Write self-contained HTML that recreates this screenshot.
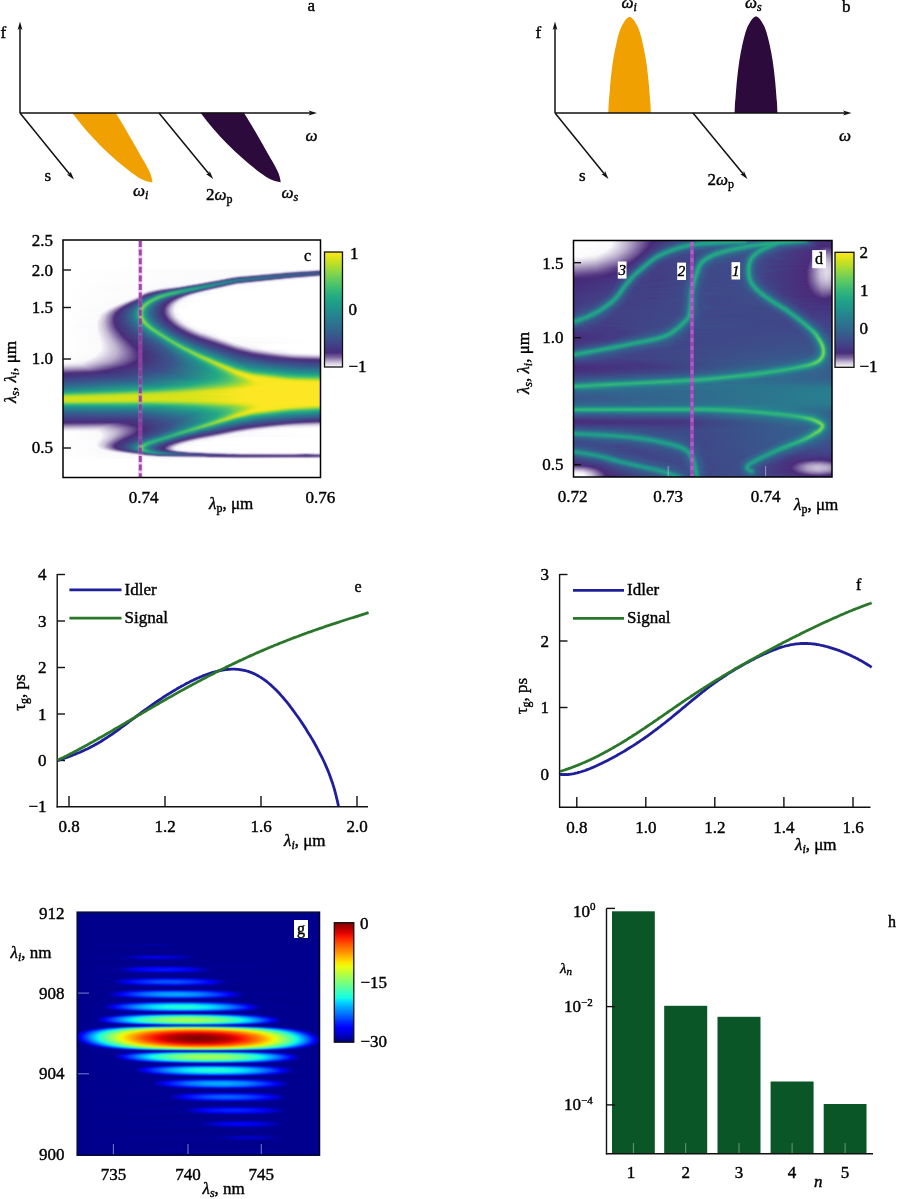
<!DOCTYPE html>
<html><head><meta charset="utf-8"><style>
html,body{margin:0;padding:0;background:#fff;}
body{width:897px;height:1199px;position:relative;overflow:hidden;}
.hm{position:absolute;}
.hm div{height:1px;}
svg{position:absolute;left:0;top:0;}
svg text{stroke:#000;stroke-width:0.4px;}
</style></head><body>
<div class="hm" style="left:78px;top:913px;width:242px;height:242px">
<div style="background:#00008d"></div>
<div style="background:#00008d"></div>
<div style="background:#00008d"></div>
<div style="background:#00008d"></div>
<div style="background:#00008d"></div>
<div style="background:#00008d"></div>
<div style="background:#00008d"></div>
<div style="background:#00008d"></div>
<div style="background:#00008d"></div>
<div style="background:#00008d"></div>
<div style="background:#00008d"></div>
<div style="background:#00008d"></div>
<div style="background:#00008d"></div>
<div style="background:#00008d"></div>
<div style="background:#00008d"></div>
<div style="background:#00008d"></div>
<div style="background:#00008d"></div>
<div style="background:#00008d"></div>
<div style="background:#00008d"></div>
<div style="background:#00008d"></div>
<div style="background:#00008d"></div>
<div style="background:#00008d"></div>
<div style="background:#00008d"></div>
<div style="background:#00008d"></div>
<div style="background:#00008d"></div>
<div style="background:#00008d"></div>
<div style="background:#00008d"></div>
<div style="background:#00008d"></div>
<div style="background:#00008d"></div>
<div style="background:#00008d"></div>
<div style="background:linear-gradient(90deg,#00008d 0.5px,#00008f 91.5px,#00008d 241.5px)"></div>
<div style="background:linear-gradient(90deg,#00008d 0.5px,#000093 55.5px,#0000a2 77.5px,#00008d 101.5px,#00008d 241.5px)"></div>
<div style="background:linear-gradient(90deg,#00008d 0.5px,#000092 54.5px,#0000a5 75.5px,#00008d 101.5px,#00008d 241.5px)"></div>
<div style="background:linear-gradient(90deg,#00008d 0.5px,#000093 61.5px,#000094 84.5px,#00008d 146.5px,#00008d 241.5px)"></div>
<div style="background:#00008d"></div>
<div style="background:#00008d"></div>
<div style="background:#00008d"></div>
<div style="background:#00008d"></div>
<div style="background:#00008d"></div>
<div style="background:#00008d"></div>
<div style="background:#00008d"></div>
<div style="background:linear-gradient(90deg,#00008d 0.5px,#000095 57.5px,#000098 93.5px,#00008d 129.5px,#00008d 241.5px)"></div>
<div style="background:linear-gradient(90deg,#00008d 0.5px,#000093 47.5px,#0000bd 70.5px,#0000b7 91.5px,#00008d 115.5px,#00008d 241.5px)"></div>
<div style="background:linear-gradient(90deg,#00008d 0.5px,#000091 43.5px,#0000d2 65.5px,#0000da 84.5px,#0000b8 102.5px,#00008d 116.5px,#00008d 241.5px)"></div>
<div style="background:linear-gradient(90deg,#00008d 0.5px,#000092 43.5px,#0000d2 63.5px,#0000e2 80.5px,#0000ca 98.5px,#00008d 117.5px,#00008d 241.5px)"></div>
<div style="background:linear-gradient(90deg,#00008d 0.5px,#000093 46.5px,#0000cd 70.5px,#0000cb 89.5px,#00008d 117.5px,#00008d 241.5px)"></div>
<div style="background:linear-gradient(90deg,#00008d 0.5px,#000094 52.5px,#0000b1 79.5px,#00009c 100.5px,#00008d 122.5px,#00008d 241.5px)"></div>
<div style="background:linear-gradient(90deg,#00008d 0.5px,#000091 97.5px,#00008d 241.5px)"></div>
<div style="background:#00008d"></div>
<div style="background:#00008d"></div>
<div style="background:#00008d"></div>
<div style="background:#00008d"></div>
<div style="background:linear-gradient(90deg,#00008d 0.5px,#000095 64.5px,#000095 103.5px,#00008d 192.5px,#00008d 241.5px)"></div>
<div style="background:linear-gradient(90deg,#00008d 0.5px,#000095 48.5px,#0000c3 78.5px,#0000b8 99.5px,#00008f 124.5px,#00008d 241.5px)"></div>
<div style="background:linear-gradient(90deg,#00008d 0.5px,#000093 41.5px,#0000e0 66.5px,#0004ee 87.5px,#0000d2 108.5px,#000092 128.5px,#00008d 241.5px)"></div>
<div style="background:linear-gradient(90deg,#00008d 0.5px,#000092 38.5px,#0000f0 59.5px,#000cfd 90.5px,#0000ed 110.5px,#00008e 133.5px,#00008d 241.5px)"></div>
<div style="background:linear-gradient(90deg,#00008d 0.5px,#000094 38.5px,#0000eb 55.5px,#0000fe 63.5px,#0014ff 87.5px,#0000f7 111.5px,#0000ae 127.5px,#00008d 134.5px,#00008d 241.5px)"></div>
<div style="background:linear-gradient(90deg,#00008d 0.5px,#000094 39.5px,#0000ed 59.5px,#000efd 84.5px,#0000f1 110.5px,#000098 130.5px,#00008d 137.5px,#00008d 241.5px)"></div>
<div style="background:linear-gradient(90deg,#00008d 0.5px,#000093 42.5px,#0001e0 69.5px,#0004ed 89.5px,#0000d3 109.5px,#00008f 131.5px,#00008d 241.5px)"></div>
<div style="background:linear-gradient(90deg,#00008d 0.5px,#000094 49.5px,#0000c0 83.5px,#0000b2 104.5px,#00008e 128.5px,#00008d 241.5px)"></div>
<div style="background:linear-gradient(90deg,#00008d 0.5px,#000096 70.5px,#000093 107.5px,#00008d 241.5px)"></div>
<div style="background:#00008d"></div>
<div style="background:#00008d"></div>
<div style="background:#00008d"></div>
<div style="background:linear-gradient(90deg,#00008d 0.5px,#000096 56.5px,#0001a6 95.5px,#00008d 143.5px,#00008d 241.5px)"></div>
<div style="background:linear-gradient(90deg,#00008d 0.5px,#000094 43.5px,#0000b3 56.5px,#0007d5 75.5px,#0008d6 102.5px,#0000b5 122.5px,#000096 135.5px,#00008d 158.5px,#00008d 241.5px)"></div>
<div style="background:linear-gradient(90deg,#00008d 0.5px,#000093 37.5px,#0005ec 60.5px,#0026f9 87.5px,#0014f3 110.5px,#0004e1 123.5px,#000094 143.5px,#00008d 231.5px,#00008d 241.5px)"></div>
<div style="background:linear-gradient(90deg,#00008d 0.5px,#000091 34.5px,#0000f2 51.5px,#0034fe 73.5px,#0045ff 93.5px,#0027fe 113.5px,#0000ef 130.5px,#00008f 148.5px,#00008d 241.5px)"></div>
<div style="background:linear-gradient(90deg,#00008d 0.5px,#000090 33.5px,#0000f9 49.5px,#001eff 60.5px,#004eff 79.5px,#0053ff 98.5px,#002eff 117.5px,#0000fb 131.5px,#0000d9 138.5px,#00008f 149.5px,#00008d 241.5px)"></div>
<div style="background:linear-gradient(90deg,#00008d 0.5px,#000093 34.5px,#0000f7 50.5px,#0049ff 78.5px,#0051ff 98.5px,#002aff 118.5px,#0000f9 132.5px,#0000b7 143.5px,#00008d 150.5px,#00008d 241.5px)"></div>
<div style="background:linear-gradient(90deg,#00008d 0.5px,#000093 36.5px,#0002ee 54.5px,#0030fd 77.5px,#003bfe 96.5px,#0017fb 119.5px,#0000e9 131.5px,#00008f 148.5px,#00008d 241.5px)"></div>
<div style="background:linear-gradient(90deg,#00008d 0.5px,#000094 40.5px,#0000b0 49.5px,#0008e5 67.5px,#001bf0 96.5px,#0007e1 119.5px,#0000b5 134.5px,#000094 143.5px,#00008d 185.5px,#00008d 241.5px)"></div>
<div style="background:linear-gradient(90deg,#00008d 0.5px,#000095 49.5px,#0005c5 85.5px,#0002be 109.5px,#00008e 144.5px,#00008d 241.5px)"></div>
<div style="background:linear-gradient(90deg,#00008d 0.5px,#000096 71.5px,#000099 109.5px,#00008d 154.5px,#00008d 241.5px)"></div>
<div style="background:#00008d"></div>
<div style="background:#00008d"></div>
<div style="background:linear-gradient(90deg,#00008d 0.5px,#000094 52.5px,#0002aa 80.5px,#0001a2 127.5px,#00008e 150.5px,#00008d 241.5px)"></div>
<div style="background:linear-gradient(90deg,#00008d 0.5px,#000094 40.5px,#0001b3 52.5px,#0011e2 74.5px,#001ee2 101.5px,#000edc 122.5px,#0000a9 141.5px,#00008d 159.5px,#00008d 241.5px)"></div>
<div style="background:linear-gradient(90deg,#00008d 0.5px,#000093 34.5px,#0000ab 40.5px,#000bec 55.5px,#0046fc 79.5px,#0056fd 98.5px,#0037fa 121.5px,#0007e0 140.5px,#0000a4 153.5px,#00008d 163.5px,#00008d 241.5px)"></div>
<div style="background:linear-gradient(90deg,#00008d 0.5px,#000092 31.5px,#0003f1 46.5px,#0042fe 62.5px,#0079ff 81.5px,#0086ff 100.5px,#0066ff 120.5px,#000ff5 143.5px,#0001e5 149.5px,#000093 162.5px,#00008d 241.5px)"></div>
<div style="background:linear-gradient(90deg,#00008d 0.5px,#00008f 29.5px,#0000f5 42.5px,#0019fe 49.5px,#006eff 67.5px,#009bff 86.5px,#009eff 105.5px,#0079ff 123.5px,#0022fe 143.5px,#0000f5 151.5px,#00008f 165.5px,#00008d 241.5px)"></div>
<div style="background:linear-gradient(90deg,#00008d 0.5px,#000090 29.5px,#0000f9 42.5px,#0017ff 48.5px,#006fff 66.5px,#00a0ff 85.5px,#00a6ff 102.5px,#008aff 120.5px,#0045ff 138.5px,#0001fd 151.5px,#0000d7 157.5px,#000091 165.5px,#00008d 241.5px)"></div>
<div style="background:linear-gradient(90deg,#00008d 0.5px,#000091 30.5px,#0001f3 44.5px,#0047ff 60.5px,#0085ff 78.5px,#009dff 98.5px,#0081ff 119.5px,#003bff 138.5px,#0000f6 151.5px,#00008f 165.5px,#00008d 241.5px)"></div>
<div style="background:linear-gradient(90deg,#00008d 0.5px,#000093 33.5px,#0000b7 40.5px,#0008ee 51.5px,#004afd 70.5px,#0074fe 89.5px,#0071fe 109.5px,#0045fd 128.5px,#0006ee 146.5px,#0000ab 158.5px,#00008f 164.5px,#00008d 241.5px)"></div>
<div style="background:linear-gradient(90deg,#00008d 0.5px,#000094 38.5px,#0000b0 47.5px,#000ee2 62.5px,#003ef3 89.5px,#003af2 112.5px,#0008d9 139.5px,#0000a6 152.5px,#00008d 164.5px,#00008d 241.5px)"></div>
<div style="background:linear-gradient(90deg,#00008d 0.5px,#000094 47.5px,#0012d0 93.5px,#000cc3 119.5px,#00008e 156.5px,#00008d 241.5px)"></div>
<div style="background:linear-gradient(90deg,#00008d 0.5px,#000196 72.5px,#0001a0 110.5px,#00008d 154.5px,#00008d 241.5px)"></div>
<div style="background:#00008d"></div>
<div style="background:linear-gradient(90deg,#00008d 0.5px,#000095 51.5px,#0004aa 72.5px,#000faa 111.5px,#0001a2 142.5px,#00008e 162.5px,#00008d 241.5px)"></div>
<div style="background:linear-gradient(90deg,#00008d 0.5px,#000094 38.5px,#0008c2 55.5px,#0018e2 68.5px,#0042e2 93.5px,#003ee2 114.5px,#0014db 139.5px,#00009e 161.5px,#00008d 174.5px,#00008d 241.5px)"></div>
<div style="background:linear-gradient(90deg,#00008d 0.5px,#000093 31.5px,#0000b0 38.5px,#000ee6 50.5px,#0060fc 72.5px,#008efc 92.5px,#008efc 111.5px,#0064fc 130.5px,#0015e6 152.5px,#0001bb 164.5px,#00009a 171.5px,#00008d 182.5px,#00008d 241.5px)"></div>
<div style="background:linear-gradient(90deg,#00008d 0.5px,#000092 27.5px,#0000bf 34.5px,#0009f0 42.5px,#005afe 57.5px,#00acff 76.5px,#06d0f7 94.5px,#05cbf8 114.5px,#00a0ff 132.5px,#004cfd 150.5px,#0008e9 164.5px,#000096 177.5px,#00008d 191.5px,#00008d 241.5px)"></div>
<div style="background:linear-gradient(90deg,#00008d 0.5px,#000090 25.5px,#0002f5 37.5px,#0079ff 56.5px,#00ccfd 74.5px,#10f0e9 90.5px,#11f1e7 114.5px,#01d1fc 130.5px,#0081ff 148.5px,#000af6 167.5px,#0000d3 173.5px,#000091 181.5px,#00008d 241.5px)"></div>
<div style="background:linear-gradient(90deg,#00008d 0.5px,#00008f 24.5px,#0000f9 35.5px,#0022ff 41.5px,#009bff 59.5px,#02e2f7 75.5px,#18fcdf 88.5px,#20fed7 111.5px,#09efef 127.5px,#00bfff 140.5px,#0059ff 158.5px,#0003fb 170.5px,#0000ed 173.5px,#000093 182.5px,#00008d 241.5px)"></div>
<div style="background:linear-gradient(90deg,#00008d 0.5px,#000093 25.5px,#0000f5 35.5px,#001fff 41.5px,#0099ff 59.5px,#03e3f6 76.5px,#18fbdf 88.5px,#21fed6 111.5px,#0af1ed 127.5px,#00c6ff 139.5px,#0064ff 157.5px,#0001fd 171.5px,#0000de 175.5px,#00008f 183.5px,#00008d 241.5px)"></div>
<div style="background:linear-gradient(90deg,#00008d 0.5px,#000092 26.5px,#0003f0 38.5px,#0043fe 49.5px,#00a9ff 67.5px,#0ae7ef 85.5px,#16f4e3 108.5px,#05e1f4 126.5px,#009eff 144.5px,#002afe 163.5px,#0001f1 171.5px,#000090 182.5px,#00008d 241.5px)"></div>
<div style="background:linear-gradient(90deg,#00008d 0.5px,#000094 29.5px,#0000b5 35.5px,#000ceb 45.5px,#0059fc 60.5px,#00a9fd 79.5px,#06cbf7 98.5px,#04c2f9 119.5px,#008efe 138.5px,#0021f5 160.5px,#0004e3 167.5px,#000092 180.5px,#00008d 241.5px)"></div>
<div style="background:linear-gradient(90deg,#00008d 0.5px,#000094 34.5px,#0001b2 43.5px,#0014e2 56.5px,#0062f5 80.5px,#017dfc 102.5px,#006efa 124.5px,#0039e9 144.5px,#000ede 157.5px,#00009d 172.5px,#00008d 183.5px,#00008d 241.5px)"></div>
<div style="background:linear-gradient(90deg,#00008d 0.5px,#000094 43.5px,#0005aa 59.5px,#0010b9 68.5px,#0023e2 93.5px,#001fdb 126.5px,#0004aa 152.5px,#00008e 176.5px,#00008d 241.5px)"></div>
<div style="background:linear-gradient(90deg,#00008d 0.5px,#000196 66.5px,#0005ac 100.5px,#0003a2 135.5px,#00008f 163.5px,#00008d 241.5px)"></div>
<div style="background:linear-gradient(90deg,#00008d 0.5px,#000196 51.5px,#0007ab 70.5px,#001cac 109.5px,#0002a4 155.5px,#000090 172.5px,#00008d 241.5px)"></div>
<div style="background:linear-gradient(90deg,#00008d 0.5px,#000096 35.5px,#000cb7 51.5px,#0022e2 65.5px,#015fe1 89.5px,#036ddd 111.5px,#0152e1 133.5px,#001edc 153.5px,#0005aa 168.5px,#00008e 189.5px,#00008d 241.5px)"></div>
<div style="background:linear-gradient(90deg,#00008d 0.5px,#000095 27.5px,#0001af 34.5px,#0015e2 45.5px,#017efa 67.5px,#0db3ed 83.5px,#17cddf 105.5px,#0fbaeb 129.5px,#0389f7 146.5px,#005bf3 157.5px,#0014df 172.5px,#00009f 186.5px,#00008d 196.5px,#00008d 241.5px)"></div>
<div style="background:linear-gradient(90deg,#00008d 0.5px,#000094 22.5px,#0000b0 27.5px,#000feb 36.5px,#005ffd 48.5px,#06bff7 63.5px,#21e8d8 76.5px,#47f7b0 103.5px,#3cf3bd 125.5px,#16dee3 145.5px,#01a0fb 159.5px,#0035f5 175.5px,#000add 183.5px,#00009c 193.5px,#00008d 201.5px,#00008d 241.5px)"></div>
<div style="background:linear-gradient(90deg,#00008d 0.5px,#000091 19.5px,#0000cf 26.5px,#000cf3 31.5px,#0075ff 44.5px,#05d5f7 57.5px,#1ef2db 65.5px,#5efe99 86.5px,#76ff80 108.5px,#61fe96 130.5px,#20f2d8 152.5px,#06d0f7 161.5px,#0046fd 179.5px,#0008eb 188.5px,#000097 198.5px,#00008d 208.5px,#00008d 241.5px)"></div>
<div style="background:linear-gradient(90deg,#00008d 0.5px,#000093 18.5px,#0002f6 27.5px,#0044ff 35.5px,#01d5fb 52.5px,#16f6e2 58.5px,#68ff8e 79.5px,#90ff67 100.5px,#8eff69 121.5px,#5eff99 143.5px,#15f3e4 161.5px,#00c2fe 169.5px,#000bf8 190.5px,#0000de 194.5px,#000094 201.5px,#00008d 221.5px,#00008d 241.5px)"></div>
<div style="background:linear-gradient(90deg,#00008d 0.5px,#000090 17.5px,#0001fa 26.5px,#001fff 30.5px,#00c6ff 48.5px,#0bf2ec 54.5px,#2fffc7 61.5px,#7cff7b 81.5px,#a0ff57 102.5px,#9aff5d 124.5px,#64ff92 146.5px,#13f9e4 164.5px,#00d0fe 170.5px,#0042ff 186.5px,#0003fa 193.5px,#0000e1 196.5px,#000096 202.5px,#00008d 209.5px,#00008d 241.5px)"></div>
<div style="background:linear-gradient(90deg,#00008d 0.5px,#00008f 17.5px,#0000d4 23.5px,#0003fb 27.5px,#00d2fe 50.5px,#19fbde 57.5px,#6eff89 77.5px,#9cff5b 98.5px,#9eff59 121.5px,#73ff83 142.5px,#20fed7 162.5px,#06eaf2 167.5px,#00bdff 173.5px,#0004fd 193.5px,#0000e6 196.5px,#000090 203.5px,#00008d 241.5px)"></div>
<div style="background:linear-gradient(90deg,#00008d 0.5px,#000094 19.5px,#0003ef 28.5px,#003ffe 36.5px,#03d6f8 54.5px,#1df5dc 61.5px,#6cff8b 82.5px,#90ff66 104.5px,#87ff70 126.5px,#57fea0 146.5px,#15f3e3 162.5px,#00c4ff 170.5px,#0006f6 192.5px,#0000e3 195.5px,#000092 202.5px,#00008d 241.5px)"></div>
<div style="background:linear-gradient(90deg,#00008d 0.5px,#000093 21.5px,#0000b4 26.5px,#000ee9 34.5px,#0066fc 46.5px,#07c8f5 60.5px,#21e8d7 69.5px,#60fb97 95.5px,#6afc8c 118.5px,#45f8b2 140.5px,#11dee8 158.5px,#009efd 169.5px,#0023f4 185.5px,#0003de 191.5px,#000094 200.5px,#00008d 219.5px,#00008d 241.5px)"></div>
<div style="background:linear-gradient(90deg,#00008d 0.5px,#000093 25.5px,#0002b8 34.5px,#0017e2 43.5px,#0068ed 57.5px,#0a9ef1 70.5px,#24d2d2 89.5px,#36dac1 114.5px,#1bcbdb 139.5px,#0289f8 159.5px,#0010df 182.5px,#00009e 194.5px,#00008d 203.5px,#00008d 241.5px)"></div>
<div style="background:linear-gradient(90deg,#00008d 0.5px,#000094 33.5px,#0005aa 45.5px,#0016b4 53.5px,#012de4 67.5px,#086ddb 90.5px,#0e7cd5 116.5px,#0565de 139.5px,#0028e1 160.5px,#000cab 175.5px,#00009c 187.5px,#00008d 198.5px,#00008d 241.5px)"></div>
<div style="background:linear-gradient(90deg,#00008d 0.5px,#000497 49.5px,#000bc3 64.5px,#0342c3 96.5px,#0447c2 124.5px,#0123c5 150.5px,#0008bc 165.5px,#000292 181.5px,#00008d 241.5px)"></div>
<div style="background:linear-gradient(90deg,#00008d 0.5px,#000195 27.5px,#0006aa 37.5px,#0020b0 48.5px,#0237e2 61.5px,#136dd0 79.5px,#2090c3 105.5px,#1e87c5 132.5px,#0c58d7 156.5px,#0234dd 168.5px,#001ca9 181.5px,#0002a4 195.5px,#000090 205.5px,#00008d 241.5px)"></div>
<div style="background:linear-gradient(90deg,#00008d 0.5px,#000095 17.5px,#000ab5 27.5px,#0020e2 35.5px,#0a86e0 51.5px,#1aaedf 62.5px,#36cbc0 71.5px,#69dd8e 93.5px,#77e17f 119.5px,#59d69e 144.5px,#25bcd2 162.5px,#17a2e0 169.5px,#0369de 182.5px,#0022e1 193.5px,#0005aa 203.5px,#00008e 217.5px,#00008d 241.5px)"></div>
<div style="background:linear-gradient(90deg,#00008d 0.5px,#000096 11.5px,#0002b5 17.5px,#0018e2 24.5px,#017bfa 36.5px,#18cedf 47.5px,#3fe6b9 55.5px,#8efa69 73.5px,#b8f041 88.5px,#cfe72a 114.5px,#baee3f 139.5px,#8bf96c 156.5px,#26d9d1 179.5px,#0da6ee 187.5px,#0168f6 195.5px,#0018e1 205.5px,#0001a3 215.5px,#00008e 223.5px,#00008d 241.5px)"></div>
<div style="background:linear-gradient(90deg,#00008d 0.5px,#000098 7.5px,#0001c0 12.5px,#0018eb 18.5px,#0068fc 26.5px,#0dccee 36.5px,#2eeccb 42.5px,#7efd79 55.5px,#c9f530 70.5px,#ebda12 83.5px,#f6b407 106.5px,#f4b809 128.5px,#e1e718 151.5px,#a8fd4f 167.5px,#49f3b0 183.5px,#1bdbde 191.5px,#05a5f6 198.5px,#0046f7 207.5px,#0012e1 213.5px,#00009d 222.5px,#00008d 229.5px,#00008d 241.5px)"></div>
<div style="background:linear-gradient(90deg,#00008d 0.5px,#00009f 5.5px,#000cec 12.5px,#0054fe 19.5px,#08ccf5 29.5px,#28f2d0 35.5px,#89ff6e 48.5px,#dbf51e 62.5px,#f4d109 72.5px,#fe8601 95.5px,#fe7000 116.5px,#fe8901 137.5px,#ede20f 163.5px,#b9fd3e 175.5px,#3bf5bd 193.5px,#14dde5 199.5px,#018cfe 207.5px,#0024f2 216.5px,#0006d1 221.5px,#00009a 227.5px,#00008d 234.5px,#00008d 241.5px)"></div>
<div style="background:linear-gradient(90deg,#000091 0.5px,#0000a9 3.5px,#000bf2 9.5px,#005eff 16.5px,#05d2f7 25.5px,#23f6d5 30.5px,#adff49 47.5px,#e9f110 57.5px,#feae01 70.5px,#ff5e00 90.5px,#fd3c00 110.5px,#fe4800 131.5px,#ff7e00 151.5px,#f3de0a 171.5px,#d1fa28 179.5px,#5afe9d 195.5px,#1becdd 203.5px,#02b1fb 209.5px,#0026f8 220.5px,#0007e1 224.5px,#00009d 230.5px,#00008d 236.5px,#00008d 241.5px)"></div>
<div style="background:linear-gradient(90deg,#0000a0 0.5px,#0005f2 6.5px,#003eff 11.5px,#04d4f8 22.5px,#1df7db 26.5px,#c8ff2f 46.5px,#f2ed08 53.5px,#ff9800 67.5px,#ff4500 85.5px,#f61d00 102.5px,#f11800 124.5px,#fd3400 142.5px,#ff7b00 160.5px,#f5e208 178.5px,#cafe2d 186.5px,#2bf8cc 205.5px,#08d6f4 210.5px,#0060ff 219.5px,#0013f5 225.5px,#0001d0 229.5px,#000095 234.5px,#00008d 241.5px)"></div>
<div style="background:linear-gradient(90deg,#0000b9 0.5px,#0002f3 4.5px,#001ffe 7.5px,#03d8f9 20.5px,#20fad7 24.5px,#d2ff25 44.5px,#f7ea05 50.5px,#ff6200 71.5px,#f91c00 88.5px,#dc0700 103.5px,#d30500 123.5px,#f31500 142.5px,#ff4800 157.5px,#febc01 177.5px,#eef20b 185.5px,#adff49 194.5px,#24f8d3 209.5px,#07dbf4 213.5px,#006eff 221.5px,#0011f8 228.5px,#0001dd 231.5px,#000097 236.5px,#00008d 241.5px)"></div>
<div style="background:linear-gradient(90deg,#0000cf 0.5px,#0002f8 3.5px,#0022ff 6.5px,#01d2fd 18.5px,#1cfbdb 22.5px,#cdff2a 41.5px,#f2f507 46.5px,#ffb800 54.5px,#ff4100 73.5px,#f20f00 85.5px,#bc0000 105.5px,#b50000 125.5px,#e30700 145.5px,#fe2b00 157.5px,#ff9f00 177.5px,#f7e905 187.5px,#d0ff27 193.5px,#21f9d6 212.5px,#04d7f8 216.5px,#001dfd 229.5px,#0003ee 232.5px,#000096 238.5px,#00008d 241.5px)"></div>
<div style="background:linear-gradient(90deg,#0000dd 0.5px,#0005fd 3.5px,#03e0f8 18.5px,#1dfdda 21.5px,#d1ff25 40.5px,#f8f203 45.5px,#ff6400 64.5px,#f71000 80.5px,#cb0000 91.5px,#a00000 108.5px,#9f0000 126.5px,#c60000 143.5px,#f30f00 155.5px,#ff4400 166.5px,#ffb500 183.5px,#f3f307 191.5px,#bbff3c 198.5px,#21fbd6 214.5px,#03d8f9 218.5px,#000dfc 232.5px,#0000dd 235.5px,#00009a 239.5px,#00008e 241.5px)"></div>
<div style="background:linear-gradient(90deg,#0000e2 0.5px,#0009ff 3.5px,#01d9fc 17.5px,#17fcdf 20.5px,#d0ff27 39.5px,#f1fa07 43.5px,#ffd900 47.5px,#ff4700 67.5px,#f70e00 78.5px,#d00000 86.5px,#980000 104.5px,#8b0000 122.5px,#ac0000 141.5px,#ef0800 157.5px,#ff2800 164.5px,#ff9d00 182.5px,#f9ef03 192.5px,#d3ff24 197.5px,#27fed0 215.5px,#0aecef 218.5px,#00b5ff 222.5px,#000ffe 233.5px,#0000e4 236.5px,#00009d 240.5px,#000093 241.5px)"></div>
<div style="background:linear-gradient(90deg,#0000e1 0.5px,#0009ff 3.5px,#01dafc 17.5px,#18fcdf 20.5px,#daff1d 40.5px,#faf001 44.5px,#ff5c00 63.5px,#f70d00 77.5px,#d30000 84.5px,#970000 101.5px,#820000 118.5px,#950000 136.5px,#d50000 154.5px,#f91000 161.5px,#ff8300 180.5px,#fbec01 193.5px,#ddff19 197.5px,#32ffc5 215.5px,#12f7e5 218.5px,#01d2fd 221.5px,#000efe 234.5px,#0001f3 236.5px,#00009d 241.5px)"></div>
<div style="background:linear-gradient(90deg,#0000da 0.5px,#0005fd 3.5px,#00d5fd 17.5px,#14fae3 20.5px,#d8ff1f 40.5px,#f8f303 44.5px,#ff6500 62.5px,#f80e00 77.5px,#d30000 84.5px,#960000 101.5px,#810000 118.5px,#900000 135.5px,#cb0000 153.5px,#f00700 160.5px,#ff2000 165.5px,#ff9300 183.5px,#faf001 194.5px,#e3ff14 197.5px,#39ffbe 215.5px,#0ef5e9 219.5px,#00ccfe 222.5px,#000afe 235.5px,#0000ee 237.5px,#0000a7 241.5px)"></div>
<div style="background:linear-gradient(90deg,#0000cb 0.5px,#0002f8 3.5px,#0023ff 6.5px,#01d8fb 18.5px,#17fae0 21.5px,#c8ff2f 39.5px,#f1f908 44.5px,#ffcf00 49.5px,#ff4b00 67.5px,#f81000 78.5px,#d40000 85.5px,#990000 102.5px,#860000 118.5px,#940000 135.5px,#ce0000 153.5px,#f30900 160.5px,#ff2700 166.5px,#ff9b00 184.5px,#fbef01 194.5px,#e4ff13 197.5px,#3bffbc 215.5px,#10f7e7 219.5px,#00cffe 222.5px,#0003fc 236.5px,#0000ce 239.5px,#0000ac 241.5px)"></div>
<div style="background:linear-gradient(90deg,#0000b6 0.5px,#0002f5 4.5px,#0022ff 7.5px,#01d5fb 19.5px,#15f7e3 22.5px,#a9ff4e 37.5px,#ecfa0c 45.5px,#fed500 50.5px,#ff4c00 69.5px,#f81100 80.5px,#cd0000 90.5px,#9c0000 107.5px,#910000 125.5px,#b50000 144.5px,#ef0800 158.5px,#ff2800 165.5px,#ff9900 183.5px,#f7f303 194.5px,#d8ff1f 198.5px,#23fed4 217.5px,#05e8f4 220.5px,#00a1ff 225.5px,#000aff 235.5px,#0000f1 237.5px,#0000ab 241.5px)"></div>
<div style="background:linear-gradient(90deg,#00009f 0.5px,#0006f7 6.5px,#0046ff 11.5px,#04d9f8 21.5px,#22fbd5 25.5px,#d3ff24 44.5px,#f7ed05 49.5px,#ff6400 68.5px,#f61300 84.5px,#cb0100 96.5px,#a60000 114.5px,#aa0000 131.5px,#dc0300 150.5px,#fe2100 161.5px,#ff8f00 180.5px,#faed02 192.5px,#d6ff20 197.5px,#30ffc7 215.5px,#11f6e6 218.5px,#00d1fd 221.5px,#0005fd 235.5px,#0000e9 237.5px,#0000a2 241.5px)"></div>
<div style="background:linear-gradient(90deg,#000091 0.5px,#0000af 3.5px,#0003ed 7.5px,#0029fe 11.5px,#04d5f8 23.5px,#1ff8d8 27.5px,#c4ff32 45.5px,#f0f20a 51.5px,#ffb300 60.5px,#ff4500 78.5px,#ef1000 92.5px,#c10100 113.5px,#c40100 132.5px,#f21000 151.5px,#ff4800 165.5px,#ffb700 183.5px,#f4f206 191.5px,#c0ff37 198.5px,#19f9df 216.5px,#01cefd 220.5px,#0007fc 234.5px,#0000d8 237.5px,#000096 241.5px)"></div>
<div style="background:linear-gradient(90deg,#00008e 0.5px,#0000a0 4.5px,#0008ef 10.5px,#003ffe 15.5px,#03cbf9 25.5px,#22f6d6 30.5px,#afff48 46.5px,#eef00c 55.5px,#ffa900 66.5px,#ff4900 84.5px,#f31600 100.5px,#dd0800 120.5px,#ed1000 140.5px,#ff3e00 157.5px,#ff9a00 175.5px,#f6ea06 187.5px,#d2ff24 193.5px,#2efdc9 212.5px,#0be8ef 216.5px,#00a9ff 221.5px,#000efc 232.5px,#0000e2 235.5px,#000095 240.5px,#00008f 241.5px)"></div>
<div style="background:linear-gradient(90deg,#00008d 0.5px,#00009b 6.5px,#000aed 13.5px,#004bfe 19.5px,#06cff6 29.5px,#26f5d3 34.5px,#94ff63 47.5px,#e6f312 59.5px,#febd01 69.5px,#ff5b00 89.5px,#f92a00 108.5px,#f72400 131.5px,#ff4600 149.5px,#ff8d00 167.5px,#f3e908 183.5px,#c5ff32 191.5px,#27f9d0 210.5px,#0ae1f0 214.5px,#0096ff 220.5px,#0010f9 230.5px,#0001e1 233.5px,#000098 238.5px,#00008d 241.5px)"></div>
<div style="background:linear-gradient(90deg,#00008d 0.5px,#000095 8.5px,#0000ac 11.5px,#000eeb 17.5px,#0059fe 24.5px,#08c9f5 33.5px,#22efd7 38.5px,#70fe87 48.5px,#d2f927 62.5px,#f3da0a 71.5px,#ff7a00 94.5px,#fe5200 113.5px,#fe5500 135.5px,#ff8200 154.5px,#f2e30a 176.5px,#c9fd2e 185.5px,#31f9c6 205.5px,#0ee1eb 210.5px,#0092ff 217.5px,#0015f6 227.5px,#0003e1 230.5px,#000098 236.5px,#00008d 241.5px)"></div>
<div style="background:linear-gradient(90deg,#00008d 0.5px,#000093 11.5px,#0001b5 16.5px,#001aed 23.5px,#0070fd 31.5px,#0bc7f2 39.5px,#24ead5 44.5px,#76fd81 56.5px,#cef62b 71.5px,#eedb0f 81.5px,#fd9501 106.5px,#fe8701 125.5px,#fd9f02 145.5px,#e8e912 169.5px,#acfe4b 182.5px,#37f6c1 199.5px,#11dde8 205.5px,#008cfe 213.5px,#0024f5 222.5px,#0008e0 226.5px,#000099 233.5px,#00008d 240.5px,#00008d 241.5px)"></div>
<div style="background:linear-gradient(90deg,#00008d 0.5px,#000096 16.5px,#0002b8 22.5px,#0015e2 28.5px,#0179fb 39.5px,#11c9e9 48.5px,#31e7c8 54.5px,#7ffc78 68.5px,#bef53b 82.5px,#e6de17 98.5px,#eec50f 121.5px,#ead513 144.5px,#d3ef26 158.5px,#a0fc57 173.5px,#4bf5ac 188.5px,#1adcdf 197.5px,#039cf9 205.5px,#0041f6 214.5px,#000fe2 220.5px,#0000a0 228.5px,#00008d 235.5px,#00008d 241.5px)"></div>
<div style="background:linear-gradient(90deg,#00008d 0.5px,#000096 22.5px,#0006b7 30.5px,#001de2 37.5px,#088cf2 52.5px,#1ecbd8 62.5px,#51e6a5 74.5px,#96f661 95.5px,#b5ec44 118.5px,#aaf04f 143.5px,#81f776 160.5px,#23d5d3 185.5px,#0ca4ee 193.5px,#016af5 201.5px,#0017e1 212.5px,#0001a3 222.5px,#00008e 230.5px,#00008d 241.5px)"></div>
<div style="background:linear-gradient(90deg,#00008d 0.5px,#000096 30.5px,#0007aa 39.5px,#0014bb 44.5px,#0129e2 52.5px,#0c7ed5 67.5px,#2ebdc4 89.5px,#56c7a0 113.5px,#53c6a4 140.5px,#26b7ca 163.5px,#056edc 186.5px,#0022df 199.5px,#0007aa 209.5px,#00008e 225.5px,#00008d 241.5px)"></div>
<div style="background:linear-gradient(90deg,#00008d 0.5px,#000195 43.5px,#0007aa 54.5px,#022faf 75.5px,#0842d4 90.5px,#165acd 127.5px,#0742d6 160.5px,#0128ab 179.5px,#0002a4 201.5px,#000090 211.5px,#00008d 241.5px)"></div>
<div style="background:linear-gradient(90deg,#00008d 0.5px,#000295 59.5px,#0013b5 79.5px,#022dc4 100.5px,#033ec2 128.5px,#001ebd 165.5px,#0004a4 187.5px,#000092 200.5px,#00008d 241.5px)"></div>
<div style="background:linear-gradient(90deg,#00008d 0.5px,#000092 45.5px,#000ab1 59.5px,#0022e2 71.5px,#0679dd 94.5px,#1299d1 120.5px,#0e8dd5 147.5px,#0163e2 166.5px,#0021df 183.5px,#0006aa 196.5px,#000093 208.5px,#00008d 241.5px)"></div>
<div style="background:linear-gradient(90deg,#00008d 0.5px,#000094 40.5px,#0000a9 45.5px,#000ee1 54.5px,#0084fc 74.5px,#0cbfee 86.5px,#26ddd0 98.5px,#44e7b3 123.5px,#35e1c2 148.5px,#16cde1 163.5px,#018df9 178.5px,#004df0 189.5px,#000fdf 200.5px,#00009f 211.5px,#00008d 220.5px,#00008d 241.5px)"></div>
<div style="background:linear-gradient(90deg,#00008d 0.5px,#000092 37.5px,#0007ec 48.5px,#0052fd 58.5px,#04cdf8 74.5px,#20efd8 83.5px,#63fd94 106.5px,#78fd7f 127.5px,#64fd93 148.5px,#27efd2 170.5px,#0ad8ef 178.5px,#0087fe 190.5px,#0020f4 203.5px,#0003d9 209.5px,#000097 217.5px,#00008d 227.5px,#00008d 241.5px)"></div>
<div style="background:linear-gradient(90deg,#00008d 0.5px,#00008f 35.5px,#0000c1 40.5px,#0002f6 45.5px,#003bff 52.5px,#00cffe 69.5px,#17f7e0 76.5px,#6cff8b 97.5px,#94ff62 118.5px,#90ff67 141.5px,#60ff97 162.5px,#16f4e3 180.5px,#00c2fe 188.5px,#000cf7 209.5px,#0000df 213.5px,#000093 220.5px,#00008d 241.5px)"></div>
<div style="background:linear-gradient(90deg,#00008d 0.5px,#00008f 35.5px,#0000f9 44.5px,#001cff 48.5px,#00b3ff 64.5px,#02e2f8 70.5px,#1bfddc 75.5px,#74ff82 96.5px,#a0ff57 117.5px,#9fff58 140.5px,#72ff85 161.5px,#1dfdda 181.5px,#01def9 187.5px,#004aff 204.5px,#0001fb 212.5px,#0000c2 217.5px,#000093 221.5px,#00008d 241.5px)"></div>
<div style="background:linear-gradient(90deg,#00008d 0.5px,#000092 36.5px,#0002f8 45.5px,#003eff 52.5px,#00cdff 68.5px,#16fae1 75.5px,#70ff87 96.5px,#9dff5a 117.5px,#9dff5a 140.5px,#72ff85 161.5px,#18fcdf 182.5px,#00cfff 189.5px,#0042ff 205.5px,#0002fc 212.5px,#0000d3 216.5px,#000093 221.5px,#00008d 241.5px)"></div>
<div style="background:linear-gradient(90deg,#00008d 0.5px,#000091 37.5px,#0000cb 43.5px,#0004f1 47.5px,#0043fe 55.5px,#02d3fa 72.5px,#1af6de 79.5px,#6bff8c 100.5px,#90ff67 122.5px,#8aff6d 143.5px,#5cff9b 163.5px,#16f6e2 180.5px,#00c7fe 188.5px,#0033ff 205.5px,#0003f6 211.5px,#0000d0 215.5px,#000090 221.5px,#00008d 241.5px)"></div>
<div style="background:linear-gradient(90deg,#00008d 0.5px,#000091 39.5px,#0000b2 44.5px,#000cf0 52.5px,#0062fe 63.5px,#06d1f6 78.5px,#21f1d8 87.5px,#5efe99 108.5px,#74fe83 131.5px,#5bfe9c 153.5px,#1bf1de 174.5px,#01c1fc 184.5px,#001af9 205.5px,#0002e4 210.5px,#000097 218.5px,#00008d 227.5px,#00008d 241.5px)"></div>
<div style="background:linear-gradient(90deg,#00008d 0.5px,#000093 43.5px,#0000b1 49.5px,#0015ea 59.5px,#0063fc 71.5px,#08bff5 86.5px,#22e8d7 99.5px,#44f6b3 126.5px,#35f2c3 150.5px,#13dce6 167.5px,#01a3fc 180.5px,#002ff6 197.5px,#0009e2 204.5px,#000097 215.5px,#00008d 226.5px,#00008d 241.5px)"></div>
<div style="background:linear-gradient(90deg,#00008d 0.5px,#000091 48.5px,#0002b4 58.5px,#0017e2 68.5px,#0181f9 91.5px,#0db1ee 106.5px,#15cbe2 128.5px,#0fbcec 150.5px,#028cf8 168.5px,#0058f5 180.5px,#0010df 195.5px,#00009e 208.5px,#00008d 218.5px,#00008d 241.5px)"></div>
<div style="background:linear-gradient(90deg,#00008d 0.5px,#000095 58.5px,#0006aa 71.5px,#0023e2 89.5px,#015fe1 113.5px,#026bde 135.5px,#0152e1 156.5px,#001cdc 177.5px,#0003aa 192.5px,#00008e 211.5px,#00008d 241.5px)"></div>
<div style="background:linear-gradient(90deg,#00008d 0.5px,#000195 75.5px,#0006aa 93.5px,#001cac 132.5px,#0002a4 179.5px,#00008f 196.5px,#00008d 241.5px)"></div>
<div style="background:linear-gradient(90deg,#00008d 0.5px,#000295 95.5px,#0005ab 134.5px,#00008d 196.5px,#00008d 241.5px)"></div>
<div style="background:linear-gradient(90deg,#00008d 0.5px,#000094 72.5px,#0005aa 89.5px,#0012bc 100.5px,#0021de 125.5px,#001ed4 151.5px,#0006aa 177.5px,#000098 192.5px,#00008d 213.5px,#00008d 241.5px)"></div>
<div style="background:linear-gradient(90deg,#00008d 0.5px,#000092 63.5px,#0000b1 72.5px,#0012e2 85.5px,#005ef3 110.5px,#0076fb 131.5px,#0064f4 154.5px,#001de2 178.5px,#000ed9 185.5px,#00009b 201.5px,#00008d 212.5px,#00008d 241.5px)"></div>
<div style="background:linear-gradient(90deg,#00008d 0.5px,#000092 59.5px,#0000b5 65.5px,#0009ea 74.5px,#0052fc 89.5px,#009bfe 106.5px,#05c2f8 124.5px,#05c2f8 144.5px,#0096fd 163.5px,#0029f4 187.5px,#0006dd 196.5px,#000097 208.5px,#00008d 220.5px,#00008d 241.5px)"></div>
<div style="background:linear-gradient(90deg,#00008d 0.5px,#000093 57.5px,#0001f1 68.5px,#0041fe 79.5px,#00b1ff 99.5px,#0be7ee 117.5px,#14f1e5 141.5px,#03d5f9 159.5px,#0086ff 178.5px,#000bf5 198.5px,#0000dd 203.5px,#000093 212.5px,#00008d 241.5px)"></div>
<div style="background:linear-gradient(90deg,#00008d 0.5px,#000092 56.5px,#0000f7 66.5px,#0018ff 71.5px,#0094ff 89.5px,#02e1f7 106.5px,#16fae1 117.5px,#24fed3 139.5px,#0aefee 159.5px,#00bfff 172.5px,#005eff 189.5px,#0003fa 202.5px,#0000e0 206.5px,#000091 214.5px,#00008d 241.5px)"></div>
<div style="background:linear-gradient(90deg,#00008d 0.5px,#000092 56.5px,#0000f7 66.5px,#0018ff 71.5px,#0096ff 89.5px,#02e4f7 106.5px,#19fdde 117.5px,#27ffcf 139.5px,#0df5ea 159.5px,#00caff 171.5px,#0066ff 189.5px,#0001fd 203.5px,#0000df 207.5px,#00008f 215.5px,#00008d 241.5px)"></div>
<div style="background:linear-gradient(90deg,#00008d 0.5px,#000093 57.5px,#0001f3 68.5px,#0037ff 77.5px,#00abff 96.5px,#08e8f1 112.5px,#1bf9dc 127.5px,#15f8e2 149.5px,#02def8 163.5px,#008eff 181.5px,#0001f7 203.5px,#000091 214.5px,#00008d 241.5px)"></div>
<div style="background:linear-gradient(90deg,#00008d 0.5px,#000092 59.5px,#0000c1 66.5px,#0008f1 73.5px,#0058fe 87.5px,#00b6fe 106.5px,#08dff1 124.5px,#08e0f1 148.5px,#00b6ff 166.5px,#0061ff 184.5px,#0007f4 199.5px,#0000cd 205.5px,#000094 212.5px,#00008d 239.5px,#00008d 241.5px)"></div>
<div style="background:linear-gradient(90deg,#00008d 0.5px,#000091 62.5px,#0000af 69.5px,#000dea 80.5px,#005afd 97.5px,#0098fe 114.5px,#03b4fa 133.5px,#00a6fd 153.5px,#006dfd 172.5px,#0019f2 190.5px,#0004db 197.5px,#000095 209.5px,#00008d 230.5px,#00008d 241.5px)"></div>
<div style="background:linear-gradient(90deg,#00008d 0.5px,#000092 68.5px,#0001af 78.5px,#0013e2 92.5px,#0055f6 116.5px,#0069fc 138.5px,#0052f6 160.5px,#000cd9 186.5px,#00009a 202.5px,#00008d 214.5px,#00008d 241.5px)"></div>
<div style="background:linear-gradient(90deg,#00008d 0.5px,#000093 78.5px,#000cba 102.5px,#001ce2 127.5px,#0019db 156.5px,#0001a4 187.5px,#00008e 204.5px,#00008d 241.5px)"></div>
<div style="background:linear-gradient(90deg,#00008d 0.5px,#000195 100.5px,#0003aa 136.5px,#000199 172.5px,#00008d 202.5px,#00008d 241.5px)"></div>
<div style="background:#00008d"></div>
<div style="background:linear-gradient(90deg,#00008d 0.5px,#000094 99.5px,#0002aa 131.5px,#0001a0 169.5px,#00008e 195.5px,#00008d 241.5px)"></div>
<div style="background:linear-gradient(90deg,#00008d 0.5px,#000092 84.5px,#0001b8 101.5px,#0014e2 124.5px,#0012dc 161.5px,#00009b 192.5px,#00008d 206.5px,#00008d 241.5px)"></div>
<div style="background:linear-gradient(90deg,#00008d 0.5px,#000092 78.5px,#0000ad 85.5px,#0009e4 98.5px,#0049fc 126.5px,#004efc 150.5px,#0026f0 172.5px,#0007da 185.5px,#0000ab 196.5px,#00008e 206.5px,#00008d 241.5px)"></div>
<div style="background:linear-gradient(90deg,#00008d 0.5px,#000092 75.5px,#0004f0 90.5px,#0046fe 107.5px,#007cff 126.5px,#0085ff 146.5px,#0066fe 165.5px,#000ff4 188.5px,#0000dd 195.5px,#000093 207.5px,#00008d 241.5px)"></div>
<div style="background:linear-gradient(90deg,#00008d 0.5px,#000090 73.5px,#0000f6 86.5px,#0020fe 94.5px,#0074ff 112.5px,#009eff 130.5px,#00a3ff 149.5px,#0079ff 169.5px,#0029fe 187.5px,#0001f5 196.5px,#0000c3 203.5px,#000090 210.5px,#00008d 241.5px)"></div>
<div style="background:linear-gradient(90deg,#00008d 0.5px,#000091 73.5px,#0000f8 85.5px,#000fff 90.5px,#0072ff 109.5px,#00a6ff 128.5px,#00aeff 148.5px,#008bff 167.5px,#0040ff 185.5px,#0000fc 197.5px,#0000c1 205.5px,#00008f 211.5px,#00008d 241.5px)"></div>
<div style="background:linear-gradient(90deg,#00008d 0.5px,#000092 74.5px,#0000f2 86.5px,#0018fe 93.5px,#0073ff 112.5px,#00a2ff 131.5px,#00a6ff 150.5px,#0082ff 168.5px,#003bff 185.5px,#0000fa 197.5px,#0000ab 207.5px,#00008e 211.5px,#00008d 241.5px)"></div>
<div style="background:linear-gradient(90deg,#00008d 0.5px,#000093 76.5px,#0004f1 91.5px,#0042fe 106.5px,#0081ff 126.5px,#0091ff 145.5px,#0073ff 165.5px,#0031fe 183.5px,#0001f1 195.5px,#00008f 210.5px,#00008d 241.5px)"></div>
<div style="background:linear-gradient(90deg,#00008d 0.5px,#000092 79.5px,#0000af 86.5px,#000bed 100.5px,#004bfd 122.5px,#0066fe 142.5px,#004ffd 163.5px,#000bef 186.5px,#0000c1 197.5px,#000093 206.5px,#00008d 241.5px)"></div>
<div style="background:linear-gradient(90deg,#00008d 0.5px,#000093 85.5px,#0000b0 96.5px,#000fe2 114.5px,#0030ef 142.5px,#001be8 165.5px,#0006d2 181.5px,#000097 199.5px,#00008d 216.5px,#00008d 241.5px)"></div>
<div style="background:linear-gradient(90deg,#00008d 0.5px,#000094 96.5px,#000cc5 141.5px,#0003b3 167.5px,#00008e 201.5px,#00008d 241.5px)"></div>
<div style="background:linear-gradient(90deg,#00008d 0.5px,#000095 123.5px,#000198 161.5px,#00008d 227.5px,#00008d 241.5px)"></div>
<div style="background:#00008d"></div>
<div style="background:#00008d"></div>
<div style="background:linear-gradient(90deg,#00008d 0.5px,#000093 108.5px,#0001aa 144.5px,#000099 181.5px,#00008d 204.5px,#00008d 241.5px)"></div>
<div style="background:linear-gradient(90deg,#00008d 0.5px,#000094 98.5px,#0000b0 109.5px,#0008d8 127.5px,#000de2 152.5px,#0002c9 175.5px,#000098 194.5px,#00008d 211.5px,#00008d 241.5px)"></div>
<div style="background:linear-gradient(90deg,#00008d 0.5px,#000093 93.5px,#0005ec 114.5px,#002efc 141.5px,#0026fa 162.5px,#0004e4 183.5px,#000092 203.5px,#00008d 241.5px)"></div>
<div style="background:linear-gradient(90deg,#00008d 0.5px,#000092 90.5px,#0000f2 106.5px,#0033fe 125.5px,#0051ff 145.5px,#0040ff 165.5px,#0002f4 188.5px,#0000c6 197.5px,#000092 206.5px,#00008d 241.5px)"></div>
<div style="background:linear-gradient(90deg,#00008d 0.5px,#000091 89.5px,#0000f9 104.5px,#0010ff 111.5px,#004fff 130.5px,#0063ff 150.5px,#0046ff 170.5px,#0000f9 192.5px,#00008f 208.5px,#00008d 241.5px)"></div>
<div style="background:linear-gradient(90deg,#00008d 0.5px,#000090 89.5px,#0000f9 105.5px,#0027ff 117.5px,#005aff 137.5px,#005fff 156.5px,#0036ff 176.5px,#0000fd 191.5px,#0000d8 198.5px,#000090 208.5px,#00008d 241.5px)"></div>
<div style="background:linear-gradient(90deg,#00008d 0.5px,#000092 91.5px,#0001f2 108.5px,#0031fe 126.5px,#004fff 145.5px,#0044ff 164.5px,#0001f6 189.5px,#0000cf 197.5px,#000090 207.5px,#00008d 241.5px)"></div>
<div style="background:linear-gradient(90deg,#00008d 0.5px,#000092 94.5px,#0000b6 103.5px,#0008ef 118.5px,#002efd 144.5px,#0022fb 167.5px,#0002e7 185.5px,#000091 205.5px,#00008d 241.5px)"></div>
<div style="background:linear-gradient(90deg,#00008d 0.5px,#000093 100.5px,#0000b0 112.5px,#0006d5 127.5px,#000de8 147.5px,#0009de 168.5px,#0000b5 187.5px,#000097 197.5px,#00008d 216.5px,#00008d 241.5px)"></div>
<div style="background:linear-gradient(90deg,#00008d 0.5px,#000093 111.5px,#0001b5 151.5px,#00008d 202.5px,#00008d 241.5px)"></div>
<div style="background:linear-gradient(90deg,#00008d 0.5px,#00008f 172.5px,#00008d 241.5px)"></div>
<div style="background:#00008d"></div>
<div style="background:#00008d"></div>
<div style="background:#00008d"></div>
<div style="background:linear-gradient(90deg,#00008d 0.5px,#000093 121.5px,#0000a6 158.5px,#00008d 205.5px,#00008d 241.5px)"></div>
<div style="background:linear-gradient(90deg,#00008d 0.5px,#000093 112.5px,#0000b9 126.5px,#0002d5 144.5px,#0001d0 169.5px,#0000ac 186.5px,#000090 199.5px,#00008d 241.5px)"></div>
<div style="background:linear-gradient(90deg,#00008d 0.5px,#000092 107.5px,#0000ea 130.5px,#000ff7 158.5px,#0001e9 179.5px,#0000a8 196.5px,#00008e 205.5px,#00008d 241.5px)"></div>
<div style="background:linear-gradient(90deg,#00008d 0.5px,#000090 105.5px,#0000f3 124.5px,#0018fe 143.5px,#001cfe 163.5px,#0000f3 185.5px,#00008e 206.5px,#00008d 241.5px)"></div>
<div style="background:linear-gradient(90deg,#00008d 0.5px,#000091 105.5px,#0000f5 123.5px,#000fff 135.5px,#0026ff 155.5px,#0010ff 175.5px,#0000f7 187.5px,#00008e 207.5px,#00008d 241.5px)"></div>
<div style="background:linear-gradient(90deg,#00008d 0.5px,#000091 106.5px,#0000f2 126.5px,#001bfe 149.5px,#0012fe 170.5px,#0000ef 187.5px,#00008d 207.5px,#00008d 241.5px)"></div>
<div style="background:linear-gradient(90deg,#00008d 0.5px,#000092 109.5px,#0001e9 133.5px,#000bf6 162.5px,#0000e7 181.5px,#000090 204.5px,#00008d 241.5px)"></div>
<div style="background:linear-gradient(90deg,#00008d 0.5px,#000092 114.5px,#0000b7 129.5px,#0001d3 147.5px,#0000cf 171.5px,#0000af 187.5px,#000090 200.5px,#00008d 241.5px)"></div>
<div style="background:linear-gradient(90deg,#00008d 0.5px,#000093 124.5px,#0000a6 162.5px,#00008d 206.5px,#00008d 241.5px)"></div>
<div style="background:#00008d"></div>
<div style="background:#00008d"></div>
<div style="background:#00008d"></div>
<div style="background:#00008d"></div>
<div style="background:#00008d"></div>
<div style="background:linear-gradient(90deg,#00008d 0.5px,#000094 137.5px,#00009a 174.5px,#00008d 209.5px,#00008d 241.5px)"></div>
<div style="background:linear-gradient(90deg,#00008d 0.5px,#000093 127.5px,#0000c1 153.5px,#0000bc 174.5px,#00008f 199.5px,#00008d 241.5px)"></div>
<div style="background:linear-gradient(90deg,#00008d 0.5px,#000092 123.5px,#0000db 146.5px,#0000e9 165.5px,#0000ce 182.5px,#00008e 203.5px,#00008d 241.5px)"></div>
<div style="background:linear-gradient(90deg,#00008d 0.5px,#000091 121.5px,#0000e1 141.5px,#0000fa 157.5px,#0000f0 176.5px,#0000b4 195.5px,#00008d 205.5px,#00008d 241.5px)"></div>
<div style="background:linear-gradient(90deg,#00008d 0.5px,#000091 121.5px,#0000e5 143.5px,#0000fa 158.5px,#0000f1 176.5px,#0000b6 195.5px,#00008d 205.5px,#00008d 241.5px)"></div>
<div style="background:linear-gradient(90deg,#00008d 0.5px,#000092 124.5px,#0000dd 148.5px,#0000e9 167.5px,#0000ca 185.5px,#00008d 204.5px,#00008d 241.5px)"></div>
<div style="background:linear-gradient(90deg,#00008d 0.5px,#000093 129.5px,#0000c3 156.5px,#0000bd 176.5px,#00008d 202.5px,#00008d 241.5px)"></div>
<div style="background:linear-gradient(90deg,#00008d 0.5px,#000094 139.5px,#00009b 176.5px,#00008d 213.5px,#00008d 241.5px)"></div>
<div style="background:#00008d"></div>
<div style="background:#00008d"></div>
<div style="background:#00008d"></div>
<div style="background:#00008d"></div>
<div style="background:#00008d"></div>
<div style="background:#00008d"></div>
<div style="background:linear-gradient(90deg,#00008d 0.5px,#00008e 191.5px,#00008d 241.5px)"></div>
<div style="background:linear-gradient(90deg,#00008d 0.5px,#000093 146.5px,#0000a6 169.5px,#00008d 206.5px,#00008d 241.5px)"></div>
<div style="background:linear-gradient(90deg,#00008d 0.5px,#000092 140.5px,#0000be 163.5px,#0000b5 181.5px,#00008d 202.5px,#00008d 241.5px)"></div>
<div style="background:linear-gradient(90deg,#00008d 0.5px,#000092 139.5px,#0000c6 159.5px,#0000c6 178.5px,#00009a 196.5px,#00008d 204.5px,#00008d 241.5px)"></div>
<div style="background:linear-gradient(90deg,#00008d 0.5px,#000093 140.5px,#0000c2 162.5px,#0000be 180.5px,#00008d 203.5px,#00008d 241.5px)"></div>
<div style="background:linear-gradient(90deg,#00008d 0.5px,#000093 145.5px,#0000af 166.5px,#0000a3 186.5px,#00008d 203.5px,#00008d 241.5px)"></div>
<div style="background:linear-gradient(90deg,#00008d 0.5px,#000094 155.5px,#00008f 192.5px,#00008d 241.5px)"></div>
<div style="background:#00008d"></div>
<div style="background:#00008d"></div>
<div style="background:#00008d"></div>
<div style="background:#00008d"></div>
<div style="background:#00008d"></div>
<div style="background:#00008d"></div>
<div style="background:#00008d"></div>
<div style="background:#00008d"></div>
<div style="background:#00008d"></div>
<div style="background:linear-gradient(90deg,#00008d 0.5px,#000093 165.5px,#000095 184.5px,#00008d 223.5px,#00008d 241.5px)"></div>
<div style="background:linear-gradient(90deg,#00008d 0.5px,#000093 163.5px,#00009c 180.5px,#00008d 202.5px,#00008d 241.5px)"></div>
<div style="background:linear-gradient(90deg,#00008d 0.5px,#000093 165.5px,#000095 185.5px,#00008d 231.5px,#00008d 241.5px)"></div>
<div style="background:#00008d"></div>
<div style="background:#00008d"></div>
</div>
<div class="hm" style="left:63px;top:240px;width:258px;height:238px">
<div style="background:#ffffff"></div>
<div style="background:#ffffff"></div>
<div style="background:#ffffff"></div>
<div style="background:#ffffff"></div>
<div style="background:#ffffff"></div>
<div style="background:#ffffff"></div>
<div style="background:#ffffff"></div>
<div style="background:#ffffff"></div>
<div style="background:#ffffff"></div>
<div style="background:#ffffff"></div>
<div style="background:#ffffff"></div>
<div style="background:#ffffff"></div>
<div style="background:#ffffff"></div>
<div style="background:#ffffff"></div>
<div style="background:#ffffff"></div>
<div style="background:#ffffff"></div>
<div style="background:#ffffff"></div>
<div style="background:#ffffff"></div>
<div style="background:#ffffff"></div>
<div style="background:#ffffff"></div>
<div style="background:#ffffff"></div>
<div style="background:#ffffff"></div>
<div style="background:#ffffff"></div>
<div style="background:#ffffff"></div>
<div style="background:#ffffff"></div>
<div style="background:#ffffff"></div>
<div style="background:#ffffff"></div>
<div style="background:#ffffff"></div>
<div style="background:#ffffff"></div>
<div style="background:linear-gradient(90deg,#ffffff 0.5px,#faf9fb 244.5px,#e9e5ef 257.5px)"></div>
<div style="background:linear-gradient(90deg,#ffffff 0.5px,#faf9fb 229.5px,#dbd5e5 245.5px,#b1a7c8 256.5px,#aea5c6 257.5px)"></div>
<div style="background:linear-gradient(90deg,#ffffff 0.5px,#f9f8fb 217.5px,#d4cde0 231.5px,#958db7 245.5px,#6a5f99 252.5px,#625e98 257.5px)"></div>
<div style="background:linear-gradient(90deg,#ffffff 0.5px,#faf9fb 205.5px,#dcd7e6 217.5px,#b4abca 224.5px,#8178a9 232.5px,#6a6199 236.5px,#3f508a 254.5px,#3e518b 257.5px)"></div>
<div style="background:linear-gradient(90deg,#ffffff 0.5px,#faf9fb 194.5px,#dbd6e5 206.5px,#8e86b2 218.5px,#696199 222.5px,#3d548b 238.5px,#3c568c 256.5px,#3c558c 257.5px)"></div>
<div style="background:linear-gradient(90deg,#ffffff 0.5px,#faf9fb 183.5px,#dfdae8 194.5px,#8c84b0 207.5px,#6c649b 210.5px,#3c578b 223.5px,#385c8d 241.5px,#45538c 251.5px,#5a5e96 257.5px)"></div>
<div style="background:linear-gradient(90deg,#ffffff 0.5px,#faf9fb 172.5px,#d8d2e3 184.5px,#938cb5 195.5px,#6b659b 199.5px,#3b5a8b 212.5px,#35618d 227.5px,#46558d 239.5px,#6e649b 250.5px,#a199be 257.5px)"></div>
<div style="background:linear-gradient(90deg,#ffffff 0.5px,#faf9fb 166.5px,#dcd7e6 172.5px,#9088b3 184.5px,#6a649b 188.5px,#395d8c 201.5px,#32658d 216.5px,#45588e 227.5px,#71679d 238.5px,#b0a7c7 246.5px,#e2ddea 257.5px)"></div>
<div style="background:linear-gradient(90deg,#ffffff 0.5px,#faf9fb 161.5px,#dfdae8 166.5px,#6c659c 176.5px,#3a5d8b 189.5px,#2f6c8d 204.5px,#43588d 217.5px,#71689e 226.5px,#a79fc2 232.5px,#ece9f1 247.5px,#fbfafc 257.5px)"></div>
<div style="background:linear-gradient(90deg,#ffffff 0.5px,#fbfbfc 155.5px,#e6e2ed 160.5px,#9c95bc 166.5px,#756fa2 168.5px,#405c8d 175.5px,#2d718e 193.5px,#40598c 207.5px,#6d659c 216.5px,#ada4c6 222.5px,#e8e4ee 233.5px,#fdfdfe 249.5px,#ffffff 257.5px)"></div>
<div style="background:linear-gradient(90deg,#ffffff 0.5px,#faf9fb 150.5px,#e5e1ec 155.5px,#9892b9 161.5px,#706b9f 163.5px,#3a608c 169.5px,#2c738d 176.5px,#306d8e 189.5px,#445b8e 198.5px,#726a9f 207.5px,#a9a1c4 212.5px,#ebe8f1 223.5px,#fdfdfe 236.5px,#ffffff 257.5px)"></div>
<div style="background:linear-gradient(90deg,#ffffff 0.5px,#fbfafc 144.5px,#e7e4ee 149.5px,#a6a0c2 155.5px,#6f6b9e 158.5px,#38638c 164.5px,#287d8e 171.5px,#415b8d 188.5px,#6e679d 197.5px,#ada5c6 203.5px,#eae7f0 213.5px,#fdfdfe 225.5px,#ffffff 257.5px)"></div>
<div style="background:linear-gradient(90deg,#ffffff 0.5px,#fbfafc 139.5px,#e3dfeb 144.5px,#9b95bb 150.5px,#7671a3 152.5px,#466290 157.5px,#2c768d 162.5px,#27808d 168.5px,#3f5c8c 178.5px,#746da1 188.5px,#aaa2c4 193.5px,#e8e5ef 203.5px,#fdfcfd 214.5px,#ffffff 257.5px)"></div>
<div style="background:linear-gradient(90deg,#ffffff 0.5px,#faf9fb 134.5px,#e1dde9 139.5px,#928cb5 145.5px,#6d6b9e 147.5px,#38648c 153.5px,#25868d 161.5px,#2d748d 167.5px,#425f8e 171.5px,#62669a 175.5px,#726ba0 178.5px,#afa7c8 184.5px,#eae7f0 194.5px,#fdfdfe 206.5px,#ffffff 257.5px)"></div>
<div style="background:linear-gradient(90deg,#ffffff 0.5px,#fbfafc 127.5px,#e5e1ec 133.5px,#9f99be 139.5px,#7773a4 141.5px,#586898 144.5px,#35688c 148.5px,#238a8c 156.5px,#2b798d 162.5px,#3d608d 166.5px,#69689c 170.5px,#aaa3c5 174.5px,#e9e6ef 184.5px,#fdfdfe 196.5px,#ffffff 257.5px)"></div>
<div style="background:linear-gradient(90deg,#ffffff 0.5px,#fafafc 121.5px,#e4e0eb 127.5px,#9792b9 134.5px,#726ea0 136.5px,#38668c 142.5px,#238e8c 150.5px,#26838d 156.5px,#42608f 162.5px,#706b9f 166.5px,#bbb3cf 170.5px,#e7e3ee 174.5px,#fcfcfd 184.5px,#ffffff 257.5px)"></div>
<div style="background:linear-gradient(90deg,#ffffff 0.5px,#f9f8fb 115.5px,#e4e0eb 121.5px,#9690b8 128.5px,#716d9f 130.5px,#36688b 137.5px,#22938a 145.5px,#25878c 151.5px,#3c618c 157.5px,#69689c 161.5px,#9089b3 163.5px,#ded9e7 168.5px,#f8f7fa 172.5px,#ffffff 215.5px,#ffffff 257.5px)"></div>
<div style="background:linear-gradient(90deg,#ffffff 0.5px,#faf9fb 106.5px,#e2ddea 115.5px,#9991b9 122.5px,#746fa1 124.5px,#3c648c 130.5px,#229789 140.5px,#248b8b 146.5px,#43618f 153.5px,#6d6a9e 157.5px,#bbb3cf 161.5px,#ece9f1 165.5px,#fefefe 171.5px,#ffffff 257.5px)"></div>
<div style="background:linear-gradient(90deg,#ffffff 0.5px,#f9f8fb 98.5px,#ddd7e6 108.5px,#9c92ba 116.5px,#6b669c 119.5px,#38678b 125.5px,#239a87 134.5px,#229589 140.5px,#3f618d 148.5px,#6a689c 152.5px,#c0b8d2 157.5px,#efecf3 161.5px,#fffeff 168.5px,#ffffff 257.5px)"></div>
<div style="background:linear-gradient(90deg,#ffffff 0.5px,#faf9fb 92.5px,#d2cade 102.5px,#8378a9 111.5px,#696099 113.5px,#36688b 120.5px,#269d86 128.5px,#239e87 134.5px,#35688b 142.5px,#5c6498 146.5px,#746ea1 148.5px,#afa7c7 151.5px,#ebe8f0 156.5px,#fefefe 162.5px,#ffffff 257.5px)"></div>
<div style="background:linear-gradient(90deg,#ffffff 0.5px,#fbfafc 87.5px,#e3deea 93.5px,#7869a0 105.5px,#5d5793 108.5px,#38618a 114.5px,#28a184 123.5px,#26a285 129.5px,#326d8b 137.5px,#4a6091 140.5px,#6b689c 143.5px,#b7aecc 147.5px,#e9e5ef 151.5px,#fdfdfe 157.5px,#ffffff 257.5px)"></div>
<div style="background:linear-gradient(90deg,#ffffff 0.5px,#faf9fb 84.5px,#e0dae8 89.5px,#655392 100.5px,#3d5689 107.5px,#2b9f83 117.5px,#2bac80 122.5px,#279088 128.5px,#435e8e 135.5px,#6f699e 139.5px,#ada5c6 142.5px,#ece9f1 147.5px,#fefefe 153.5px,#ffffff 257.5px)"></div>
<div style="background:linear-gradient(90deg,#ffffff 0.5px,#faf9fb 81.5px,#d7d0e1 86.5px,#604c8f 95.5px,#404b87 101.5px,#2c9585 110.5px,#32b07c 116.5px,#2aa382 121.5px,#336a8b 128.5px,#475a8e 131.5px,#666199 134.5px,#cec6db 140.5px,#eeebf3 143.5px,#fefefe 149.5px,#ffffff 257.5px)"></div>
<div style="background:linear-gradient(90deg,#ffffff 0.5px,#fdfcfd 78.5px,#e0dae8 82.5px,#675292 90.5px,#4a4086 94.5px,#34638a 100.5px,#30a480 107.5px,#38b578 112.5px,#2a9e84 118.5px,#385d8a 125.5px,#5b5892 129.5px,#7a70a3 131.5px,#d0c9dd 136.5px,#f4f2f7 140.5px,#ffffff 149.5px,#ffffff 257.5px)"></div>
<div style="background:linear-gradient(90deg,#ffffff 0.5px,#fbfbfc 77.5px,#dad4e4 80.5px,#6a5494 86.5px,#4f4086 89.5px,#3f4887 93.5px,#2d9485 101.5px,#3db775 106.5px,#35b17a 111.5px,#2b8389 117.5px,#434f89 123.5px,#625794 126.5px,#ddd7e6 133.5px,#f8f7fa 137.5px,#ffffff 159.5px,#ffffff 257.5px)"></div>
<div style="background:linear-gradient(90deg,#ffffff 0.5px,#fbfafc 76.5px,#e1dce9 78.5px,#7b669f 82.5px,#5a458a 84.5px,#434085 88.5px,#34618b 93.5px,#2e9b83 98.5px,#43bb71 103.5px,#34ad7c 108.5px,#2c828a 113.5px,#464887 120.5px,#665794 123.5px,#d6cfe1 129.5px,#f7f5f9 133.5px,#ffffff 147.5px,#ffffff 257.5px)"></div>
<div style="background:linear-gradient(90deg,#ffffff 0.5px,#fdfcfd 74.5px,#f1eef4 76.5px,#ddd7e6 77.5px,#75619b 80.5px,#5f4a8d 81.5px,#463c84 84.5px,#355f8c 90.5px,#2f9d82 95.5px,#47bd6f 99.5px,#3eb775 103.5px,#2b8d88 108.5px,#404686 116.5px,#57478a 119.5px,#78659e 121.5px,#d6cfe1 126.5px,#f7f6f9 130.5px,#ffffff 146.5px,#ffffff 257.5px)"></div>
<div style="background:linear-gradient(90deg,#ffffff 0.5px,#fcfbfd 72.5px,#eae7f0 75.5px,#d8d1e2 76.5px,#645091 79.5px,#513f86 80.5px,#3e4988 84.5px,#2c7b8b 90.5px,#32a47f 93.5px,#4abe6d 96.5px,#46bc70 99.5px,#2b9187 104.5px,#424184 113.5px,#534086 116.5px,#6f5a97 118.5px,#d1c9dd 123.5px,#f1eff5 126.5px,#ffffff 132.5px,#ffffff 257.5px)"></div>
<div style="background:linear-gradient(90deg,#ffffff 0.5px,#faf9fb 70.5px,#e8e4ee 73.5px,#c8bed6 75.5px,#5f4c8f 78.5px,#4b3e85 79.5px,#31688d 86.5px,#2e9b83 90.5px,#4abd6e 93.5px,#50c26a 95.5px,#2c9a84 100.5px,#39558a 107.5px,#483881 112.5px,#574087 114.5px,#8a76a9 117.5px,#d6cfe1 121.5px,#f4f2f7 124.5px,#ffffff 131.5px,#ffffff 257.5px)"></div>
<div style="background:linear-gradient(90deg,#ffffff 0.5px,#fbfbfc 67.5px,#e2ddea 71.5px,#ac9ec2 74.5px,#5a498c 77.5px,#494086 78.5px,#2c758d 85.5px,#2e9e82 88.5px,#4fc06b 91.5px,#52c369 93.5px,#2d9d83 97.5px,#365e8c 103.5px,#483580 110.5px,#583f87 112.5px,#d7d1e2 119.5px,#f5f3f8 122.5px,#ffffff 130.5px,#ffffff 257.5px)"></div>
<div style="background:linear-gradient(90deg,#ffffff 0.5px,#faf9fb 65.5px,#e8e4ee 68.5px,#bbafcd 71.5px,#5f4a8d 75.5px,#464186 77.5px,#29818c 84.5px,#38ac7a 87.5px,#57c565 90.5px,#3eb475 93.5px,#298c89 96.5px,#3b528a 102.5px,#48337f 108.5px,#573d85 110.5px,#d6cee0 117.5px,#f5f3f7 120.5px,#ffffff 127.5px,#ffffff 257.5px)"></div>
<div style="background:linear-gradient(90deg,#ffffff 0.5px,#fbfbfc 62.5px,#e4dfeb 66.5px,#b4a6c7 69.5px,#5d478b 73.5px,#483c84 75.5px,#288c8a 83.5px,#35aa7c 85.5px,#5bc763 88.5px,#4dbf6b 90.5px,#2b9a85 93.5px,#355f8c 98.5px,#47337f 106.5px,#533983 108.5px,#8874a8 111.5px,#dfdae8 116.5px,#f9f8fa 119.5px,#ffffff 142.5px,#ffffff 257.5px)"></div>
<div style="background:linear-gradient(90deg,#ffffff 0.5px,#faf9fb 60.5px,#dfd9e7 64.5px,#ad9fc3 67.5px,#6b5494 70.5px,#4f3c84 72.5px,#404587 75.5px,#27878c 81.5px,#30a57f 83.5px,#5ec762 86.5px,#53c268 88.5px,#2b9c84 91.5px,#34618d 96.5px,#48317e 105.5px,#5a3f86 107.5px,#d9d2e3 114.5px,#f6f5f9 117.5px,#ffffff 126.5px,#ffffff 257.5px)"></div>
<div style="background:linear-gradient(90deg,#ffffff 0.5px,#fbfbfc 57.5px,#e6e1ec 61.5px,#bcb0cd 64.5px,#685091 68.5px,#4e3a83 70.5px,#3e4988 74.5px,#268e8a 80.5px,#37ae7a 82.5px,#5dc662 84.5px,#64ca5e 85.5px,#4bbd6d 87.5px,#2ca182 89.5px,#2e6d8e 93.5px,#46327e 103.5px,#503580 105.5px,#8570a5 108.5px,#ddd7e6 113.5px,#f8f7fa 116.5px,#ffffff 134.5px,#ffffff 257.5px)"></div>
<div style="background:linear-gradient(90deg,#ffffff 0.5px,#fafafc 55.5px,#e2ddea 59.5px,#b7abca 62.5px,#664e90 66.5px,#4d3882 68.5px,#3f4687 72.5px,#2c748e 77.5px,#269289 79.5px,#3eb475 81.5px,#65ca5d 83.5px,#66ca5d 84.5px,#31a97e 87.5px,#268b8b 89.5px,#3a548b 95.5px,#492f7c 103.5px,#5f448a 105.5px,#d0c8dd 111.5px,#f3f1f6 114.5px,#ffffff 119.5px,#ffffff 257.5px)"></div>
<div style="background:linear-gradient(90deg,#ffffff 0.5px,#faf9fb 53.5px,#dfdae8 57.5px,#a291ba 61.5px,#654c8f 64.5px,#4d3781 66.5px,#3e4a89 71.5px,#2b758e 76.5px,#269489 78.5px,#2ea680 79.5px,#6bcc5a 82.5px,#67cb5c 83.5px,#2ca482 86.5px,#297b8e 89.5px,#433e85 98.5px,#492e7c 102.5px,#5e4389 104.5px,#cfc7dc 110.5px,#f3f1f6 113.5px,#ffffff 118.5px,#ffffff 257.5px)"></div>
<div style="background:linear-gradient(90deg,#ffffff 0.5px,#fcfbfc 50.5px,#e7e3ed 54.5px,#b3a6c7 58.5px,#573d85 63.5px,#463681 66.5px,#2f6b8e 74.5px,#259389 77.5px,#2ea680 78.5px,#60c760 80.5px,#70ce57 81.5px,#69cb5b 82.5px,#29a184 85.5px,#2d708e 89.5px,#46317e 100.5px,#4d317e 102.5px,#6e5594 104.5px,#cbc2d9 109.5px,#f8f7fa 113.5px,#ffffff 128.5px,#ffffff 257.5px)"></div>
<div style="background:linear-gradient(90deg,#ffffff 0.5px,#fbfbfc 48.5px,#e6e2ed 52.5px,#b3a6c7 56.5px,#593e86 61.5px,#463480 64.5px,#2f6b8e 73.5px,#24908a 76.5px,#2ba382 77.5px,#61c75f 79.5px,#74cf54 80.5px,#6dcd58 81.5px,#38b278 83.5px,#24918b 85.5px,#365c8d 91.5px,#4a2e7c 101.5px,#664c8e 103.5px,#c5bbd4 108.5px,#f6f4f8 112.5px,#ffffff 118.5px,#ffffff 257.5px)"></div>
<div style="background:linear-gradient(90deg,#ffffff 0.5px,#fbfbfc 46.5px,#e6e1ec 50.5px,#a494bc 55.5px,#5d4288 59.5px,#4a317e 61.5px,#365b8c 70.5px,#248c8c 75.5px,#279e85 76.5px,#3bb377 77.5px,#77d052 79.5px,#76cf53 80.5px,#3bb576 82.5px,#28a383 83.5px,#287c8e 86.5px,#443982 97.5px,#4e307d 101.5px,#ccc3d9 108.5px,#f9f8fa 112.5px,#ffffff 131.5px,#ffffff 257.5px)"></div>
<div style="background:linear-gradient(90deg,#ffffff 0.5px,#fcfbfc 44.5px,#ddd7e6 49.5px,#9886b3 54.5px,#543882 58.5px,#46337f 61.5px,#30698e 71.5px,#249789 75.5px,#31ab7d 76.5px,#75ce54 78.5px,#7fd24e 79.5px,#68ca5b 80.5px,#2ba880 82.5px,#238b8d 84.5px,#3c4f8a 92.5px,#492d7b 100.5px,#523480 101.5px,#c2b7d2 107.5px,#f4f2f7 111.5px,#ffffff 115.5px,#ffffff 257.5px)"></div>
<div style="background:linear-gradient(90deg,#ffffff 0.5px,#f9f9fb 43.5px,#d5cee0 48.5px,#8e7bac 53.5px,#5b3f87 56.5px,#492f7d 58.5px,#34608d 69.5px,#23908b 74.5px,#27a184 75.5px,#3fb674 76.5px,#67c95c 77.5px,#83d34b 78.5px,#79d051 79.5px,#34b07b 81.5px,#249f86 82.5px,#2f6b8e 87.5px,#472e7c 99.5px,#553882 101.5px,#c5bad4 107.5px,#f5f3f8 111.5px,#ffffff 116.5px,#ffffff 257.5px)"></div>
<div style="background:linear-gradient(90deg,#ffffff 0.5px,#fbfafc 41.5px,#dad3e3 46.5px,#8873a7 52.5px,#573a83 55.5px,#482f7c 57.5px,#32658e 69.5px,#239789 74.5px,#2eaa7f 75.5px,#78cf52 77.5px,#87d449 78.5px,#6ecc58 79.5px,#45bb70 80.5px,#2aa881 81.5px,#238b8d 83.5px,#3b518b 91.5px,#4b2e7c 100.5px,#6b5192 102.5px,#c5bbd4 107.5px,#f5f4f8 111.5px,#ffffff 116.5px,#ffffff 257.5px)"></div>
<div style="background:linear-gradient(90deg,#ffffff 0.5px,#f9f9fb 40.5px,#d5cee0 45.5px,#846fa4 51.5px,#543782 54.5px,#47307e 57.5px,#2d6f8e 70.5px,#249c87 74.5px,#35b07a 75.5px,#82d24c 77.5px,#85d34a 78.5px,#3bb676 80.5px,#26a384 81.5px,#2e6e8e 86.5px,#472d7b 99.5px,#573b84 101.5px,#c4bad4 107.5px,#f4f3f7 111.5px,#ffffff 116.5px,#ffffff 257.5px)"></div>
<div style="background:linear-gradient(90deg,#ffffff 0.5px,#fcfbfd 38.5px,#ddd7e6 43.5px,#9380af 49.5px,#543781 53.5px,#482d7b 55.5px,#32648e 68.5px,#22908c 73.5px,#25a085 74.5px,#3ab576 75.5px,#88d448 77.5px,#83d34b 78.5px,#36b379 80.5px,#24a186 81.5px,#2e6e8e 86.5px,#472d7c 99.5px,#563882 101.5px,#c2b7d2 107.5px,#f3f0f6 111.5px,#ffffff 115.5px,#ffffff 257.5px)"></div>
<div style="background:linear-gradient(90deg,#ffffff 0.5px,#fcfbfd 37.5px,#dcd6e5 42.5px,#8671a6 49.5px,#4c2f7c 53.5px,#414487 61.5px,#287c8e 71.5px,#26a384 74.5px,#3eb774 75.5px,#8ad546 77.5px,#82d24b 78.5px,#34b27a 80.5px,#23a086 81.5px,#2e6e8e 86.5px,#472e7c 99.5px,#523580 101.5px,#ccc3d9 108.5px,#f7f6f9 112.5px,#ffffff 120.5px,#ffffff 257.5px)"></div>
<div style="background:linear-gradient(90deg,#ffffff 0.5px,#fcfcfd 36.5px,#ddd7e6 41.5px,#8b77a9 48.5px,#4f317e 52.5px,#46337f 56.5px,#2e6e8e 69.5px,#22938b 73.5px,#26a384 74.5px,#3eb774 75.5px,#8bd546 77.5px,#84d34a 78.5px,#36b379 80.5px,#24a186 81.5px,#2e6f8e 86.5px,#482d7b 100.5px,#4e307d 101.5px,#c6bcd5 108.5px,#f4f2f7 112.5px,#ffffff 117.5px,#ffffff 257.5px)"></div>
<div style="background:linear-gradient(90deg,#ffffff 0.5px,#faf9fb 36.5px,#cdc4da 42.5px,#755c99 49.5px,#4b2d7b 52.5px,#3a538b 64.5px,#24878d 72.5px,#25a285 74.5px,#3bb576 75.5px,#8ad546 77.5px,#89d447 78.5px,#3bb676 80.5px,#26a484 81.5px,#2a778e 85.5px,#46317e 99.5px,#4b2e7c 101.5px,#684d8f 103.5px,#cdc4da 109.5px,#f7f5f9 113.5px,#ffffff 121.5px,#ffffff 257.5px)"></div>
<div style="background:linear-gradient(90deg,#ffffff 0.5px,#fcfbfc 35.5px,#d2cade 41.5px,#7e67a0 48.5px,#51337f 51.5px,#472f7d 54.5px,#2e6e8e 69.5px,#249f86 74.5px,#35b279 75.5px,#85d34a 77.5px,#8ed644 78.5px,#45bb70 80.5px,#2aa981 81.5px,#228d8c 83.5px,#39558c 91.5px,#492c7b 101.5px,#5e4288 103.5px,#c5bad4 109.5px,#f2f0f5 113.5px,#ffffff 117.5px,#ffffff 257.5px)"></div>
<div style="background:linear-gradient(90deg,#ffffff 0.5px,#faf9fb 35.5px,#c3b9d3 42.5px,#6a5091 49.5px,#4e307d 51.5px,#453581 56.5px,#2c738e 70.5px,#229c88 74.5px,#2fad7e 75.5px,#7ad050 77.5px,#8fd644 78.5px,#7dd14f 79.5px,#32b07b 81.5px,#239f86 82.5px,#2e6f8e 87.5px,#472d7c 101.5px,#543781 103.5px,#c8bfd7 110.5px,#f4f2f7 114.5px,#ffffff 119.5px,#ffffff 257.5px)"></div>
<div style="background:linear-gradient(90deg,#ffffff 0.5px,#fcfbfd 34.5px,#d3ccdf 40.5px,#846fa4 47.5px,#4c2e7c 51.5px,#414387 60.5px,#29798e 71.5px,#21978a 74.5px,#28a682 75.5px,#41b973 76.5px,#88d448 78.5px,#87d448 79.5px,#41b972 81.5px,#29a782 82.5px,#238c8d 84.5px,#3b518b 93.5px,#482d7b 102.5px,#583c84 104.5px,#cbc2d9 111.5px,#f4f2f7 115.5px,#ffffff 121.5px,#ffffff 257.5px)"></div>
<div style="background:linear-gradient(90deg,#ffffff 0.5px,#fafafc 34.5px,#c7bdd6 41.5px,#745c98 48.5px,#4c2d7b 51.5px,#3d4e8a 63.5px,#277e8e 72.5px,#249f86 75.5px,#33b07b 76.5px,#79d051 78.5px,#8ad547 79.5px,#7ad051 80.5px,#35b27a 82.5px,#25a185 83.5px,#2d708e 88.5px,#472f7d 102.5px,#4e317e 104.5px,#ccc3d9 112.5px,#f4f2f7 116.5px,#ffffff 122.5px,#ffffff 257.5px)"></div>
<div style="background:linear-gradient(90deg,#ffffff 0.5px,#fcfcfd 33.5px,#d7d0e2 39.5px,#816ba2 47.5px,#4c2d7b 51.5px,#3d4d8a 63.5px,#26828e 73.5px,#28a782 76.5px,#3fb874 77.5px,#80d24d 79.5px,#85d44a 80.5px,#2fac7e 83.5px,#22908c 85.5px,#38588c 93.5px,#492d7b 104.5px,#5d4087 106.5px,#bfb3cf 112.5px,#f3f1f7 117.5px,#ffffff 123.5px,#ffffff 257.5px)"></div>
<div style="background:linear-gradient(90deg,#ffffff 0.5px,#fcfbfd 33.5px,#cdc4da 40.5px,#735b98 48.5px,#4c2e7b 51.5px,#3f4889 62.5px,#287e8e 73.5px,#239d87 76.5px,#2eac7e 77.5px,#81d34c 80.5px,#7ed24e 81.5px,#2ca980 84.5px,#238e8c 86.5px,#38578c 94.5px,#492d7b 105.5px,#5d4187 107.5px,#cac1d8 114.5px,#f8f6fa 119.5px,#ffffff 132.5px,#ffffff 257.5px)"></div>
<div style="background:linear-gradient(90deg,#ffffff 0.5px,#fbfafc 33.5px,#ccc3d9 40.5px,#755c99 48.5px,#4d2f7c 51.5px,#453781 57.5px,#2c738e 72.5px,#25a185 77.5px,#33b07b 78.5px,#6dcc58 80.5px,#80d24d 81.5px,#79d051 82.5px,#2ba781 85.5px,#26838e 88.5px,#404588 99.5px,#492e7c 106.5px,#5c4087 108.5px,#c8bed6 115.5px,#f6f4f8 120.5px,#ffffff 129.5px,#ffffff 257.5px)"></div>
<div style="background:linear-gradient(90deg,#ffffff 0.5px,#fafafc 33.5px,#c3b9d3 41.5px,#694f90 49.5px,#492b7a 52.5px,#34608d 69.5px,#238c8d 76.5px,#26a384 78.5px,#50c069 80.5px,#6dcc58 81.5px,#7dd14f 82.5px,#74cf54 83.5px,#2aa682 86.5px,#26838e 89.5px,#414286 101.5px,#492e7c 107.5px,#5a3e85 109.5px,#c4bad4 116.5px,#f3f1f6 121.5px,#ffffff 128.5px,#ffffff 257.5px)"></div>
<div style="background:linear-gradient(90deg,#ffffff 0.5px,#faf9fb 33.5px,#c4b9d3 41.5px,#6c5393 49.5px,#4a2c7a 52.5px,#365d8d 69.5px,#238d8c 77.5px,#27a384 79.5px,#50c06a 81.5px,#6bcb5a 82.5px,#79d151 83.5px,#72ce56 84.5px,#2ba781 87.5px,#26848d 90.5px,#414286 102.5px,#4d317e 109.5px,#755d99 112.5px,#cbc2d9 118.5px,#f6f4f8 123.5px,#ffffff 132.5px,#ffffff 257.5px)"></div>
<div style="background:linear-gradient(90deg,#ffffff 0.5px,#faf9fb 33.5px,#c5bad4 41.5px,#63488c 50.5px,#4c2e7c 52.5px,#404487 63.5px,#287d8e 76.5px,#27a284 80.5px,#4dbf6b 82.5px,#76d053 84.5px,#71ce56 85.5px,#2ea97f 88.5px,#238f8b 90.5px,#37598c 98.5px,#4b307d 110.5px,#5f4489 112.5px,#c5bbd4 119.5px,#f2f0f5 124.5px,#ffffff 131.5px,#ffffff 257.5px)"></div>
<div style="background:linear-gradient(90deg,#ffffff 0.5px,#faf9fb 33.5px,#bdb2cf 42.5px,#492b7a 53.5px,#355e8d 71.5px,#238c8d 79.5px,#26a185 81.5px,#49bc6e 83.5px,#73ce55 85.5px,#71ce56 86.5px,#31ac7d 89.5px,#23928b 91.5px,#375a8c 99.5px,#4a2f7c 111.5px,#5a3e86 113.5px,#c9c0d7 121.5px,#f3f1f6 126.5px,#ffffff 134.5px,#ffffff 257.5px)"></div>
<div style="background:linear-gradient(90deg,#ffffff 0.5px,#faf9fb 33.5px,#c0b5d0 42.5px,#61458a 51.5px,#4c2e7b 53.5px,#3f4989 66.5px,#26828e 79.5px,#259f86 82.5px,#43ba71 84.5px,#6ecd58 86.5px,#70ce57 87.5px,#28a284 91.5px,#2c738e 96.5px,#46337f 110.5px,#4c317e 113.5px,#6f5695 116.5px,#ccc3d9 123.5px,#f4f2f7 128.5px,#ffffff 136.5px,#ffffff 257.5px)"></div>
<div style="background:linear-gradient(90deg,#ffffff 0.5px,#fafafc 33.5px,#c2b7d2 42.5px,#674d8f 51.5px,#4a2c7a 54.5px,#355e8d 73.5px,#22918b 82.5px,#2ca880 84.5px,#67cb5c 87.5px,#6fce57 88.5px,#52c168 90.5px,#2ca781 92.5px,#25858d 95.5px,#3e4b89 105.5px,#4a2f7d 114.5px,#664b8e 117.5px,#cdc5da 125.5px,#f4f2f7 130.5px,#ffffff 139.5px,#ffffff 257.5px)"></div>
<div style="background:linear-gradient(90deg,#ffffff 0.5px,#fbfafc 33.5px,#c5bbd4 42.5px,#6e5494 51.5px,#4d2f7c 54.5px,#433c84 63.5px,#2a798e 80.5px,#239889 84.5px,#36b179 86.5px,#6ccd59 89.5px,#6acc5b 90.5px,#27a085 94.5px,#2f6b8e 100.5px,#482f7d 115.5px,#5c4087 118.5px,#cec5db 127.5px,#f7f6f9 133.5px,#ffffff 150.5px,#ffffff 257.5px)"></div>
<div style="background:linear-gradient(90deg,#ffffff 0.5px,#fbfbfc 33.5px,#c8bed6 42.5px,#694f90 52.5px,#4b2d7b 55.5px,#39568c 73.5px,#26838e 83.5px,#269f85 86.5px,#41b872 88.5px,#67cb5c 90.5px,#6bcc5a 91.5px,#4ebf6b 93.5px,#2ca681 95.5px,#26848d 98.5px,#3d4b89 108.5px,#492f7d 117.5px,#5e4289 120.5px,#cdc4da 129.5px,#f6f5f9 135.5px,#ffffff 150.5px,#ffffff 257.5px)"></div>
<div style="background:linear-gradient(90deg,#ffffff 0.5px,#fcfbfd 33.5px,#cbc2d8 42.5px,#715896 52.5px,#4a2c7a 56.5px,#34608d 77.5px,#23908b 86.5px,#2aa682 88.5px,#69cc5b 92.5px,#58c465 94.5px,#28a085 97.5px,#306a8e 103.5px,#47307d 118.5px,#543882 121.5px,#d5cde0 132.5px,#f8f6fa 138.5px,#ffffff 161.5px,#ffffff 257.5px)"></div>
<div style="background:linear-gradient(90deg,#ffffff 0.5px,#faf9fb 34.5px,#bfb4d0 44.5px,#62478b 54.5px,#492b7a 57.5px,#32658e 80.5px,#23958a 88.5px,#30ac7d 90.5px,#64ca5e 93.5px,#68cc5b 94.5px,#4ec06b 96.5px,#2ca681 98.5px,#26838d 101.5px,#3d4d8a 111.5px,#492f7d 121.5px,#5e4389 124.5px,#c9bfd7 133.5px,#f1eff5 139.5px,#ffffff 149.5px,#ffffff 257.5px)"></div>
<div style="background:linear-gradient(90deg,#ffffff 0.5px,#fbfafc 34.5px,#c3b9d3 44.5px,#6b5191 54.5px,#492b7a 58.5px,#33648d 81.5px,#23908b 89.5px,#2aa582 91.5px,#66cb5d 95.5px,#58c465 97.5px,#28a084 100.5px,#2f6b8e 106.5px,#46327e 121.5px,#533781 125.5px,#cec5db 136.5px,#f7f6f9 144.5px,#ffffff 165.5px,#ffffff 257.5px)"></div>
<div style="background:linear-gradient(90deg,#ffffff 0.5px,#fbfbfc 34.5px,#c7bdd6 44.5px,#694e90 55.5px,#4c2e7b 58.5px,#3e4a89 74.5px,#287d8e 88.5px,#269e86 92.5px,#5fc861 96.5px,#65cb5d 97.5px,#4fc06b 99.5px,#2da780 101.5px,#26858d 104.5px,#3c4e8a 114.5px,#492f7d 125.5px,#5b3f86 128.5px,#bfb4d0 137.5px,#f4f2f7 146.5px,#ffffff 158.5px,#ffffff 257.5px)"></div>
<div style="background:linear-gradient(90deg,#ffffff 0.5px,#f9f8fb 35.5px,#bdb1ce 46.5px,#4c2d7b 59.5px,#3b518b 78.5px,#277f8e 90.5px,#28a284 94.5px,#62c95f 98.5px,#63ca5e 99.5px,#29a284 103.5px,#2c738e 108.5px,#443b83 122.5px,#4c307d 128.5px,#6d5393 132.5px,#b6aac9 139.5px,#f1eef4 148.5px,#ffffff 157.5px,#ffffff 257.5px)"></div>
<div style="background:linear-gradient(90deg,#ffffff 0.5px,#fafafc 35.5px,#c1b6d1 46.5px,#664b8e 57.5px,#4c2d7b 60.5px,#3a528b 80.5px,#26828e 92.5px,#2ba781 96.5px,#64ca5e 100.5px,#51c169 102.5px,#279d86 105.5px,#2f6c8e 111.5px,#47317e 128.5px,#543882 132.5px,#c5bbd4 144.5px,#f5f3f8 152.5px,#ffffff 164.5px,#ffffff 257.5px)"></div>
<div style="background:linear-gradient(90deg,#ffffff 0.5px,#fbfbfc 35.5px,#c5bbd4 46.5px,#654a8d 58.5px,#4c2d7b 61.5px,#3a548b 82.5px,#25848d 94.5px,#279f85 97.5px,#61c960 101.5px,#64ca5e 102.5px,#2ca581 106.5px,#287d8e 110.5px,#3f4888 122.5px,#4c317e 133.5px,#745c99 138.5px,#dcd5e5 150.5px,#fbfafc 157.5px,#ffffff 257.5px)"></div>
<div style="background:linear-gradient(90deg,#ffffff 0.5px,#f9f8fb 36.5px,#bcb0ce 48.5px,#4c2d7b 62.5px,#39558c 84.5px,#25878d 96.5px,#2aa582 99.5px,#64ca5e 103.5px,#56c466 105.5px,#29a184 108.5px,#2b758e 113.5px,#443a83 129.5px,#4e327e 136.5px,#7c669f 142.5px,#e3deea 154.5px,#fcfcfd 161.5px,#ffffff 257.5px)"></div>
<div style="background:linear-gradient(90deg,#ffffff 0.5px,#faf9fc 36.5px,#c0b5d1 48.5px,#64488c 60.5px,#482a79 64.5px,#33628d 90.5px,#248a8d 98.5px,#2faa7f 101.5px,#5fc861 104.5px,#5fc861 106.5px,#279e85 110.5px,#2e6e8e 116.5px,#46327e 135.5px,#523680 140.5px,#8f7cad 147.5px,#e4dfeb 157.5px,#fdfcfd 164.5px,#ffffff 257.5px)"></div>
<div style="background:linear-gradient(90deg,#ffffff 0.5px,#fbfafc 36.5px,#c4bad3 48.5px,#63488c 61.5px,#492a79 65.5px,#34608d 91.5px,#25868d 99.5px,#29a383 102.5px,#63ca5e 106.5px,#5dc762 108.5px,#2da780 111.5px,#25888d 114.5px,#38578c 124.5px,#482f7d 140.5px,#573b84 144.5px,#ded9e7 159.5px,#fbfbfc 166.5px,#ffffff 257.5px)"></div>
<div style="background:linear-gradient(90deg,#ffffff 0.5px,#fcfbfd 36.5px,#c2b7d2 49.5px,#63488c 62.5px,#492a79 66.5px,#355e8d 92.5px,#24898d 101.5px,#2ca880 104.5px,#67cb5c 108.5px,#59c564 110.5px,#2ba482 113.5px,#277f8e 117.5px,#404688 132.5px,#4d327e 145.5px,#674d8f 149.5px,#d8d1e2 161.5px,#faf9fb 168.5px,#ffffff 257.5px)"></div>
<div style="background:linear-gradient(90deg,#ffffff 0.5px,#faf9fb 37.5px,#b9adcc 51.5px,#4c2d7b 66.5px,#3d4d8a 87.5px,#2a788e 100.5px,#27a185 105.5px,#63c95e 109.5px,#65ca5e 111.5px,#29a283 115.5px,#297a8e 120.5px,#424086 137.5px,#4d327e 148.5px,#684e90 152.5px,#d8d2e3 164.5px,#faf9fb 171.5px,#ffffff 257.5px)"></div>
<div style="background:linear-gradient(90deg,#ffffff 0.5px,#fafafc 37.5px,#bdb1ce 51.5px,#5a3d85 65.5px,#492a7a 68.5px,#355e8d 95.5px,#24888d 104.5px,#2aa582 107.5px,#68cb5c 111.5px,#63c95f 113.5px,#28a184 117.5px,#2d718e 124.5px,#443a83 143.5px,#4d327e 151.5px,#694f90 155.5px,#d9d3e3 167.5px,#faf9fb 174.5px,#ffffff 257.5px)"></div>
<div style="background:linear-gradient(90deg,#ffffff 0.5px,#fbfafc 37.5px,#c0b5d0 51.5px,#62468b 65.5px,#492a7a 69.5px,#365c8d 96.5px,#238c8c 106.5px,#2daa7f 109.5px,#6bcc5a 113.5px,#61c860 115.5px,#31ac7d 118.5px,#238f8b 121.5px,#365c8d 132.5px,#4a307d 153.5px,#60458a 157.5px,#dad3e4 170.5px,#f8f7fa 177.5px,#ffffff 211.5px,#ffffff 257.5px)"></div>
<div style="background:linear-gradient(90deg,#ffffff 0.5px,#fbfafc 37.5px,#bdb2ce 52.5px,#593c85 67.5px,#492a79 70.5px,#375b8d 97.5px,#24888d 107.5px,#27a284 110.5px,#66ca5c 114.5px,#6dcd59 116.5px,#28a284 121.5px,#2a788e 127.5px,#404587 144.5px,#4a307d 156.5px,#60458a 160.5px,#d3cbde 172.5px,#f6f4f8 180.5px,#ffffff 199.5px,#ffffff 257.5px)"></div>
<div style="background:linear-gradient(90deg,#ffffff 0.5px,#fbfafc 37.5px,#bfb4d0 52.5px,#60448a 67.5px,#482a79 71.5px,#375a8c 98.5px,#238b8d 109.5px,#2aa781 112.5px,#6ccc59 116.5px,#6ecd58 118.5px,#29a383 123.5px,#29798e 129.5px,#404587 147.5px,#4d327e 160.5px,#694f90 164.5px,#c8bfd7 174.5px,#f6f4f8 184.5px,#ffffff 205.5px,#ffffff 257.5px)"></div>
<div style="background:linear-gradient(90deg,#ffffff 0.5px,#fbfafc 37.5px,#bcb0ce 53.5px,#573a83 69.5px,#482a79 72.5px,#365c8d 100.5px,#238e8c 111.5px,#2eab7f 114.5px,#70ce57 118.5px,#71ce56 120.5px,#29a483 125.5px,#27808e 130.5px,#3c4e8a 146.5px,#4a307d 162.5px,#60458a 166.5px,#b4a7c8 175.5px,#f0eef4 186.5px,#ffffff 200.5px,#ffffff 257.5px)"></div>
<div style="background:linear-gradient(90deg,#ffffff 0.5px,#fafafc 37.5px,#beb2cf 53.5px,#5d4187 69.5px,#482a79 73.5px,#365b8d 101.5px,#238a8d 112.5px,#28a483 115.5px,#73ce55 120.5px,#73ce55 122.5px,#2aa682 127.5px,#26828e 132.5px,#3d4c89 150.5px,#4a307d 165.5px,#60458a 169.5px,#bbafcd 180.5px,#ece8f1 189.5px,#fefefe 204.5px,#ffffff 257.5px)"></div>
<div style="background:linear-gradient(90deg,#ffffff 0.5px,#faf9fb 37.5px,#baaecc 54.5px,#4a2a79 73.5px,#39558c 100.5px,#24868d 113.5px,#29a782 117.5px,#75cf53 122.5px,#76cf53 124.5px,#2ba781 129.5px,#24898d 133.5px,#38578c 148.5px,#4a307d 168.5px,#60458a 172.5px,#d4ccdf 188.5px,#f7f5f9 200.5px,#ffffff 236.5px,#ffffff 257.5px)"></div>
<div style="background:linear-gradient(90deg,#ffffff 0.5px,#fbfafc 36.5px,#bfb4d0 53.5px,#5f4389 70.5px,#492a79 74.5px,#38578c 102.5px,#23898d 115.5px,#2ba981 119.5px,#79d051 124.5px,#79d051 126.5px,#2da980 131.5px,#238b8d 135.5px,#3b528b 153.5px,#4a307d 171.5px,#61468b 176.5px,#c4bad4 190.5px,#f2f0f6 204.5px,#ffffff 226.5px,#ffffff 257.5px)"></div>
<div style="background:linear-gradient(90deg,#ffffff 0.5px,#faf9fb 36.5px,#baaecc 54.5px,#553882 72.5px,#482979 76.5px,#365d8d 105.5px,#21938b 118.5px,#2caa80 121.5px,#7cd14f 126.5px,#7cd14f 128.5px,#2eaa7f 133.5px,#238d8c 137.5px,#3c508b 157.5px,#4b317e 175.5px,#60458a 180.5px,#b1a4c6 192.5px,#eae6f0 207.5px,#fefdfe 224.5px,#ffffff 257.5px)"></div>
<div style="background:linear-gradient(90deg,#ffffff 0.5px,#faf9fc 35.5px,#beb2cf 53.5px,#583b84 72.5px,#482979 76.5px,#365c8d 106.5px,#21948b 120.5px,#2dac7f 123.5px,#7fd24d 128.5px,#80d24d 130.5px,#30ac7d 135.5px,#22918b 139.5px,#39578c 157.5px,#482f7d 178.5px,#583c85 183.5px,#ab9cc1 197.5px,#e7e3ed 213.5px,#fcfbfd 230.5px,#fefefe 257.5px)"></div>
<div style="background:linear-gradient(90deg,#ffffff 0.5px,#fafafc 34.5px,#bcb1ce 53.5px,#5a3d85 72.5px,#482978 76.5px,#375a8c 106.5px,#22908c 121.5px,#26a583 124.5px,#4fc06a 127.5px,#83d34b 130.5px,#84d34a 132.5px,#33af7b 137.5px,#22948b 141.5px,#365b8d 158.5px,#48307d 182.5px,#5c4188 188.5px,#cdc4da 212.5px,#f2f0f6 228.5px,#fafafc 257.5px)"></div>
<div style="background:linear-gradient(90deg,#ffffff 0.5px,#faf9fb 33.5px,#baaecc 53.5px,#553782 73.5px,#482979 77.5px,#365c8d 108.5px,#21928c 123.5px,#28a782 126.5px,#51c168 129.5px,#87d448 132.5px,#89d447 134.5px,#38b378 139.5px,#229889 143.5px,#34608d 159.5px,#48307d 186.5px,#5c4188 194.5px,#c9c0d7 219.5px,#e7e2ed 233.5px,#f0eef4 257.5px)"></div>
<div style="background:linear-gradient(90deg,#ffffff 0.5px,#faf9fb 32.5px,#bcb0cd 52.5px,#553882 73.5px,#482979 77.5px,#375a8c 108.5px,#21948b 125.5px,#29a981 128.5px,#55c366 131.5px,#8cd545 134.5px,#8ed544 136.5px,#32af7b 142.5px,#21968a 146.5px,#355e8d 163.5px,#49307d 192.5px,#5d4288 201.5px,#c2b8d2 226.5px,#dcd6e5 249.5px,#ddd7e6 257.5px)"></div>
<div style="background:linear-gradient(90deg,#ffffff 0.5px,#f8f7fa 31.5px,#b8accb 52.5px,#482978 76.5px,#38588c 108.5px,#21918c 126.5px,#2aab80 130.5px,#5ac564 133.5px,#91d642 136.5px,#95d73f 138.5px,#56c366 142.5px,#2eac7f 145.5px,#228f8c 150.5px,#3a528b 171.5px,#49307d 199.5px,#5c4188 208.5px,#a99ac0 229.5px,#c2b7d2 252.5px,#c2b7d2 257.5px)"></div>
<div style="background:linear-gradient(90deg,#ffffff 0.5px,#f9f8fa 29.5px,#b8abca 51.5px,#482878 76.5px,#375b8d 110.5px,#21938c 128.5px,#2cad7f 132.5px,#5ec661 135.5px,#95d73f 138.5px,#9bd83b 140.5px,#72cd55 143.5px,#32b07c 147.5px,#21978a 151.5px,#34618d 168.5px,#46337f 200.5px,#553983 214.5px,#8c78aa 232.5px,#a190b9 254.5px,#a190b9 257.5px)"></div>
<div style="background:linear-gradient(90deg,#ffffff 0.5px,#f8f7fa 27.5px,#b7aaca 50.5px,#492978 75.5px,#39558c 108.5px,#21908c 129.5px,#27a883 133.5px,#4dc06b 136.5px,#97d73e 140.5px,#a2da37 142.5px,#7cd04f 145.5px,#37b378 149.5px,#219a89 153.5px,#34618d 171.5px,#453580 205.5px,#533781 222.5px,#765e9a 243.5px,#7c659e 257.5px)"></div>
<div style="background:linear-gradient(90deg,#ffffff 0.5px,#f8f6fa 25.5px,#b4a7c8 49.5px,#482978 75.5px,#375b8d 111.5px,#20938c 131.5px,#28aa81 135.5px,#4ec16a 138.5px,#99d83d 142.5px,#a7db34 144.5px,#96d73f 146.5px,#3db775 151.5px,#24a385 154.5px,#2e6d8e 169.5px,#424086 200.5px,#4d337f 228.5px,#5b4087 257.5px)"></div>
<div style="background:linear-gradient(90deg,#ffffff 0.5px,#f6f5f9 23.5px,#b1a4c6 48.5px,#482978 74.5px,#375a8c 111.5px,#21918c 132.5px,#2aac80 137.5px,#4ec16a 140.5px,#a7db34 145.5px,#a9db33 147.5px,#7bcf4f 150.5px,#36b379 154.5px,#219c88 158.5px,#31688e 175.5px,#433e85 211.5px,#4a317e 249.5px,#4a327e 257.5px)"></div>
<div style="background:linear-gradient(90deg,#fefeff 0.5px,#f6f5f8 20.5px,#b1a3c5 46.5px,#492a79 72.5px,#39558c 109.5px,#21908c 133.5px,#25a883 138.5px,#3fba73 141.5px,#a9db33 147.5px,#afdc2f 149.5px,#84d24a 152.5px,#3bb775 156.5px,#229f87 160.5px,#2e6e8e 176.5px,#404487 212.5px,#463480 257.5px)"></div>
<div style="background:linear-gradient(90deg,#fcfcfd 0.5px,#f4f2f7 18.5px,#ab9dc1 45.5px,#492979 71.5px,#38598c 111.5px,#20938c 135.5px,#2bae7f 141.5px,#4fc16a 144.5px,#acdb31 149.5px,#b4dd2c 151.5px,#9fd839 153.5px,#43bb71 158.5px,#24a385 162.5px,#2b768e 176.5px,#3c4f8a 208.5px,#433b83 252.5px,#433b83 257.5px)"></div>
<div style="background:linear-gradient(90deg,#f7f6f9 0.5px,#ece9f1 18.5px,#9b89b5 47.5px,#492a79 69.5px,#39558c 109.5px,#218e8d 135.5px,#26aa82 142.5px,#50c269 146.5px,#aedc30 151.5px,#bade29 153.5px,#96d63f 156.5px,#3fb973 161.5px,#23a286 165.5px,#297a8e 178.5px,#3a548b 210.5px,#414387 256.5px,#414387 257.5px)"></div>
<div style="background:linear-gradient(90deg,#eeebf3 0.5px,#e1dce9 19.5px,#8974a8 49.5px,#492a79 67.5px,#3a548c 108.5px,#20918c 137.5px,#28ac81 144.5px,#52c368 148.5px,#b1dc2e 153.5px,#bfdf26 155.5px,#a1d938 158.5px,#47bd6e 163.5px,#26a683 167.5px,#277f8e 180.5px,#38598c 214.5px,#3e4a89 257.5px)"></div>
<div style="background:linear-gradient(90deg,#e2ddea 0.5px,#d4cddf 20.5px,#765e9a 51.5px,#4a2b7a 64.5px,#3b528b 106.5px,#21918c 138.5px,#25a983 145.5px,#45be70 149.5px,#b4dd2c 155.5px,#c5e023 157.5px,#bade29 159.5px,#43bb71 166.5px,#25a584 170.5px,#2a778e 189.5px,#3a538b 240.5px,#3b528b 257.5px)"></div>
<div style="background:linear-gradient(90deg,#d4ccdf 0.5px,#c6bcd5 21.5px,#61458a 53.5px,#492a7a 62.5px,#39558c 108.5px,#20948c 140.5px,#26ab82 147.5px,#48bf6e 151.5px,#b7dd2b 157.5px,#c9e021 159.5px,#b7dd2c 162.5px,#4bbf6c 168.5px,#28a982 172.5px,#24898d 184.5px,#355d8d 230.5px,#37598c 257.5px)"></div>
<div style="background:linear-gradient(90deg,#c3b9d3 0.5px,#b3a6c7 23.5px,#4b2c7a 57.5px,#3d4c8a 100.5px,#218f8d 139.5px,#24a983 148.5px,#3fbb73 152.5px,#7fd14d 156.5px,#c5e023 160.5px,#cfe11e 162.5px,#b2dc2f 165.5px,#46bd6f 171.5px,#29ac80 175.5px,#228e8c 186.5px,#32648d 233.5px,#34618d 257.5px)"></div>
<div style="background:linear-gradient(90deg,#b2a4c6 0.5px,#a191ba 24.5px,#4b2c7b 53.5px,#3d4c8a 99.5px,#20928c 141.5px,#27ac81 150.5px,#42bd71 154.5px,#94d640 159.5px,#c6e023 162.5px,#d4e21d 164.5px,#bcde2a 167.5px,#52c268 173.5px,#2aac80 179.5px,#218f8c 191.5px,#2f6b8e 238.5px,#30698e 257.5px)"></div>
<div style="background:linear-gradient(90deg,#9e8db8 0.5px,#8b77a9 26.5px,#4b2d7b 48.5px,#3d4c8a 97.5px,#20928c 142.5px,#29ae80 152.5px,#52c468 157.5px,#c8e023 164.5px,#d7e21d 167.5px,#b6dc2e 170.5px,#64c95d 175.5px,#33b37a 181.5px,#209b89 190.5px,#2c748e 236.5px,#2d718e 257.5px)"></div>
<div style="background:linear-gradient(90deg,#8975a8 0.5px,#755d99 27.5px,#4a2d7b 44.5px,#3b518b 100.5px,#1f988b 145.5px,#2db17d 154.5px,#55c566 159.5px,#a9db34 164.5px,#d6e21d 167.5px,#d9e21e 170.5px,#4fc16a 181.5px,#27aa82 188.5px,#24888d 216.5px,#29798e 257.5px)"></div>
<div style="background:linear-gradient(90deg,#735a98 0.5px,#5e4288 28.5px,#492c7b 40.5px,#39558c 101.5px,#1f9b8a 147.5px,#2cb17e 155.5px,#58c765 161.5px,#cee121 168.5px,#e4e41c 171.5px,#c8e026 175.5px,#4ec16b 185.5px,#2fb17c 191.5px,#20968b 212.5px,#26838e 248.5px,#26828e 257.5px)"></div>
<div style="background:linear-gradient(90deg,#5d4187 0.5px,#472e7c 42.5px,#355d8d 106.5px,#20a486 151.5px,#3aba76 159.5px,#6acc5b 164.5px,#d2e120 170.5px,#eae51c 173.5px,#dae221 177.5px,#84d24b 184.5px,#50c269 189.5px,#2aad80 203.5px,#21908c 233.5px,#238b8d 257.5px)"></div>
<div style="background:linear-gradient(90deg,#4d307d 0.5px,#46337f 44.5px,#33628d 108.5px,#21a585 152.5px,#3fbd73 161.5px,#70ce57 166.5px,#d7e21f 172.5px,#eee51d 175.5px,#e8e41f 179.5px,#a8da36 185.5px,#72ce55 190.5px,#3ab876 204.5px,#21a087 223.5px,#20958b 257.5px)"></div>
<div style="background:linear-gradient(90deg,#482d7b 0.5px,#433e85 58.5px,#2e6e8e 115.5px,#22a784 153.5px,#3fbd73 162.5px,#77d053 168.5px,#cbe023 173.5px,#eee51d 177.5px,#ece51f 182.5px,#b3dc30 188.5px,#65ca5d 201.5px,#31b37b 217.5px,#22a386 239.5px,#21a087 257.5px)"></div>
<div style="background:linear-gradient(90deg,#46317e 0.5px,#414487 61.5px,#2c738e 117.5px,#22a784 153.5px,#40bd72 163.5px,#73cf55 169.5px,#d3e21f 176.5px,#f5e620 181.5px,#eae41f 186.5px,#92d642 201.5px,#46be6f 218.5px,#2fb17d 232.5px,#28ac81 257.5px)"></div>
<div style="background:linear-gradient(90deg,#453581 0.5px,#3f4989 62.5px,#29798e 120.5px,#23a884 153.5px,#43be71 164.5px,#71cf56 170.5px,#cfe120 178.5px,#f6e620 183.5px,#ede51f 190.5px,#b7dd2e 203.5px,#57c565 222.5px,#42bc72 235.5px,#38b777 257.5px)"></div>
<div style="background:linear-gradient(90deg,#443a83 0.5px,#3c4e8a 64.5px,#277f8e 122.5px,#23a884 152.5px,#47c06f 165.5px,#7cd250 172.5px,#d9e21d 181.5px,#fae722 186.5px,#e8e41f 200.5px,#a9da35 214.5px,#6acc5a 227.5px,#51c369 257.5px)"></div>
<div style="background:linear-gradient(90deg,#423f85 0.5px,#3a548b 67.5px,#24868e 125.5px,#25ab82 152.5px,#4cc26c 166.5px,#a5db35 178.5px,#e5e41c 184.5px,#fce724 189.5px,#eee51f 206.5px,#bade2c 219.5px,#90d543 229.5px,#73ce55 257.5px)"></div>
<div style="background:linear-gradient(90deg,#414487 0.5px,#375a8c 69.5px,#218e8d 128.5px,#28ae80 152.5px,#53c568 167.5px,#abdc32 180.5px,#dfe31b 185.5px,#fce723 190.5px,#f3e620 212.5px,#badd2c 231.5px,#9dd83b 257.5px)"></div>
<div style="background:linear-gradient(90deg,#3f4989 0.5px,#34618d 73.5px,#1f998a 133.5px,#30b47c 154.5px,#5cc863 168.5px,#acdc31 181.5px,#e7e41b 187.5px,#fae723 192.5px,#f4e621 219.5px,#d5e221 240.5px,#c7e025 257.5px)"></div>
<div style="background:linear-gradient(90deg,#3c4e8a 0.5px,#30698e 78.5px,#22a785 140.5px,#45bf70 160.5px,#78d152 172.5px,#b9de29 183.5px,#e6e41a 188.5px,#fde724 196.5px,#f0e51f 239.5px,#e6e41e 257.5px)"></div>
<div style="background:linear-gradient(90deg,#3a548b 0.5px,#2c728e 82.5px,#22a784 136.5px,#49c16e 158.5px,#7ad151 171.5px,#c1df24 184.5px,#ebe51b 190.5px,#fde725 200.5px,#f7e621 257.5px)"></div>
<div style="background:linear-gradient(90deg,#37598c 0.5px,#29798e 84.5px,#23a884 132.5px,#4ec36b 156.5px,#85d44a 171.5px,#cce11e 185.5px,#f0e51c 192.5px,#fde725 202.5px,#fce724 257.5px)"></div>
<div style="background:linear-gradient(90deg,#355f8d 0.5px,#25858e 91.5px,#24a983 128.5px,#59c764 155.5px,#98d83e 172.5px,#e6e41a 188.5px,#fde725 200.5px,#fde725 257.5px)"></div>
<div style="background:linear-gradient(90deg,#32658e 0.5px,#21908c 96.5px,#2aaf7f 126.5px,#6ece58 156.5px,#d6e21c 183.5px,#f8e621 192.5px,#fde725 257.5px)"></div>
<div style="background:linear-gradient(90deg,#2f6c8e 0.5px,#20998a 97.5px,#30b37b 123.5px,#87d449 157.5px,#dbe31c 180.5px,#fbe723 191.5px,#fde725 257.5px)"></div>
<div style="background:linear-gradient(90deg,#2c738e 0.5px,#22a486 98.5px,#42bd71 124.5px,#bedf27 166.5px,#efe51d 181.5px,#fde725 195.5px,#fde725 257.5px)"></div>
<div style="background:linear-gradient(90deg,#297a8e 0.5px,#25a883 91.5px,#48c06e 117.5px,#dde31c 168.5px,#fce724 185.5px,#fde725 257.5px)"></div>
<div style="background:linear-gradient(90deg,#25838e 0.5px,#26a982 78.5px,#4bc16c 107.5px,#d7e21d 158.5px,#fce724 180.5px,#fde725 257.5px)"></div>
<div style="background:linear-gradient(90deg,#228e8c 0.5px,#2bae7f 63.5px,#51c369 96.5px,#d7e21c 149.5px,#fde725 179.5px,#fde725 257.5px)"></div>
<div style="background:linear-gradient(90deg,#219a89 0.5px,#36b678 53.5px,#68cb5c 90.5px,#d9e21a 142.5px,#fde725 180.5px,#fde725 257.5px)"></div>
<div style="background:linear-gradient(90deg,#27a882 0.5px,#52c368 51.5px,#9dd93b 97.5px,#d7e21a 134.5px,#fde725 182.5px,#fde725 257.5px)"></div>
<div style="background:linear-gradient(90deg,#3bb875 0.5px,#a7db34 82.5px,#d1e11c 121.5px,#f8e621 168.5px,#fde725 257.5px)"></div>
<div style="background:linear-gradient(90deg,#60c860 0.5px,#bfdf26 77.5px,#d5e21a 125.5px,#fde724 174.5px,#fde725 257.5px)"></div>
<div style="background:linear-gradient(90deg,#8ed544 0.5px,#c6e021 58.5px,#dde318 137.5px,#fde725 183.5px,#fde725 257.5px)"></div>
<div style="background:linear-gradient(90deg,#b5dd2c 0.5px,#d1e11c 58.5px,#dce319 135.5px,#fde725 183.5px,#fde725 257.5px)"></div>
<div style="background:linear-gradient(90deg,#cbe11f 0.5px,#dbe319 134.5px,#fde725 183.5px,#fde725 257.5px)"></div>
<div style="background:linear-gradient(90deg,#d3e21b 0.5px,#dbe319 134.5px,#fde725 183.5px,#fde725 257.5px)"></div>
<div style="background:linear-gradient(90deg,#d4e21b 0.5px,#d7e21a 130.5px,#fde725 183.5px,#fde725 257.5px)"></div>
<div style="background:linear-gradient(90deg,#cfe11d 0.5px,#c8e020 108.5px,#e2e419 146.5px,#fde725 183.5px,#fde725 257.5px)"></div>
<div style="background:linear-gradient(90deg,#bedf26 0.5px,#abdb32 93.5px,#d1e11d 140.5px,#fce724 183.5px,#fde725 257.5px)"></div>
<div style="background:linear-gradient(90deg,#9bd83c 0.5px,#82d24c 85.5px,#a5da35 127.5px,#e6e41c 168.5px,#fde725 193.5px,#fde725 257.5px)"></div>
<div style="background:linear-gradient(90deg,#6ccb59 0.5px,#58c565 83.5px,#77d052 119.5px,#d8e21d 171.5px,#fce724 193.5px,#fde725 257.5px)"></div>
<div style="background:linear-gradient(90deg,#42bb72 0.5px,#3bb876 88.5px,#60c960 126.5px,#b8de2a 169.5px,#f0e51d 187.5px,#fde725 204.5px,#fae723 257.5px)"></div>
<div style="background:linear-gradient(90deg,#29aa81 0.5px,#2caf7e 99.5px,#54c567 135.5px,#98d83e 167.5px,#e5e41a 187.5px,#fde725 199.5px,#f1e620 250.5px,#ebe51f 257.5px)"></div>
<div style="background:linear-gradient(90deg,#219b89 0.5px,#22a386 99.5px,#3dbb74 134.5px,#7ed24e 166.5px,#cae020 184.5px,#f2e61d 192.5px,#fde725 203.5px,#f0e520 234.5px,#cce024 257.5px)"></div>
<div style="background:linear-gradient(90deg,#228e8c 0.5px,#20978a 97.5px,#2fb27c 134.5px,#66cc5d 164.5px,#b5de2b 182.5px,#e9e41a 189.5px,#fde725 199.5px,#f3e620 221.5px,#b7dd2e 246.5px,#9ed83b 257.5px)"></div>
<div style="background:linear-gradient(90deg,#25848e 0.5px,#228c8d 94.5px,#27ad81 136.5px,#53c568 162.5px,#9eda3a 179.5px,#e1e31a 187.5px,#fae722 193.5px,#f4e621 213.5px,#c2df29 226.5px,#6dcc58 257.5px)"></div>
<div style="background:linear-gradient(90deg,#297b8e 0.5px,#26818e 88.5px,#24a983 140.5px,#48c16e 162.5px,#8bd646 176.5px,#d9e21c 185.5px,#f9e622 190.5px,#f4e621 205.5px,#c7df27 217.5px,#83d24b 229.5px,#48be6e 255.5px,#46be6f 257.5px)"></div>
<div style="background:linear-gradient(90deg,#2c728e 0.5px,#2a778e 83.5px,#23a784 144.5px,#44bf70 163.5px,#7cd250 173.5px,#cae021 182.5px,#f4e61f 187.5px,#f7e622 195.5px,#d2e123 207.5px,#5bc663 227.5px,#31b17c 252.5px,#2dae7e 257.5px)"></div>
<div style="background:linear-gradient(90deg,#2f6b8e 0.5px,#2e6e8e 80.5px,#1f9b8a 137.5px,#2fb47c 157.5px,#53c568 167.5px,#b4dd2d 178.5px,#e6e41c 183.5px,#f5e621 188.5px,#d2e123 199.5px,#4dc06b 221.5px,#31b17c 232.5px,#229f87 257.5px)"></div>
<div style="background:linear-gradient(90deg,#32648d 0.5px,#31668e 77.5px,#21918c 133.5px,#28ae80 155.5px,#49c16e 165.5px,#7dd24f 171.5px,#d7e21e 179.5px,#f0e51e 184.5px,#b4dc30 196.5px,#4bbf6c 213.5px,#27a883 226.5px,#21918c 257.5px)"></div>
<div style="background:linear-gradient(90deg,#365d8d 0.5px,#34608d 77.5px,#228b8d 132.5px,#24aa83 154.5px,#47c06f 164.5px,#76d053 169.5px,#c9e022 175.5px,#e9e41c 180.5px,#dde320 184.5px,#89d347 194.5px,#40ba73 207.5px,#23a087 221.5px,#25848e 257.5px)"></div>
<div style="background:linear-gradient(90deg,#39568c 0.5px,#37598c 76.5px,#25858e 130.5px,#24aa83 154.5px,#41bd72 162.5px,#73cf55 167.5px,#cee120 173.5px,#e3e41c 177.5px,#d1e123 181.5px,#6dcb58 190.5px,#34b27a 202.5px,#21968a 218.5px,#2a788e 257.5px)"></div>
<div style="background:linear-gradient(90deg,#3b508b 0.5px,#3a528b 74.5px,#287c8e 126.5px,#23a884 153.5px,#45bf70 161.5px,#81d24c 166.5px,#cde120 171.5px,#d9e21d 174.5px,#c2de29 178.5px,#4cbf6c 188.5px,#29a982 198.5px,#25848e 221.5px,#2f6c8e 257.5px)"></div>
<div style="background:linear-gradient(90deg,#3e4a89 0.5px,#3d4c8a 73.5px,#2b768e 123.5px,#22a784 152.5px,#44be70 159.5px,#83d34b 164.5px,#c0df26 168.5px,#cee120 171.5px,#afdb32 175.5px,#46bc6f 184.5px,#28a782 190.5px,#26828e 213.5px,#34628d 254.5px,#34618d 257.5px)"></div>
<div style="background:linear-gradient(90deg,#404587 0.5px,#404688 72.5px,#2d708e 121.5px,#23a884 151.5px,#45be70 157.5px,#98d73e 163.5px,#bfdf26 166.5px,#c0de26 169.5px,#48bc6e 179.5px,#27a583 185.5px,#2a798e 210.5px,#38578c 252.5px,#39558b 257.5px)"></div>
<div style="background:linear-gradient(90deg,#423f85 0.5px,#424186 70.5px,#306a8e 118.5px,#20a287 148.5px,#34b579 153.5px,#70cd56 158.5px,#b4dd2c 163.5px,#b7dd2b 166.5px,#93d541 169.5px,#4abd6d 174.5px,#27a583 180.5px,#277f8e 196.5px,#3b518a 241.5px,#3e4a89 257.5px)"></div>
<div style="background:linear-gradient(90deg,#443983 0.5px,#443b84 69.5px,#32648e 115.5px,#1f9b8a 144.5px,#2db17d 150.5px,#58c565 154.5px,#a3da37 159.5px,#b1dc2e 162.5px,#98d63d 165.5px,#3fb773 171.5px,#25a185 176.5px,#2b758e 194.5px,#404587 242.5px,#423e84 257.5px)"></div>
<div style="background:linear-gradient(90deg,#463480 0.5px,#453781 68.5px,#355f8d 113.5px,#20938c 140.5px,#29ad80 147.5px,#4fc26a 151.5px,#9bd83c 156.5px,#a7db34 159.5px,#8ed444 162.5px,#3ab477 168.5px,#239989 173.5px,#30698e 194.5px,#443b83 241.5px,#473580 257.5px)"></div>
<div style="background:linear-gradient(90deg,#47307d 0.5px,#46337f 69.5px,#365c8d 112.5px,#20928c 138.5px,#26a982 144.5px,#49bf6d 148.5px,#9ad83d 154.5px,#98d73d 157.5px,#35af7a 165.5px,#23958a 170.5px,#34608d 192.5px,#483580 235.5px,#583e86 257.5px)"></div>
<div style="background:linear-gradient(90deg,#4c307d 0.5px,#51347f 51.5px,#47307d 69.5px,#375a8c 111.5px,#228d8d 135.5px,#29ab80 142.5px,#52c268 146.5px,#90d643 151.5px,#8dd544 154.5px,#30ab7e 162.5px,#238c8c 168.5px,#38578c 190.5px,#4b3782 223.5px,#634b8e 238.5px,#826ca3 257.5px)"></div>
<div style="background:linear-gradient(90deg,#5b3f87 0.5px,#684e8f 49.5px,#492c7a 64.5px,#3c4e8a 104.5px,#24888d 132.5px,#28a882 139.5px,#5cc663 144.5px,#88d448 148.5px,#83d24b 151.5px,#31ac7d 158.5px,#248c8c 164.5px,#365d8d 181.5px,#483580 211.5px,#60478b 222.5px,#9886b3 241.5px,#ae9fc3 257.5px)"></div>
<div style="background:linear-gradient(90deg,#745c98 0.5px,#826ca3 47.5px,#492b7a 68.5px,#3c4f8a 105.5px,#24878d 130.5px,#27a683 136.5px,#58c565 141.5px,#80d24d 145.5px,#79cf51 148.5px,#2da780 155.5px,#25878d 161.5px,#3a538b 180.5px,#493680 202.5px,#61488c 212.5px,#ac9ec2 230.5px,#cac1d8 252.5px,#cdc4da 257.5px)"></div>
<div style="background:linear-gradient(90deg,#8f7bac 0.5px,#9b8ab5 44.5px,#492b7a 71.5px,#3b518b 106.5px,#24888d 128.5px,#2ba981 134.5px,#74cf54 141.5px,#75ce54 144.5px,#2aa283 152.5px,#297b8e 160.5px,#424085 184.5px,#4c3882 195.5px,#624a8d 203.5px,#c2b7d2 223.5px,#dbd4e4 240.5px,#e1dce9 257.5px)"></div>
<div style="background:linear-gradient(90deg,#a798be 0.5px,#b1a4c6 42.5px,#6e5594 63.5px,#482979 74.5px,#39568c 108.5px,#24898d 126.5px,#29a682 131.5px,#6ccd59 138.5px,#6acb5a 141.5px,#2ca382 148.5px,#287e8e 155.5px,#433e84 179.5px,#4f3983 188.5px,#61488c 194.5px,#cec6db 215.5px,#e8e4ee 229.5px,#f0edf4 257.5px)"></div>
<div style="background:linear-gradient(90deg,#beb3cf 0.5px,#c5bbd4 40.5px,#826ca2 61.5px,#482978 75.5px,#39568c 107.5px,#238b8d 124.5px,#2dab7f 129.5px,#64ca5e 135.5px,#5ec661 138.5px,#299d85 145.5px,#31688e 157.5px,#483580 179.5px,#5f468b 186.5px,#d1c9dd 206.5px,#efedf4 218.5px,#f9f8fb 257.5px)"></div>
<div style="background:linear-gradient(90deg,#d2cbde 0.5px,#d8d1e2 37.5px,#9f8eb8 56.5px,#482978 76.5px,#39568c 106.5px,#24888d 121.5px,#2ca980 126.5px,#5cc763 132.5px,#4cbd6d 136.5px,#299d85 141.5px,#31668d 153.5px,#483680 173.5px,#60478b 180.5px,#bdb1ce 193.5px,#ece8f1 205.5px,#fbfbfc 222.5px,#fdfdfe 257.5px)"></div>
<div style="background:linear-gradient(90deg,#e4dfeb 0.5px,#e7e3ed 35.5px,#aea0c3 54.5px,#482978 76.5px,#38578c 105.5px,#248c8c 119.5px,#32af7c 124.5px,#54c467 129.5px,#43b872 133.5px,#279688 138.5px,#355f8d 151.5px,#4b3781 169.5px,#61488c 174.5px,#d2cade 189.5px,#f5f3f8 201.5px,#fefeff 232.5px,#ffffff 257.5px)"></div>
<div style="background:linear-gradient(90deg,#f1eff5 0.5px,#f2eff5 34.5px,#b8accb 53.5px,#5f4389 71.5px,#482978 76.5px,#38598c 104.5px,#248b8c 116.5px,#31ae7c 121.5px,#4ec26b 126.5px,#2fa680 132.5px,#287f8d 138.5px,#443b83 160.5px,#563e86 167.5px,#d4ccdf 183.5px,#f4f2f7 192.5px,#ffffff 218.5px,#ffffff 257.5px)"></div>
<div style="background:linear-gradient(90deg,#faf9fb 0.5px,#f8f6fa 34.5px,#c0b5d0 52.5px,#694f90 69.5px,#482979 75.5px,#38588c 102.5px,#25898c 113.5px,#31ae7d 118.5px,#48bf6e 123.5px,#2ca083 129.5px,#2e6f8e 137.5px,#483681 158.5px,#624a8d 164.5px,#c9bfd7 175.5px,#f2eff5 184.5px,#ffffff 201.5px,#ffffff 257.5px)"></div>
<div style="background:linear-gradient(90deg,#fefdfe 0.5px,#faf9fb 35.5px,#c2b7d2 52.5px,#6a5091 68.5px,#482a79 74.5px,#39568c 99.5px,#26868c 110.5px,#30ad7e 115.5px,#42bc72 120.5px,#289388 127.5px,#355e8d 137.5px,#4b3781 154.5px,#624a8d 159.5px,#dbd4e4 172.5px,#f8f7fa 181.5px,#ffffff 238.5px,#ffffff 257.5px)"></div>
<div style="background:linear-gradient(90deg,#ffffff 0.5px,#fafafc 36.5px,#c2b7d2 52.5px,#6a5091 67.5px,#4a2c7a 72.5px,#3b518b 95.5px,#26848d 107.5px,#2eab7f 112.5px,#3eba74 116.5px,#2a9c85 122.5px,#34618d 132.5px,#483781 148.5px,#624a8d 154.5px,#dad4e4 167.5px,#f7f6f9 174.5px,#ffffff 206.5px,#ffffff 257.5px)"></div>
<div style="background:linear-gradient(90deg,#ffffff 0.5px,#faf9fb 37.5px,#c0b5d0 52.5px,#674c8f 66.5px,#492b7a 71.5px,#38588c 95.5px,#268b8b 105.5px,#39b777 112.5px,#2da581 117.5px,#2c748d 124.5px,#433d84 139.5px,#533c85 146.5px,#634b8e 149.5px,#dad4e4 162.5px,#f9f8fb 170.5px,#ffffff 257.5px)"></div>
<div style="background:linear-gradient(90deg,#ffffff 0.5px,#fafafc 37.5px,#c1b7d1 51.5px,#6a5091 64.5px,#4a2c7b 69.5px,#39558b 91.5px,#27828d 101.5px,#30af7d 107.5px,#35b37a 111.5px,#29818c 118.5px,#3e4988 130.5px,#4a3882 138.5px,#5e468b 143.5px,#dbd5e4 157.5px,#f9f8fb 165.5px,#ffffff 257.5px)"></div>
<div style="background:linear-gradient(90deg,#ffffff 0.5px,#faf9fb 37.5px,#c2b7d2 50.5px,#64498c 63.5px,#4b2d7b 67.5px,#39558b 88.5px,#27828d 98.5px,#32b27b 105.5px,#2fac7e 109.5px,#2c768d 116.5px,#433f85 129.5px,#4e3b84 134.5px,#634b8e 138.5px,#dcd6e5 152.5px,#f9f8fb 160.5px,#ffffff 257.5px)"></div>
<div style="background:linear-gradient(90deg,#ffffff 0.5px,#f9f8fb 37.5px,#c1b6d1 49.5px,#654a8d 61.5px,#4b2e7b 65.5px,#39558b 85.5px,#27838c 95.5px,#30b17c 102.5px,#2da980 106.5px,#2d738d 113.5px,#433e84 125.5px,#553f86 131.5px,#826da3 136.5px,#d7d0e2 146.5px,#f8f7fa 154.5px,#ffffff 189.5px,#ffffff 257.5px)"></div>
<div style="background:linear-gradient(90deg,#ffffff 0.5px,#fbfafc 36.5px,#c6bcd5 47.5px,#705795 58.5px,#4f317e 62.5px,#453781 70.5px,#2f6d8e 88.5px,#28a284 96.5px,#30b17c 100.5px,#279787 105.5px,#3a538b 115.5px,#4a3982 124.5px,#5f478b 128.5px,#c7bed6 138.5px,#f1eff5 146.5px,#ffffff 159.5px,#ffffff 257.5px)"></div>
<div style="background:linear-gradient(90deg,#ffffff 0.5px,#fbfbfc 35.5px,#c4bad4 46.5px,#674d8f 57.5px,#4b2e7c 61.5px,#38588c 80.5px,#268e8a 90.5px,#2fb07d 96.5px,#289d85 101.5px,#39568b 111.5px,#4a3982 120.5px,#624a8d 124.5px,#d0c8dc 134.5px,#f0edf4 140.5px,#ffffff 153.5px,#ffffff 257.5px)"></div>
<div style="background:linear-gradient(90deg,#ffffff 0.5px,#faf9fb 35.5px,#c3b8d3 45.5px,#4f327e 58.5px,#463480 64.5px,#2e6e8e 82.5px,#28a084 89.5px,#31b17c 94.5px,#278b8a 100.5px,#3e4a88 110.5px,#4a3882 116.5px,#634b8e 120.5px,#d5cde0 130.5px,#f4f3f7 136.5px,#ffffff 154.5px,#ffffff 257.5px)"></div>
<div style="background:linear-gradient(90deg,#ffffff 0.5px,#fbfafc 34.5px,#c2b7d2 44.5px,#50337f 56.5px,#46327e 61.5px,#2e6d8e 79.5px,#29a184 86.5px,#33b37a 90.5px,#279b86 95.5px,#3a528a 105.5px,#4b3882 113.5px,#60478c 116.5px,#d7d0e1 126.5px,#f6f5f9 132.5px,#ffffff 153.5px,#ffffff 257.5px)"></div>
<div style="background:linear-gradient(90deg,#ffffff 0.5px,#fcfbfd 33.5px,#c9c0d7 42.5px,#745c98 51.5px,#4d2f7c 55.5px,#3f4788 67.5px,#287f8d 79.5px,#33b07c 85.5px,#31b07c 89.5px,#28818c 95.5px,#404486 105.5px,#4c3782 110.5px,#634b8e 113.5px,#cdc5da 121.5px,#f0eef4 126.5px,#ffffff 136.5px,#ffffff 257.5px)"></div>
<div style="background:linear-gradient(90deg,#ffffff 0.5px,#fbfafc 33.5px,#cbc2d9 41.5px,#725997 50.5px,#50327e 53.5px,#46337f 58.5px,#2e6d8e 74.5px,#2ba083 80.5px,#3cb975 84.5px,#2ba681 88.5px,#2d718d 94.5px,#473680 106.5px,#573e86 109.5px,#d3cbde 118.5px,#f4f2f7 123.5px,#ffffff 135.5px,#ffffff 257.5px)"></div>
<div style="background:linear-gradient(90deg,#ffffff 0.5px,#fbfafc 33.5px,#c7bed6 41.5px,#735b98 49.5px,#4f317d 52.5px,#463480 57.5px,#2f6d8e 72.5px,#279887 77.5px,#46bd70 81.5px,#38b578 84.5px,#268f8a 88.5px,#3b508a 97.5px,#48347f 104.5px,#5e448a 107.5px,#d4ccdf 115.5px,#f6f4f8 120.5px,#ffffff 135.5px,#ffffff 257.5px)"></div>
<div style="background:linear-gradient(90deg,#ffffff 0.5px,#fbfafc 33.5px,#c6bcd5 41.5px,#6c5292 49.5px,#4a2c7b 52.5px,#375a8c 67.5px,#25878d 74.5px,#29a184 76.5px,#55c367 79.5px,#4cc16c 81.5px,#2aa483 84.5px,#2c728e 89.5px,#48327e 102.5px,#533882 104.5px,#a292ba 109.5px,#e4e0eb 114.5px,#fcfbfc 119.5px,#ffffff 257.5px)"></div>
<div style="background:linear-gradient(90deg,#ffffff 0.5px,#fcfbfd 33.5px,#d1c9dd 40.5px,#79619c 48.5px,#50317e 51.5px,#46317e 55.5px,#2e6f8e 70.5px,#22938b 74.5px,#28a284 75.5px,#6bcb5a 78.5px,#69cc5b 79.5px,#2dab7f 82.5px,#25868d 85.5px,#3e4b89 94.5px,#482f7d 101.5px,#593e86 103.5px,#cec5db 110.5px,#f5f3f7 114.5px,#ffffff 123.5px,#ffffff 257.5px)"></div>
<div style="background:linear-gradient(90deg,#ffffff 0.5px,#fbfafc 34.5px,#d8d1e2 40.5px,#8d7aab 47.5px,#4d2f7c 52.5px,#3f4989 62.5px,#2a798e 71.5px,#229a88 74.5px,#2eac7e 75.5px,#71cd56 77.5px,#7dd24f 78.5px,#6acc5a 79.5px,#2fae7e 81.5px,#22918b 83.5px,#375b8c 90.5px,#482d7c 100.5px,#583c84 102.5px,#d1c9dd 109.5px,#f8f7fa 113.5px,#ffffff 133.5px,#ffffff 257.5px)"></div>
<div style="background:linear-gradient(90deg,#ffffff 0.5px,#fbfbfc 35.5px,#dbd5e5 41.5px,#927faf 48.5px,#523681 53.5px,#463480 57.5px,#2e6f8e 70.5px,#239989 74.5px,#2eab7e 75.5px,#71cd56 77.5px,#7cd150 78.5px,#66ca5d 79.5px,#2cac7f 81.5px,#22918c 83.5px,#39558b 91.5px,#482d7b 100.5px,#4e307d 101.5px,#d6cfe1 109.5px,#f5f4f8 112.5px,#ffffff 120.5px,#ffffff 257.5px)"></div>
<div style="background:linear-gradient(90deg,#ffffff 0.5px,#faf9fb 37.5px,#d6cfe1 44.5px,#8b77aa 51.5px,#5b4188 55.5px,#463982 60.5px,#31668d 70.5px,#248d8b 74.5px,#299d85 75.5px,#56c067 77.5px,#66c95d 78.5px,#5ec861 79.5px,#28a782 82.5px,#2b768e 87.5px,#47307d 100.5px,#543a83 102.5px,#d6cfe1 110.5px,#f2f0f6 113.5px,#fefeff 124.5px,#ffffff 257.5px)"></div>
<div style="background:linear-gradient(90deg,#ffffff 0.5px,#f9f8fb 40.5px,#dad4e4 47.5px,#9785b2 54.5px,#604a8d 59.5px,#454085 65.5px,#2f6d8d 73.5px,#2c9485 76.5px,#47ba70 79.5px,#2aaa81 83.5px,#297b8d 89.5px,#443981 101.5px,#564288 104.5px,#d3ccdf 113.5px,#f1eef5 119.5px,#fefefe 137.5px,#ffffff 257.5px)"></div>
<div style="background:linear-gradient(90deg,#ffffff 0.5px,#f9f8fa 44.5px,#dad4e4 52.5px,#7e6ba2 62.5px,#615091 65.5px,#424b88 71.5px,#30718b 76.5px,#31a27f 80.5px,#29a981 84.5px,#26878c 91.5px,#424686 104.5px,#6c5f99 110.5px,#a69dc1 115.5px,#e4dfeb 126.5px,#faf9fc 146.5px,#ffffff 257.5px)"></div>
<div style="background:linear-gradient(90deg,#ffffff 0.5px,#f9f8fb 49.5px,#dcd6e5 58.5px,#8778aa 68.5px,#675996 71.5px,#3e5b8b 77.5px,#2a8f87 83.5px,#229988 89.5px,#3b568a 108.5px,#555a93 113.5px,#6e629b 119.5px,#a59cc1 126.5px,#bdb4d0 134.5px,#ccc4da 139.5px,#e0dbe9 146.5px,#f8f7fa 173.5px,#faf9fb 257.5px)"></div>
<div style="background:linear-gradient(90deg,#ffffff 0.5px,#f9f8fb 56.5px,#dfd9e7 65.5px,#998eb8 74.5px,#6b649b 77.5px,#39658a 83.5px,#29848c 91.5px,#287d8d 101.5px,#484f8c 120.5px,#645b97 128.5px,#73649d 138.5px,#998cb7 143.5px,#c1b6d1 161.5px,#d3cbde 166.5px,#cfc7dc 171.5px,#dcd6e5 177.5px,#e0dbe8 232.5px,#c8bfd7 243.5px,#ded8e7 252.5px,#e1dce9 257.5px)"></div>
<div style="background:linear-gradient(90deg,#ffffff 0.5px,#f9f8fb 64.5px,#e0dbe9 73.5px,#bab0cd 77.5px,#726c9f 82.5px,#5a6c9a 87.5px,#356a8c 96.5px,#37618d 110.5px,#3c558c 118.5px,#474588 134.5px,#50468a 139.5px,#645494 150.5px,#725f9a 161.5px,#8b7aab 165.5px,#7d6ca3 170.5px,#9889b5 175.5px,#a797be 229.5px,#8a7aac 239.5px,#76659e 242.5px,#9c8db7 251.5px,#a595bd 257.5px)"></div>
<div style="background:linear-gradient(90deg,#ffffff 0.5px,#f9f8fb 73.5px,#e6e2ed 78.5px,#b8b0cd 84.5px,#928eb6 90.5px,#6c6a9d 94.5px,#596297 117.5px,#575492 135.5px,#52468a 143.5px,#494186 148.5px,#4c3a83 156.5px,#523e86 162.5px,#56448a 168.5px,#54458a 171.5px,#614a8d 180.5px,#694f91 230.5px,#4f4187 243.5px,#6e5594 257.5px)"></div>
<div style="background:linear-gradient(90deg,#ffffff 0.5px,#fbfafc 78.5px,#dad5e4 90.5px,#c0b9d3 96.5px,#a19abf 117.5px,#9a8fb8 133.5px,#8d7fae 141.5px,#6c5e99 146.5px,#735f9b 154.5px,#685695 161.5px,#6a5192 184.5px,#725a97 231.5px,#685594 245.5px,#816ba2 257.5px)"></div>
<div style="background:linear-gradient(90deg,#ffffff 0.5px,#f9f8fb 90.5px,#e3deea 121.5px,#d4cee0 141.5px,#beb4d0 147.5px,#beb3cf 155.5px,#b5a9c9 163.5px,#ab9ec2 173.5px,#b7aaca 231.5px,#b4a8c8 246.5px,#c3b9d3 257.5px)"></div>
<div style="background:linear-gradient(90deg,#ffffff 0.5px,#f7f5f9 142.5px,#e7e3ee 177.5px,#efedf4 257.5px)"></div>
<div style="background:#ffffff"></div>
<div style="background:#ffffff"></div>
<div style="background:#ffffff"></div>
<div style="background:#ffffff"></div>
<div style="background:#ffffff"></div>
<div style="background:#ffffff"></div>
<div style="background:#ffffff"></div>
<div style="background:#ffffff"></div>
<div style="background:#ffffff"></div>
<div style="background:#ffffff"></div>
<div style="background:#ffffff"></div>
<div style="background:#ffffff"></div>
<div style="background:#ffffff"></div>
<div style="background:#ffffff"></div>
<div style="background:#ffffff"></div>
<div style="background:#ffffff"></div>
<div style="background:#ffffff"></div>
<div style="background:#ffffff"></div>
<div style="background:#ffffff"></div>
</div>
<div class="hm" style="left:574px;top:241px;width:258px;height:236px">
<div style="background:linear-gradient(90deg,#ffffff 0.5px,#faf9fb 37.5px,#b3a6c7 55.5px,#482978 77.5px,#37598c 110.5px,#209c89 136.5px,#24a983 168.5px,#22a286 171.5px,#2e6d8e 174.5px,#32668e 177.5px,#23a784 204.5px,#27ad81 215.5px,#219e88 230.5px,#24888d 232.5px,#39558b 235.5px,#46337f 243.5px,#472f7d 257.5px)"></div>
<div style="background:linear-gradient(90deg,#ffffff 0.5px,#faf9fb 37.5px,#b3a6c7 55.5px,#482978 77.5px,#38578c 106.5px,#219d88 128.5px,#22a585 152.5px,#219889 171.5px,#2d718e 174.5px,#25a983 202.5px,#23a286 217.5px,#26848d 231.5px,#3e4b89 236.5px,#472f7d 245.5px,#472e7c 257.5px)"></div>
<div style="background:linear-gradient(90deg,#ffffff 0.5px,#faf9fb 37.5px,#b3a6c7 55.5px,#492a79 76.5px,#3b528b 101.5px,#22a087 121.5px,#22a186 138.5px,#238b8d 171.5px,#287d8e 174.5px,#25a883 191.5px,#25a883 203.5px,#2e6e8e 231.5px,#433f85 238.5px,#472c7a 249.5px,#472d7b 257.5px)"></div>
<div style="background:linear-gradient(90deg,#ffffff 0.5px,#fcfbfc 36.5px,#bcb0cd 53.5px,#482979 76.5px,#3a548b 99.5px,#22a187 115.5px,#21a087 127.5px,#287c8e 158.5px,#238d8c 172.5px,#25aa82 186.5px,#26aa82 200.5px,#248a8c 207.5px,#3a548b 233.5px,#472f7d 243.5px,#472b7a 257.5px)"></div>
<div style="background:linear-gradient(90deg,#ffffff 0.5px,#fbfafc 36.5px,#b5a9c9 54.5px,#492a79 75.5px,#3c4f8a 95.5px,#26858d 105.5px,#22a585 112.5px,#23918b 125.5px,#2e6f8e 149.5px,#2a798e 161.5px,#25a983 177.5px,#21a087 192.5px,#25a883 198.5px,#2a778e 205.5px,#3f4889 234.5px,#472b7a 245.5px,#472a79 257.5px)"></div>
<div style="background:linear-gradient(90deg,#ffffff 0.5px,#fbfbfc 35.5px,#bdb1ce 52.5px,#482a79 75.5px,#3a548b 94.5px,#22a286 107.5px,#219c88 114.5px,#2e6f8e 131.5px,#32668e 150.5px,#248d8c 162.5px,#25aa82 172.5px,#22918c 188.5px,#25aa82 194.5px,#229889 198.5px,#31688d 204.5px,#424186 235.5px,#492979 247.5px,#482979 257.5px)"></div>
<div style="background:linear-gradient(90deg,#ffffff 0.5px,#faf9fb 35.5px,#b6a9c9 53.5px,#482a79 74.5px,#3b518b 91.5px,#22a187 103.5px,#219e87 109.5px,#2f6d8e 122.5px,#355e8d 144.5px,#27818d 155.5px,#25a983 165.5px,#229a89 175.5px,#27818e 184.5px,#25aa82 192.5px,#248c8c 197.5px,#365c8d 204.5px,#443a83 236.5px,#4a2b7a 246.5px,#553882 253.5px,#4b2c7a 257.5px)"></div>
<div style="background:linear-gradient(90deg,#ffffff 0.5px,#faf9fb 34.5px,#b7abca 52.5px,#5a3d85 70.5px,#492a79 73.5px,#3b528b 89.5px,#22a186 100.5px,#219f87 105.5px,#31688e 117.5px,#38588c 138.5px,#2d728e 148.5px,#25a983 160.5px,#229e87 168.5px,#2c748e 181.5px,#24888d 185.5px,#25a983 189.5px,#23a286 192.5px,#33628d 200.5px,#3c4f8b 209.5px,#453781 236.5px,#492a79 244.5px,#604489 252.5px,#533480 257.5px)"></div>
<div style="background:linear-gradient(90deg,#ffffff 0.5px,#f9f8fb 33.5px,#b8accb 51.5px,#5b3e86 69.5px,#492a79 72.5px,#3c4e8a 86.5px,#27818d 93.5px,#22a485 98.5px,#229889 103.5px,#33648d 113.5px,#3a548b 133.5px,#2e6e8e 144.5px,#24a784 155.5px,#23a286 162.5px,#306a8e 178.5px,#2a788e 182.5px,#25a983 187.5px,#23a186 190.5px,#34618d 198.5px,#3e4b89 209.5px,#47307d 238.5px,#4a2b7a 243.5px,#694f90 251.5px,#5c3f87 257.5px)"></div>
<div style="background:linear-gradient(90deg,#ffffff 0.5px,#fafafc 31.5px,#bdb2ce 49.5px,#63488c 67.5px,#492b7a 71.5px,#3d4e8a 84.5px,#26858d 91.5px,#22a585 96.5px,#23918b 101.5px,#33628d 109.5px,#3b508b 126.5px,#355d8d 137.5px,#23a485 150.5px,#24a684 156.5px,#31678e 173.5px,#30698e 179.5px,#24a784 185.5px,#23a186 188.5px,#32648d 195.5px,#3f4888 207.5px,#472e7c 238.5px,#4f317d 243.5px,#715996 250.5px,#694f90 256.5px,#654a8d 257.5px)"></div>
<div style="background:linear-gradient(90deg,#ffffff 0.5px,#f9f8fb 30.5px,#bdb2ce 48.5px,#64498c 66.5px,#492b7a 70.5px,#3d4c8a 82.5px,#287e8d 88.5px,#22a585 93.5px,#229989 97.5px,#355f8d 106.5px,#3d4d8a 123.5px,#375a8c 134.5px,#23908b 143.5px,#25aa82 149.5px,#238f8b 157.5px,#33638d 169.5px,#33628d 177.5px,#248d8c 181.5px,#25a983 184.5px,#229a88 187.5px,#33638d 193.5px,#414487 207.5px,#4a2b7a 241.5px,#78619b 249.5px,#765e9a 255.5px,#6e5594 257.5px)"></div>
<div style="background:linear-gradient(90deg,#ffffff 0.5px,#f9f8fb 28.5px,#c1b6d1 46.5px,#6b5192 64.5px,#492b7a 69.5px,#3e4b89 80.5px,#287f8d 86.5px,#22a386 90.5px,#219c88 94.5px,#34628d 102.5px,#3d4c8a 115.5px,#3b518b 129.5px,#2e6d8e 136.5px,#23a385 143.5px,#24a784 148.5px,#32668d 163.5px,#375a8c 174.5px,#2c748e 178.5px,#24a784 182.5px,#229e87 185.5px,#33638d 191.5px,#414387 205.5px,#4a2b7a 240.5px,#816ba2 249.5px,#7f69a1 255.5px,#775f9b 257.5px)"></div>
<div style="background:linear-gradient(90deg,#ffffff 0.5px,#f9f8fb 26.5px,#c3b9d3 44.5px,#6b5191 63.5px,#492b7a 68.5px,#3c4e8a 79.5px,#229e87 87.5px,#22a486 90.5px,#365d8d 100.5px,#3f4889 116.5px,#3b528b 128.5px,#2b758e 135.5px,#24a784 141.5px,#23a186 146.5px,#31678e 158.5px,#38588c 173.5px,#2c748e 177.5px,#25a983 181.5px,#23a385 183.5px,#33638d 189.5px,#414487 202.5px,#4a2a79 239.5px,#8671a6 248.5px,#8b77aa 254.5px,#8069a1 257.5px)"></div>
<div style="background:linear-gradient(90deg,#ffffff 0.5px,#f8f7fa 24.5px,#c1b7d1 43.5px,#6a5091 62.5px,#492b7a 67.5px,#3e4b89 77.5px,#297c8d 82.5px,#22a486 86.5px,#219d88 89.5px,#355e8d 97.5px,#3f4889 110.5px,#3e4b89 124.5px,#306a8e 132.5px,#23a485 138.5px,#24a584 142.5px,#31668e 154.5px,#3a538b 171.5px,#31668e 175.5px,#23a186 179.5px,#25a983 181.5px,#2a788e 185.5px,#38578c 190.5px,#433c84 210.5px,#4d2e7c 239.5px,#8e7aac 248.5px,#9683b1 253.5px,#8873a7 257.5px)"></div>
<div style="background:linear-gradient(90deg,#ffffff 0.5px,#f6f5f9 22.5px,#c3b8d2 41.5px,#6f5695 60.5px,#482b7a 66.5px,#3d4d8a 76.5px,#229d88 83.5px,#22a386 86.5px,#375a8c 95.5px,#404588 110.5px,#3d4c8a 123.5px,#31678e 130.5px,#24a585 136.5px,#24a784 139.5px,#31668e 150.5px,#3c508b 169.5px,#32648d 174.5px,#23a086 178.5px,#25a883 180.5px,#2c748e 184.5px,#39558c 189.5px,#443b84 210.5px,#4b2c7a 238.5px,#917eae 247.5px,#9e8db7 253.5px,#907dad 257.5px)"></div>
<div style="background:linear-gradient(90deg,#fffeff 0.5px,#f2f0f6 21.5px,#bcb0ce 41.5px,#6e5594 59.5px,#482b7a 65.5px,#3c4f8a 75.5px,#22a286 82.5px,#219d88 85.5px,#365d8d 92.5px,#404588 104.5px,#3f4989 121.5px,#306a8e 129.5px,#23a286 134.5px,#24a784 137.5px,#30688e 146.5px,#3c4f8a 164.5px,#39568c 171.5px,#2f6b8e 174.5px,#229d87 177.5px,#25a983 179.5px,#2d718e 183.5px,#3a538b 188.5px,#443b83 209.5px,#4a2b7a 237.5px,#9987b3 247.5px,#a697be 252.5px,#9885b3 257.5px)"></div>
<div style="background:linear-gradient(90deg,#fcfcfd 0.5px,#ece9f1 21.5px,#b2a4c6 42.5px,#6c5292 58.5px,#4a2c7a 63.5px,#404487 72.5px,#31688d 76.5px,#229f87 80.5px,#229e87 83.5px,#375b8c 90.5px,#414487 102.5px,#3f4889 120.5px,#32658d 127.5px,#229f87 132.5px,#25a883 135.5px,#31688e 143.5px,#3c4f8b 159.5px,#3b508b 169.5px,#32668d 173.5px,#24a684 177.5px,#23a186 179.5px,#32668d 183.5px,#3f4989 191.5px,#4d2e7b 237.5px,#a08fb9 247.5px,#ae9fc3 252.5px,#9f8eb8 257.5px)"></div>
<div style="background:linear-gradient(90deg,#f7f6f9 0.5px,#e5e0ec 21.5px,#aa9cc1 42.5px,#6a5091 57.5px,#4a2c7a 62.5px,#404688 71.5px,#2f6c8d 75.5px,#22a386 79.5px,#22a186 81.5px,#375a8c 88.5px,#414387 100.5px,#404688 118.5px,#31668d 126.5px,#23a485 131.5px,#23a485 134.5px,#306b8e 140.5px,#3a528b 151.5px,#3c4f8a 168.5px,#34618d 172.5px,#23a286 176.5px,#25aa82 177.5px,#22958a 179.5px,#32668d 182.5px,#3e4a89 189.5px,#4a2b7a 236.5px,#a697bd 247.5px,#b5a8c8 252.5px,#a696bd 257.5px)"></div>
<div style="background:linear-gradient(90deg,#f1eef4 0.5px,#ddd7e6 21.5px,#9f8fb8 43.5px,#61458a 57.5px,#492b7a 61.5px,#3f4788 70.5px,#2d708d 74.5px,#229e87 77.5px,#22a485 79.5px,#375a8c 86.5px,#414387 96.5px,#404588 117.5px,#355e8d 124.5px,#229d87 129.5px,#25aa82 131.5px,#23948a 134.5px,#32648d 139.5px,#3d4d8a 154.5px,#3d4d8a 167.5px,#32658d 172.5px,#25a883 176.5px,#25a983 177.5px,#2b768e 180.5px,#37598c 183.5px,#424086 196.5px,#4d2e7c 236.5px,#a697be 246.5px,#bbafcd 252.5px,#ac9dc2 257.5px)"></div>
<div style="background:linear-gradient(90deg,#e9e5ef 0.5px,#d5cee0 21.5px,#9482b0 44.5px,#5e4288 56.5px,#482b7a 60.5px,#3f4888 69.5px,#2c748d 73.5px,#22a186 76.5px,#22a286 78.5px,#365b8c 84.5px,#414387 93.5px,#414487 116.5px,#355d8d 123.5px,#23a087 128.5px,#25aa83 130.5px,#2b758e 135.5px,#38578c 141.5px,#3e4a89 165.5px,#355f8d 171.5px,#238e8b 174.5px,#25aa82 176.5px,#23918b 178.5px,#34618d 181.5px,#404688 189.5px,#4a2b79 235.5px,#b2a5c6 247.5px,#c1b6d1 252.5px,#b2a4c6 257.5px)"></div>
<div style="background:linear-gradient(90deg,#e1dce9 0.5px,#cdc4da 21.5px,#8d79ab 44.5px,#5b3e86 55.5px,#482b7a 59.5px,#3e4a89 68.5px,#2a788d 72.5px,#22a386 75.5px,#22a087 77.5px,#355f8d 82.5px,#404688 88.5px,#424086 112.5px,#39568c 121.5px,#2d708e 124.5px,#23a186 127.5px,#25a983 129.5px,#2d708e 134.5px,#39558c 140.5px,#3e4a89 165.5px,#33628d 171.5px,#24a684 175.5px,#25a983 176.5px,#2c748e 179.5px,#38578c 182.5px,#423f85 194.5px,#4c2d7b 235.5px,#b1a4c6 246.5px,#c6bcd5 251.5px,#b7abca 257.5px)"></div>
<div style="background:linear-gradient(90deg,#d9d2e3 0.5px,#c4bad4 21.5px,#816ba2 45.5px,#492b7a 57.5px,#3e4b89 67.5px,#297c8d 71.5px,#22a485 74.5px,#219d88 76.5px,#375b8c 81.5px,#414387 88.5px,#414387 114.5px,#34618d 122.5px,#23a087 126.5px,#25a983 128.5px,#2b758e 132.5px,#38588c 137.5px,#3f4788 159.5px,#3a528b 168.5px,#32648d 171.5px,#229c88 174.5px,#25a983 175.5px,#24a684 176.5px,#34618d 180.5px,#414487 188.5px,#492a79 234.5px,#b6aac9 246.5px,#cbc1d8 251.5px,#bcb0ce 257.5px)"></div>
<div style="background:linear-gradient(90deg,#d0c7dc 0.5px,#bbb0cd 21.5px,#79629c 45.5px,#482a79 56.5px,#3d4d8a 66.5px,#28808d 70.5px,#22a585 73.5px,#229a89 75.5px,#38588c 80.5px,#423f85 89.5px,#404588 115.5px,#355e8d 121.5px,#248a8c 124.5px,#25a883 126.5px,#239f87 128.5px,#30688e 132.5px,#3c4e8a 140.5px,#3e4b89 165.5px,#31678e 171.5px,#22a086 174.5px,#25aa82 175.5px,#23a385 176.5px,#30688e 179.5px,#3e4b89 184.5px,#463480 219.5px,#4b2b7a 234.5px,#bbafcc 246.5px,#cfc7dc 251.5px,#c1b6d1 257.5px)"></div>
<div style="background:linear-gradient(90deg,#c7bdd5 0.5px,#b2a5c6 21.5px,#725997 45.5px,#492b7a 54.5px,#3f4888 64.5px,#2c738d 68.5px,#22a087 71.5px,#22a286 73.5px,#39568c 79.5px,#433d84 89.5px,#404688 115.5px,#33628d 121.5px,#24a584 125.5px,#25aa83 126.5px,#27808d 129.5px,#345f8d 132.5px,#3f4989 144.5px,#3e4b8a 165.5px,#355f8d 170.5px,#23918b 173.5px,#23a485 174.5px,#25aa83 175.5px,#25898c 177.5px,#32658d 179.5px,#3f4788 185.5px,#4d2e7b 234.5px,#bfb3cf 246.5px,#d3cbde 251.5px,#c4bad4 257.5px)"></div>
<div style="background:linear-gradient(90deg,#bdb2ce 0.5px,#a99ac0 21.5px,#6a4f91 45.5px,#482a79 53.5px,#3e4989 63.5px,#2b768d 67.5px,#22a286 70.5px,#22a087 72.5px,#365c8c 77.5px,#424186 84.5px,#424286 112.5px,#355e8d 120.5px,#248d8c 123.5px,#25aa82 125.5px,#22968a 127.5px,#31678e 130.5px,#3d4e8a 137.5px,#3e4a89 164.5px,#34618d 170.5px,#24a684 174.5px,#25a983 175.5px,#2d708e 178.5px,#3a548b 181.5px,#423f85 192.5px,#492a79 233.5px,#c2b7d2 246.5px,#d6cfe1 251.5px,#c8bed6 257.5px)"></div>
<div style="background:linear-gradient(90deg,#b4a6c7 0.5px,#9e8db7 22.5px,#5d4188 46.5px,#482a7a 52.5px,#3e4a89 62.5px,#2a7a8d 66.5px,#22a386 69.5px,#229e87 71.5px,#375a8c 76.5px,#433e85 84.5px,#414487 113.5px,#34618d 120.5px,#24a784 124.5px,#25a983 125.5px,#2b778e 128.5px,#375a8c 131.5px,#404688 145.5px,#3c4e8a 166.5px,#33628d 170.5px,#229889 173.5px,#24a883 174.5px,#24a784 175.5px,#2f6d8e 178.5px,#3c4f8a 182.5px,#433d84 196.5px,#4a2b7a 233.5px,#c5bbd4 246.5px,#d9d3e3 251.5px,#cbc2d8 257.5px)"></div>
<div style="background:linear-gradient(90deg,#aa9bc0 0.5px,#9583b1 22.5px,#593c84 45.5px,#482a7a 51.5px,#3d4c89 61.5px,#297d8d 65.5px,#22a485 68.5px,#229c88 70.5px,#38588c 75.5px,#433e85 83.5px,#404587 113.5px,#365c8d 119.5px,#248a8c 122.5px,#25a983 124.5px,#24a585 125.5px,#33628d 129.5px,#3e4b89 136.5px,#3d4c8a 165.5px,#33638d 170.5px,#229b88 173.5px,#25a983 174.5px,#24a684 175.5px,#355f8d 179.5px,#414287 187.5px,#4b2c7b 233.5px,#c7bed6 246.5px,#dcd5e5 251.5px,#cdc4da 257.5px)"></div>
<div style="background:linear-gradient(90deg,#a190b9 0.5px,#8c78aa 22.5px,#51337e 45.5px,#472b7a 50.5px,#3d4d8a 60.5px,#2e6f8d 63.5px,#229e87 66.5px,#22a386 68.5px,#39568c 74.5px,#433d84 83.5px,#404588 113.5px,#355f8d 119.5px,#23a585 123.5px,#25a983 124.5px,#248a8c 126.5px,#355e8d 129.5px,#3f4788 138.5px,#3d4c8a 165.5px,#33648d 170.5px,#229c88 173.5px,#25a983 174.5px,#24a585 175.5px,#30698e 178.5px,#3d4e8a 182.5px,#433d84 196.5px,#4d2e7c 233.5px,#c9c0d7 246.5px,#ddd7e6 251.5px,#cfc6db 257.5px)"></div>
<div style="background:linear-gradient(90deg,#9785b2 0.5px,#836da3 22.5px,#482979 47.5px,#3f4888 58.5px,#33628d 61.5px,#22a087 65.5px,#22a286 67.5px,#39558b 73.5px,#443b84 83.5px,#404688 113.5px,#33628d 119.5px,#229a88 122.5px,#25a883 123.5px,#24a784 124.5px,#33628d 128.5px,#3f4989 135.5px,#3d4c8a 165.5px,#32648d 170.5px,#229d87 173.5px,#25a983 174.5px,#23a485 175.5px,#31688e 178.5px,#3e4a89 183.5px,#46337f 217.5px,#492a79 232.5px,#8b76a9 239.5px,#d1c9dd 247.5px,#dfdae8 252.5px,#d0c8dc 257.5px)"></div>
<div style="background:linear-gradient(90deg,#8e7aab 0.5px,#78619b 23.5px,#482a79 46.5px,#3f4888 57.5px,#33648d 60.5px,#22a186 64.5px,#22a087 66.5px,#365b8c 71.5px,#424086 78.5px,#424086 108.5px,#39568c 117.5px,#2b768e 120.5px,#23a086 122.5px,#25aa82 123.5px,#23a385 124.5px,#306a8e 127.5px,#3d4d8a 132.5px,#3f4788 162.5px,#365c8d 169.5px,#2c738e 171.5px,#229e87 173.5px,#25aa83 174.5px,#23a485 175.5px,#31688e 178.5px,#3e4a89 183.5px,#46327e 220.5px,#492a79 232.5px,#ccc3d9 246.5px,#e0dbe8 252.5px,#d1c9dd 257.5px)"></div>
<div style="background:linear-gradient(90deg,#846fa4 0.5px,#705795 23.5px,#482979 44.5px,#414387 55.5px,#32658d 59.5px,#22a286 63.5px,#229f87 65.5px,#375a8c 70.5px,#433e85 78.5px,#414487 111.5px,#355f8d 118.5px,#24a584 122.5px,#25a983 123.5px,#2c748e 126.5px,#39578c 129.5px,#404688 138.5px,#3d4c8a 165.5px,#32648d 170.5px,#229e87 173.5px,#25a983 174.5px,#23a485 175.5px,#31688e 178.5px,#3e4a89 183.5px,#482979 231.5px,#5a3d85 234.5px,#c5bbd4 245.5px,#e0dbe8 251.5px,#d1c9dd 257.5px)"></div>
<div style="background:linear-gradient(90deg,#7b649e 0.5px,#654b8e 24.5px,#482979 41.5px,#423f85 53.5px,#37598c 57.5px,#22a386 62.5px,#229e88 64.5px,#38588c 69.5px,#433e85 77.5px,#404587 111.5px,#33628d 118.5px,#229b88 121.5px,#25a983 122.5px,#24a784 123.5px,#34628d 127.5px,#3f4889 134.5px,#3d4c8a 165.5px,#32648d 170.5px,#229d88 173.5px,#25a983 174.5px,#23a485 175.5px,#30688e 178.5px,#3d4d8a 182.5px,#443c84 197.5px,#4a2b7a 232.5px,#cdc4da 246.5px,#e0dbe8 252.5px,#d1c9dd 257.5px)"></div>
<div style="background:linear-gradient(90deg,#725a97 0.5px,#5d4187 24.5px,#482979 39.5px,#443c84 51.5px,#37598c 56.5px,#22a486 61.5px,#229c88 63.5px,#38578c 68.5px,#433c84 77.5px,#3f4788 112.5px,#365c8d 117.5px,#248c8c 120.5px,#25aa82 122.5px,#23a385 123.5px,#30698e 126.5px,#3d4d8a 131.5px,#404688 157.5px,#3b528b 167.5px,#33638d 170.5px,#229c88 173.5px,#25a983 174.5px,#24a584 175.5px,#306a8e 178.5px,#3d4e8a 182.5px,#433d84 195.5px,#4b2b7a 232.5px,#ccc3d9 246.5px,#e0dae8 252.5px,#d0c8dd 257.5px)"></div>
<div style="background:linear-gradient(90deg,#6a5091 0.5px,#553882 24.5px,#482979 38.5px,#443c84 50.5px,#37598c 55.5px,#22a485 60.5px,#229b88 62.5px,#355f8d 66.5px,#414387 72.5px,#443c84 91.5px,#3f4889 112.5px,#355f8d 117.5px,#24a684 121.5px,#25a983 122.5px,#2c748e 125.5px,#39578c 128.5px,#404588 138.5px,#3d4c8a 165.5px,#33628d 170.5px,#229a89 173.5px,#25a983 174.5px,#24a784 175.5px,#355f8d 179.5px,#424186 187.5px,#4b2c7a 232.5px,#cbc2d9 246.5px,#dfd9e7 252.5px,#cfc7dc 257.5px)"></div>
<div style="background:linear-gradient(90deg,#61468a 0.5px,#482979 35.5px,#443c84 49.5px,#38598c 54.5px,#229a88 58.5px,#22a485 60.5px,#39558b 66.5px,#443b83 76.5px,#404688 111.5px,#33628d 117.5px,#229b88 120.5px,#25a983 121.5px,#24a784 122.5px,#34618d 126.5px,#3f4889 133.5px,#3e4c8a 165.5px,#34618d 170.5px,#229789 173.5px,#24a883 174.5px,#25a883 175.5px,#2e6e8e 178.5px,#3c4f8a 182.5px,#433c84 195.5px,#4b2c7a 232.5px,#cac1d8 246.5px,#ddd7e6 252.5px,#cdc5da 257.5px)"></div>
<div style="background:linear-gradient(90deg,#593c84 0.5px,#472a79 33.5px,#443b84 48.5px,#38588c 53.5px,#229a89 57.5px,#22a485 59.5px,#355d8d 64.5px,#414286 70.5px,#443c84 89.5px,#3e4a89 112.5px,#31668d 117.5px,#23a186 120.5px,#25aa82 121.5px,#23a385 122.5px,#30698e 125.5px,#3d4d8a 130.5px,#404688 155.5px,#3b518b 167.5px,#2f6b8e 171.5px,#24a684 174.5px,#25a983 175.5px,#2d718e 178.5px,#3a548b 181.5px,#433e85 192.5px,#4b2c7a 232.5px,#c8bfd7 246.5px,#dbd5e4 252.5px,#cbc2d9 257.5px)"></div>
<div style="background:linear-gradient(90deg,#51337f 0.5px,#472c7a 35.5px,#423f85 48.5px,#38578c 52.5px,#22a486 57.5px,#229b88 59.5px,#365d8d 63.5px,#414286 69.5px,#443c84 88.5px,#3f4889 111.5px,#355f8d 116.5px,#24a585 120.5px,#25a983 121.5px,#25888c 123.5px,#365c8d 126.5px,#404688 134.5px,#3d4d8a 166.5px,#30698e 171.5px,#23a286 174.5px,#25aa82 175.5px,#248b8c 177.5px,#365c8d 180.5px,#424086 189.5px,#4b2c7a 232.5px,#c6bcd5 246.5px,#d8d2e3 252.5px,#c9bfd7 257.5px)"></div>
<div style="background:linear-gradient(90deg,#4b2b7a 0.5px,#46327f 42.5px,#3d4d8a 50.5px,#2d718e 53.5px,#22a386 56.5px,#229c88 58.5px,#365d8d 62.5px,#424186 68.5px,#443c84 87.5px,#3f4989 111.5px,#34618d 116.5px,#229989 119.5px,#24a883 120.5px,#24a883 121.5px,#33628d 125.5px,#3f4889 132.5px,#3d4d8a 166.5px,#32668d 171.5px,#229e87 174.5px,#25aa83 175.5px,#23a485 176.5px,#355e8d 180.5px,#414286 188.5px,#4b2b7a 232.5px,#c4b9d3 246.5px,#d5cee0 252.5px,#c5bbd4 257.5px)"></div>
<div style="background:linear-gradient(90deg,#482978 0.5px,#453681 43.5px,#3a548b 50.5px,#22a286 55.5px,#229d88 57.5px,#355d8d 61.5px,#424186 67.5px,#433c84 87.5px,#3e4a89 111.5px,#32648d 116.5px,#229e87 119.5px,#25aa83 120.5px,#23a485 121.5px,#306a8e 124.5px,#3c508b 128.5px,#404688 141.5px,#3d4c8a 166.5px,#33638d 171.5px,#229989 174.5px,#24a883 175.5px,#25a883 176.5px,#2d708e 179.5px,#3a548c 182.5px,#433d84 194.5px,#4a2b7a 232.5px,#c1b6d1 246.5px,#d2cade 252.5px,#c2b7d2 257.5px)"></div>
<div style="background:linear-gradient(90deg,#482979 0.5px,#453681 42.5px,#3a528b 49.5px,#287e8d 52.5px,#22a087 54.5px,#229f87 56.5px,#355e8d 60.5px,#424286 66.5px,#433c84 86.5px,#3e4a89 111.5px,#31688e 116.5px,#23a386 119.5px,#25aa82 120.5px,#248b8c 122.5px,#365d8d 125.5px,#404688 133.5px,#3e4c8a 166.5px,#34608d 171.5px,#23a485 175.5px,#25aa82 176.5px,#248c8c 178.5px,#355e8d 181.5px,#424186 190.5px,#4a2a79 232.5px,#bdb2ce 246.5px,#cec5db 252.5px,#beb2cf 257.5px)"></div>
<div style="background:linear-gradient(90deg,#472a7a 0.5px,#453681 41.5px,#3b518b 48.5px,#297b8d 51.5px,#229f87 53.5px,#22a187 55.5px,#355f8d 59.5px,#404487 64.5px,#443b83 80.5px,#3f4889 110.5px,#355f8d 115.5px,#24a684 119.5px,#25a983 120.5px,#2d718e 123.5px,#39568c 126.5px,#404588 137.5px,#3d4d8a 167.5px,#31678e 172.5px,#229e87 175.5px,#25a983 176.5px,#24a684 177.5px,#33638d 181.5px,#404588 188.5px,#492a79 232.5px,#b9adcb 246.5px,#cac0d8 252.5px,#b9adcb 257.5px)"></div>
<div style="background:linear-gradient(90deg,#472b7a 0.5px,#453882 41.5px,#37598c 48.5px,#229c88 52.5px,#22a286 54.5px,#38578c 59.5px,#433d84 67.5px,#404688 109.5px,#33628d 115.5px,#229a88 118.5px,#25a983 119.5px,#24a784 120.5px,#34618d 124.5px,#3f4888 131.5px,#3d4d8a 167.5px,#33628d 172.5px,#24a684 176.5px,#25a983 177.5px,#248d8c 179.5px,#345f8d 182.5px,#424186 191.5px,#492979 232.5px,#baaecc 247.5px,#c4b9d3 253.5px,#b4a7c8 257.5px)"></div>
<div style="background:linear-gradient(90deg,#472c7b 0.5px,#453882 40.5px,#38578c 47.5px,#22a485 52.5px,#229889 54.5px,#38588c 58.5px,#433d84 66.5px,#3f4788 109.5px,#32658d 115.5px,#229f87 118.5px,#25aa82 119.5px,#23a385 120.5px,#30698e 123.5px,#3d4d8a 128.5px,#404688 158.5px,#3b518b 169.5px,#30688e 173.5px,#229e87 176.5px,#25a983 177.5px,#229989 179.5px,#31678e 182.5px,#3e4989 188.5px,#46337f 214.5px,#4c2d7b 233.5px,#b0a3c5 246.5px,#c0b4d0 252.5px,#afa1c4 257.5px)"></div>
<div style="background:linear-gradient(90deg,#472d7b 0.5px,#453882 39.5px,#39558b 46.5px,#26838d 49.5px,#22a386 51.5px,#229b88 53.5px,#375a8c 57.5px,#423f85 64.5px,#414387 106.5px,#355e8d 114.5px,#23908b 117.5px,#23a385 118.5px,#25aa82 119.5px,#248a8c 121.5px,#32668d 123.5px,#3e4a89 129.5px,#3e4b89 167.5px,#33638d 173.5px,#23a485 177.5px,#25aa82 178.5px,#23948a 180.5px,#32658d 183.5px,#3f4788 190.5px,#482978 232.5px,#684e90 237.5px,#b0a2c5 247.5px,#b8accb 253.5px,#a99abf 257.5px)"></div>
<div style="background:linear-gradient(90deg,#472e7c 0.5px,#443a83 39.5px,#3a538b 45.5px,#287e8d 48.5px,#22a186 50.5px,#22a585 51.5px,#248d8c 53.5px,#365c8c 56.5px,#424186 62.5px,#433d85 86.5px,#3f4989 109.5px,#34608d 114.5px,#24a784 118.5px,#25a983 119.5px,#2d718e 122.5px,#39568c 125.5px,#404688 135.5px,#3d4c8a 168.5px,#31678e 174.5px,#24a784 178.5px,#23a186 180.5px,#32648d 184.5px,#404587 192.5px,#492a79 233.5px,#ab9cc1 247.5px,#b2a5c6 253.5px,#a393bb 257.5px)"></div>
<div style="background:linear-gradient(90deg,#472f7d 0.5px,#443983 38.5px,#375a8c 45.5px,#229e87 49.5px,#22a585 50.5px,#23918b 52.5px,#355f8d 55.5px,#424286 61.5px,#433d84 84.5px,#3e4989 109.5px,#33638d 114.5px,#229b88 117.5px,#25a983 118.5px,#24a684 119.5px,#34608d 123.5px,#3f4888 130.5px,#3d4d8a 169.5px,#34618d 174.5px,#229e87 178.5px,#25a983 180.5px,#2e6f8e 184.5px,#3c4f8a 189.5px,#453882 205.5px,#4c2d7b 234.5px,#a595bc 247.5px,#ac9dc2 253.5px,#9c8bb6 257.5px)"></div>
<div style="background:linear-gradient(90deg,#472f7d 0.5px,#443983 37.5px,#38578c 44.5px,#229b88 48.5px,#22a585 49.5px,#22958a 51.5px,#34618d 54.5px,#404588 59.5px,#443b84 74.5px,#3e4a89 109.5px,#32658d 114.5px,#22a086 117.5px,#25aa82 118.5px,#23a386 119.5px,#30698e 122.5px,#3d4d8a 127.5px,#404688 164.5px,#365d8d 174.5px,#287e8d 177.5px,#25a983 180.5px,#229e87 182.5px,#32658d 186.5px,#3f4788 193.5px,#46307e 221.5px,#4a2b7a 234.5px,#9e8eb8 247.5px,#a595bc 253.5px,#9583b1 257.5px)"></div>
<div style="background:linear-gradient(90deg,#46307e 0.5px,#443b84 37.5px,#39558b 43.5px,#27828d 46.5px,#22a486 48.5px,#22a585 49.5px,#37598c 54.5px,#433e85 62.5px,#3f4889 108.5px,#355e8d 113.5px,#23908b 116.5px,#23a485 117.5px,#25aa83 118.5px,#24898c 120.5px,#32658d 122.5px,#3e4a89 128.5px,#3e4b89 169.5px,#32668d 176.5px,#23a186 180.5px,#24a883 182.5px,#2d708e 186.5px,#3c4f8a 191.5px,#453681 208.5px,#4d2e7b 235.5px,#9886b3 247.5px,#9e8db7 253.5px,#8e7aac 257.5px)"></div>
<div style="background:linear-gradient(90deg,#46317e 0.5px,#443b84 36.5px,#3a538b 42.5px,#297c8d 45.5px,#22a187 47.5px,#22a685 48.5px,#248c8c 50.5px,#365b8c 53.5px,#423f85 60.5px,#404587 106.5px,#355f8d 113.5px,#24a684 117.5px,#25a983 118.5px,#2d708e 121.5px,#39558c 124.5px,#404688 134.5px,#3d4d8a 171.5px,#31678e 177.5px,#23a186 181.5px,#25a883 183.5px,#2d728e 187.5px,#3a548b 191.5px,#453882 206.5px,#4a2b7a 235.5px,#917eae 247.5px,#9684b2 253.5px,#8771a6 257.5px)"></div>
<div style="background:linear-gradient(90deg,#46327e 0.5px,#443b84 35.5px,#37598c 42.5px,#229d88 46.5px,#22a585 47.5px,#23928b 49.5px,#355e8d 52.5px,#414286 58.5px,#433e85 86.5px,#3f4989 108.5px,#34618d 113.5px,#229989 116.5px,#25a883 117.5px,#24a784 118.5px,#34608d 122.5px,#3f4888 129.5px,#3d4c8a 171.5px,#31688e 178.5px,#23a186 182.5px,#25a983 184.5px,#2c748e 188.5px,#3a548b 192.5px,#453882 207.5px,#4c2d7b 236.5px,#8a76a9 247.5px,#8e7bac 253.5px,#7f68a0 257.5px)"></div>
<div style="background:linear-gradient(90deg,#46337f 0.5px,#443c84 34.5px,#38578c 41.5px,#26858d 44.5px,#22a485 46.5px,#22a485 47.5px,#38578c 52.5px,#433e85 60.5px,#3f4788 107.5px,#33638d 113.5px,#229d88 116.5px,#25aa83 117.5px,#24a585 118.5px,#306a8e 121.5px,#3c508b 125.5px,#404688 138.5px,#3d4c8a 172.5px,#31688e 179.5px,#23a086 183.5px,#25a983 185.5px,#2b778e 189.5px,#39558c 193.5px,#453882 208.5px,#4a2a79 236.5px,#8671a5 248.5px,#846ea4 254.5px,#775f9a 257.5px)"></div>
<div style="background:linear-gradient(90deg,#46337f 0.5px,#433e85 34.5px,#39558c 40.5px,#27808d 43.5px,#22a286 45.5px,#22a585 46.5px,#248a8c 48.5px,#375a8c 51.5px,#423f85 58.5px,#3f4788 107.5px,#32658d 113.5px,#22a087 116.5px,#25aa82 117.5px,#23a286 118.5px,#31688e 121.5px,#3d4d8a 126.5px,#404788 168.5px,#375a8c 178.5px,#27808d 182.5px,#24a883 185.5px,#23a485 187.5px,#33648d 192.5px,#414286 201.5px,#4a2b7a 237.5px,#7e68a0 248.5px,#7b649e 254.5px,#6f5694 257.5px)"></div>
<div style="background:linear-gradient(90deg,#463480 0.5px,#433e85 33.5px,#3a548b 39.5px,#297b8d 42.5px,#229f87 44.5px,#22a685 45.5px,#23908b 47.5px,#355d8d 50.5px,#414286 56.5px,#423f85 90.5px,#3e4a89 108.5px,#31668d 113.5px,#23a286 116.5px,#25aa82 117.5px,#248b8c 119.5px,#32668d 121.5px,#3e4a89 127.5px,#3e4b89 173.5px,#355f8d 180.5px,#248e8b 184.5px,#25aa82 187.5px,#248d8b 190.5px,#355f8d 194.5px,#433d84 205.5px,#4b2c7a 238.5px,#765f9a 248.5px,#735b98 254.5px,#674c8e 257.5px)"></div>
<div style="background:linear-gradient(90deg,#463480 0.5px,#423f85 32.5px,#365c8c 39.5px,#219c88 43.5px,#22a585 44.5px,#22958a 46.5px,#34618d 49.5px,#404588 54.5px,#433c84 71.5px,#3f4889 107.5px,#365d8d 112.5px,#2a788e 114.5px,#23a385 116.5px,#25aa82 117.5px,#25898c 119.5px,#32648d 121.5px,#3e4a89 127.5px,#3d4c8a 175.5px,#32658d 182.5px,#24a585 187.5px,#25a883 189.5px,#2b768e 193.5px,#3b518b 198.5px,#453681 213.5px,#4b2c7a 239.5px,#705795 249.5px,#674c8f 255.5px,#5e4288 257.5px)"></div>
<div style="background:linear-gradient(90deg,#463480 0.5px,#423f85 31.5px,#365b8c 38.5px,#22a485 43.5px,#229989 45.5px,#375a8c 49.5px,#433e85 57.5px,#3f4889 107.5px,#355d8d 112.5px,#297a8e 114.5px,#23a485 116.5px,#25a983 117.5px,#25878d 119.5px,#33648d 121.5px,#3e4a89 127.5px,#3d4c8a 176.5px,#33648d 183.5px,#23a286 188.5px,#25a983 190.5px,#297b8d 194.5px,#38578c 198.5px,#443882 211.5px,#4b2c7a 240.5px,#684d8f 249.5px,#5a3d85 256.5px,#563882 257.5px)"></div>
<div style="background:linear-gradient(90deg,#453580 0.5px,#424086 30.5px,#365c8c 37.5px,#22a386 42.5px,#229c88 44.5px,#365c8d 48.5px,#424086 55.5px,#404688 106.5px,#355e8d 112.5px,#297b8e 114.5px,#23a585 116.5px,#25a983 117.5px,#2d718e 120.5px,#39558c 123.5px,#404688 133.5px,#3d4c8a 177.5px,#33628d 184.5px,#229e87 189.5px,#25aa82 191.5px,#238f8b 194.5px,#375a8c 199.5px,#443983 212.5px,#4a2a79 241.5px,#604489 250.5px,#4e2f7c 257.5px)"></div>
<div style="background:linear-gradient(90deg,#453681 0.5px,#424186 29.5px,#365c8c 36.5px,#22a286 41.5px,#229e87 43.5px,#355f8d 47.5px,#414387 53.5px,#433e85 80.5px,#3e4b89 108.5px,#355e8d 112.5px,#297c8e 114.5px,#24a584 116.5px,#25a983 117.5px,#2d708e 120.5px,#39558c 123.5px,#404688 133.5px,#3d4d8a 179.5px,#31688e 186.5px,#23a485 191.5px,#25a883 193.5px,#2e6e8e 198.5px,#3c4e8a 203.5px,#46337f 220.5px,#4b2c7a 243.5px,#573983 251.5px,#492a79 257.5px)"></div>
<div style="background:linear-gradient(90deg,#453681 0.5px,#414286 28.5px,#355d8d 35.5px,#22a286 40.5px,#219f87 42.5px,#34618d 46.5px,#414487 52.5px,#433e85 80.5px,#3e4b89 108.5px,#355e8d 112.5px,#287c8e 114.5px,#24a684 116.5px,#25a983 117.5px,#2d708e 120.5px,#39558c 123.5px,#404688 134.5px,#3d4d8a 180.5px,#32658d 187.5px,#23a186 192.5px,#25aa83 194.5px,#248e8b 197.5px,#355f8d 201.5px,#433e85 211.5px,#4c2d7b 246.5px,#482979 257.5px)"></div>
<div style="background:linear-gradient(90deg,#453781 0.5px,#424186 26.5px,#355f8d 34.5px,#22a286 39.5px,#219f87 41.5px,#37598c 46.5px,#433e85 55.5px,#3f4889 107.5px,#355f8d 112.5px,#287d8d 114.5px,#24a684 116.5px,#25a983 117.5px,#2e6f8e 120.5px,#39558c 123.5px,#404688 134.5px,#3d4c8a 181.5px,#33628d 188.5px,#24a584 194.5px,#24a883 196.5px,#2f6d8e 201.5px,#3e4b89 207.5px,#46327f 225.5px,#472a79 257.5px)"></div>
<div style="background:linear-gradient(90deg,#453781 0.5px,#414287 25.5px,#375a8c 32.5px,#248a8c 36.5px,#22a386 38.5px,#219f87 40.5px,#375a8c 45.5px,#433e85 54.5px,#3f4989 107.5px,#355f8d 112.5px,#287e8d 114.5px,#24a784 116.5px,#25a883 117.5px,#2e6f8e 120.5px,#3b518b 124.5px,#404688 137.5px,#3d4d8a 183.5px,#31668d 190.5px,#23a186 195.5px,#24a485 198.5px,#34608d 204.5px,#433e85 214.5px,#482a79 254.5px,#472b7a 257.5px)"></div>
<div style="background:linear-gradient(90deg,#453882 0.5px,#414487 24.5px,#365c8d 31.5px,#22a485 37.5px,#219e87 39.5px,#375b8c 44.5px,#423f85 53.5px,#3f4989 107.5px,#34608d 112.5px,#22968a 115.5px,#24a784 116.5px,#25a883 117.5px,#2e6e8e 120.5px,#3b518b 124.5px,#404688 137.5px,#3d4d8a 184.5px,#33638d 191.5px,#24a584 197.5px,#24a883 199.5px,#2e6e8e 204.5px,#3e4b89 210.5px,#46327f 227.5px,#472d7b 257.5px)"></div>
<div style="background:linear-gradient(90deg,#453882 0.5px,#404588 23.5px,#355f8d 30.5px,#22a585 36.5px,#219d88 38.5px,#375b8c 43.5px,#423f85 52.5px,#3f4788 106.5px,#34608d 112.5px,#229789 115.5px,#25a883 116.5px,#25a883 117.5px,#2e6d8e 120.5px,#3b518b 124.5px,#404688 137.5px,#3d4c8a 185.5px,#31678d 193.5px,#23a186 198.5px,#23a585 201.5px,#375a8c 208.5px,#443982 220.5px,#472e7c 257.5px)"></div>
<div style="background:linear-gradient(90deg,#443982 0.5px,#404688 22.5px,#33638d 29.5px,#22a187 34.5px,#22a486 36.5px,#375a8c 42.5px,#433f85 52.5px,#3f4788 106.5px,#34618d 112.5px,#229989 115.5px,#25a883 116.5px,#24a784 117.5px,#34608d 121.5px,#3f4889 128.5px,#3e4b89 186.5px,#33638d 194.5px,#24a585 200.5px,#23a186 203.5px,#355e8d 209.5px,#433c84 219.5px,#472e7c 254.5px,#472f7d 257.5px)"></div>
<div style="background:linear-gradient(90deg,#443983 0.5px,#3f4888 21.5px,#355f8d 27.5px,#22a386 33.5px,#22a286 35.5px,#375a8c 41.5px,#423f85 51.5px,#3f4788 106.5px,#33628d 112.5px,#229a88 115.5px,#25a983 116.5px,#24a684 117.5px,#2f6b8e 120.5px,#3b508b 124.5px,#404688 139.5px,#3e4b8a 188.5px,#355f8d 195.5px,#23a086 201.5px,#24a684 204.5px,#2f6d8e 209.5px,#3e4a89 215.5px,#46337f 230.5px,#46307e 257.5px)"></div>
<div style="background:linear-gradient(90deg,#443a83 0.5px,#3e4989 20.5px,#33638d 26.5px,#22a585 32.5px,#219f87 34.5px,#37598c 40.5px,#433e85 51.5px,#3f4888 106.5px,#33638d 112.5px,#229c88 115.5px,#25a983 116.5px,#24a585 117.5px,#306a8e 120.5px,#3d4d8a 125.5px,#3f4788 159.5px,#3d4c8a 190.5px,#33628d 197.5px,#23a485 203.5px,#23a485 206.5px,#38598c 213.5px,#453882 225.5px,#46327e 257.5px)"></div>
<div style="background:linear-gradient(90deg,#443a83 0.5px,#3e4b89 19.5px,#31688d 25.5px,#22a286 30.5px,#22a386 32.5px,#38588c 39.5px,#433e85 51.5px,#3f4889 106.5px,#32648d 112.5px,#229f87 115.5px,#25aa82 116.5px,#23a385 117.5px,#31688e 120.5px,#3d4d8a 125.5px,#3f4788 161.5px,#3e4b89 191.5px,#32658d 199.5px,#24a684 205.5px,#23a186 208.5px,#365c8c 214.5px,#443983 225.5px,#46337f 257.5px)"></div>
<div style="background:linear-gradient(90deg,#443b84 0.5px,#3c508b 19.5px,#2e6e8e 24.5px,#22a585 29.5px,#22968a 32.5px,#365c8d 37.5px,#424086 47.5px,#3f4889 106.5px,#32668d 112.5px,#23a186 115.5px,#26aa82 116.5px,#23a286 117.5px,#31678e 120.5px,#3d4d8a 125.5px,#404587 185.5px,#38578c 198.5px,#287d8d 203.5px,#24a883 207.5px,#229d88 210.5px,#38588c 216.5px,#453882 228.5px,#463480 257.5px)"></div>
<div style="background:linear-gradient(90deg,#433d84 0.5px,#3a538b 18.5px,#2c748e 23.5px,#22a286 27.5px,#219c88 30.5px,#375a8c 36.5px,#423f85 47.5px,#3f4889 106.5px,#365d8d 111.5px,#2a778e 113.5px,#23a286 115.5px,#25aa82 116.5px,#248a8c 118.5px,#32668d 120.5px,#3e4a89 126.5px,#3f4989 193.5px,#33638d 202.5px,#23a485 208.5px,#23a286 211.5px,#365b8c 217.5px,#443b83 227.5px,#453580 257.5px)"></div>
<div style="background:linear-gradient(90deg,#433e85 0.5px,#39568c 17.5px,#297c8d 22.5px,#22a585 26.5px,#229789 29.5px,#355f8d 34.5px,#424186 44.5px,#3f4788 105.5px,#355e8d 111.5px,#23908b 114.5px,#23a485 115.5px,#25aa83 116.5px,#25888c 118.5px,#32648d 120.5px,#3e4a89 126.5px,#3e4989 195.5px,#355f8d 203.5px,#239f87 209.5px,#24a684 212.5px,#31688d 217.5px,#3f4788 223.5px,#46337f 240.5px,#453681 257.5px)"></div>
<div style="background:linear-gradient(90deg,#423f86 0.5px,#39578c 15.5px,#297a8e 20.5px,#22a386 24.5px,#219c88 27.5px,#365c8d 33.5px,#424086 44.5px,#3f4788 105.5px,#355f8d 111.5px,#23938a 114.5px,#24a684 115.5px,#25a983 116.5px,#2d718e 119.5px,#39568c 122.5px,#404688 132.5px,#3e4989 197.5px,#34618d 205.5px,#23a385 211.5px,#25a883 213.5px,#2a798d 217.5px,#3a538b 221.5px,#453781 234.5px,#453781 257.5px)"></div>
<div style="background:linear-gradient(90deg,#414286 0.5px,#365b8c 14.5px,#238f8b 20.5px,#22a685 23.5px,#22968a 26.5px,#355f8d 31.5px,#414387 41.5px,#404688 104.5px,#34618d 111.5px,#229789 114.5px,#24a784 115.5px,#24a883 116.5px,#2e6e8e 119.5px,#3b518b 123.5px,#404688 137.5px,#3e4a89 199.5px,#33648d 207.5px,#229e87 212.5px,#25a983 214.5px,#248d8b 217.5px,#365c8c 221.5px,#443b84 231.5px,#453882 257.5px)"></div>
<div style="background:linear-gradient(90deg,#404588 0.5px,#365c8d 12.5px,#238e8b 18.5px,#22a585 21.5px,#229989 24.5px,#365c8d 30.5px,#424086 42.5px,#3f4889 105.5px,#33638d 111.5px,#229b88 114.5px,#25a983 115.5px,#24a684 116.5px,#34608d 120.5px,#3f4788 128.5px,#3f4989 200.5px,#345f8d 208.5px,#23a485 214.5px,#25a883 216.5px,#2b768e 220.5px,#3a538b 224.5px,#453882 237.5px,#443982 257.5px)"></div>
<div style="background:linear-gradient(90deg,#3f4889 0.5px,#33648d 11.5px,#22a585 19.5px,#219c88 22.5px,#355f8d 28.5px,#414286 39.5px,#3f4788 104.5px,#365c8d 110.5px,#248a8c 113.5px,#25aa82 115.5px,#23a485 116.5px,#30698e 119.5px,#3d4d8a 124.5px,#3f4788 158.5px,#3f4989 202.5px,#33638d 210.5px,#23a086 215.5px,#25a983 217.5px,#258a8c 220.5px,#375a8c 224.5px,#433c84 234.5px,#443a83 257.5px)"></div>
<div style="background:linear-gradient(90deg,#3d4c8a 0.5px,#32668d 9.5px,#22a585 17.5px,#219d88 20.5px,#375b8c 27.5px,#424086 40.5px,#3f4989 104.5px,#355f8d 110.5px,#23908b 113.5px,#23a385 114.5px,#25aa82 115.5px,#248b8c 117.5px,#355d8d 120.5px,#3f4788 128.5px,#3f4889 203.5px,#34608d 211.5px,#24a684 217.5px,#24a684 219.5px,#2d728e 223.5px,#3b518b 227.5px,#443982 240.5px,#443a83 257.5px)"></div>
<div style="background:linear-gradient(90deg,#3b518b 0.5px,#2d708e 8.5px,#22a585 15.5px,#219d88 18.5px,#365d8d 25.5px,#424186 37.5px,#3f4788 102.5px,#365c8d 109.5px,#26828d 112.5px,#24a784 114.5px,#25a883 115.5px,#2d718e 118.5px,#39578c 121.5px,#404688 131.5px,#3f4889 205.5px,#365d8d 212.5px,#25898c 216.5px,#25a983 219.5px,#23a186 221.5px,#34608d 226.5px,#423f85 235.5px,#443b84 257.5px)"></div>
<div style="background:linear-gradient(90deg,#38588c 0.5px,#287d8d 7.5px,#22a685 13.5px,#22948a 17.5px,#37598c 24.5px,#423f85 39.5px,#3f4989 102.5px,#34608d 109.5px,#248c8c 112.5px,#25aa83 114.5px,#23a585 115.5px,#34618d 119.5px,#3f4889 126.5px,#3f4788 206.5px,#34618d 214.5px,#23a086 219.5px,#26aa82 221.5px,#258a8c 224.5px,#375b8c 228.5px,#433e85 238.5px,#433c84 257.5px)"></div>
<div style="background:linear-gradient(90deg,#33638d 0.5px,#22a485 10.5px,#219a89 14.5px,#375a8c 22.5px,#423f85 37.5px,#3f4989 101.5px,#355f8d 108.5px,#26858d 111.5px,#24a784 113.5px,#25a983 114.5px,#2b778e 117.5px,#38588c 120.5px,#404688 130.5px,#3f4889 208.5px,#355e8d 215.5px,#239c88 220.5px,#26ab82 222.5px,#248f8b 225.5px,#365d8d 229.5px,#433e85 239.5px,#433d84 257.5px)"></div>
<div style="background:linear-gradient(90deg,#2c748e 0.5px,#22a685 8.5px,#229889 12.5px,#375a8c 20.5px,#423f86 35.5px,#3f4888 99.5px,#355f8d 107.5px,#27818d 110.5px,#23a286 112.5px,#25aa82 113.5px,#22958a 115.5px,#33638d 118.5px,#3f4989 125.5px,#3f4888 209.5px,#365c8d 216.5px,#25898c 220.5px,#26ab82 223.5px,#24a186 225.5px,#355f8d 230.5px,#424186 239.5px,#433e85 257.5px)"></div>
<div style="background:linear-gradient(90deg,#248a8c 0.5px,#23a685 6.5px,#248b8c 11.5px,#375a8c 18.5px,#423f85 34.5px,#3f4889 98.5px,#355f8d 106.5px,#27808d 109.5px,#25a983 112.5px,#229c88 114.5px,#30688e 117.5px,#3d4c8a 123.5px,#3f4788 210.5px,#34618d 218.5px,#24a286 223.5px,#27ab81 225.5px,#2a798e 229.5px,#39558c 233.5px,#433d84 245.5px,#433f85 257.5px)"></div>
<div style="background:linear-gradient(90deg,#219e87 0.5px,#22a286 5.5px,#38598c 16.5px,#433f85 33.5px,#3f4889 97.5px,#355f8d 105.5px,#23908b 109.5px,#25a983 111.5px,#229f87 113.5px,#33638d 117.5px,#3f4889 125.5px,#404688 211.5px,#355f8d 219.5px,#239f86 224.5px,#28ad81 226.5px,#248d8b 229.5px,#365d8d 233.5px,#424086 243.5px,#423f85 257.5px)"></div>
<div style="background:linear-gradient(90deg,#23a684 0.5px,#23918b 5.5px,#375b8c 13.5px,#423f85 30.5px,#3f4889 96.5px,#34608d 104.5px,#23918b 108.5px,#25a983 110.5px,#23a186 112.5px,#32668d 116.5px,#3e4a89 123.5px,#404688 212.5px,#355d8d 220.5px,#248d8b 224.5px,#29ad80 227.5px,#24a086 229.5px,#355f8d 234.5px,#414387 243.5px,#424086 257.5px)"></div>
<div style="background:linear-gradient(90deg,#219d88 0.5px,#38598c 11.5px,#433e85 30.5px,#3f4989 95.5px,#34608d 103.5px,#23918b 107.5px,#25a983 109.5px,#23a186 111.5px,#31688e 115.5px,#3e4b8a 122.5px,#404688 213.5px,#365c8d 221.5px,#258a8c 225.5px,#29ad80 228.5px,#25a484 230.5px,#34618d 235.5px,#414487 244.5px,#424086 257.5px)"></div>
<div style="background:linear-gradient(90deg,#25888c 0.5px,#39578c 9.5px,#433d84 30.5px,#3f4989 94.5px,#34618d 102.5px,#23928a 106.5px,#25a983 108.5px,#23a086 110.5px,#30688e 114.5px,#3d4c8a 121.5px,#3f4788 215.5px,#34618d 223.5px,#25a484 228.5px,#2aae7f 230.5px,#258a8c 233.5px,#365c8d 237.5px,#424186 248.5px,#424186 257.5px)"></div>
<div style="background:linear-gradient(90deg,#2d728e 0.5px,#3c4e8a 10.5px,#433c84 33.5px,#3e4989 93.5px,#33628d 101.5px,#23a186 106.5px,#25a983 108.5px,#2c738e 112.5px,#38578c 116.5px,#404688 129.5px,#3f4989 217.5px,#34608d 224.5px,#23938a 228.5px,#2aad80 230.5px,#29ab81 232.5px,#287e8d 235.5px,#38588c 239.5px,#424186 251.5px,#414287 257.5px)"></div>
<div style="background:linear-gradient(90deg,#34618d 0.5px,#424186 17.5px,#414487 85.5px,#38588c 98.5px,#2a778e 102.5px,#25a983 106.5px,#239f87 108.5px,#31688e 112.5px,#3d4d8a 119.5px,#404688 216.5px,#355f8d 225.5px,#24918b 229.5px,#2aac80 231.5px,#2bad80 233.5px,#27818d 236.5px,#34608d 239.5px,#414487 249.5px,#414387 257.5px)"></div>
<div style="background:linear-gradient(90deg,#39558c 0.5px,#443b84 24.5px,#3f4989 89.5px,#355e8d 98.5px,#25888c 102.5px,#25aa83 105.5px,#229e87 107.5px,#31688e 111.5px,#3d4d8a 118.5px,#404688 217.5px,#355e8d 226.5px,#287e8d 229.5px,#2aac80 232.5px,#2db07e 234.5px,#26858c 237.5px,#34618d 240.5px,#404587 250.5px,#414387 257.5px)"></div>
<div style="background:linear-gradient(90deg,#3c4e8a 0.5px,#443983 27.5px,#3e4a89 88.5px,#34608d 97.5px,#248b8c 101.5px,#25aa82 104.5px,#229d88 106.5px,#31678e 110.5px,#3d4d8a 117.5px,#3e4989 161.5px,#3f4788 219.5px,#355d8d 227.5px,#297b8d 230.5px,#2aab80 233.5px,#30b27c 235.5px,#26888c 238.5px,#33638d 241.5px,#404688 250.5px,#414487 257.5px)"></div>
<div style="background:linear-gradient(90deg,#3f4889 0.5px,#443983 30.5px,#3d4c8a 87.5px,#33638d 96.5px,#24a684 102.5px,#24a684 104.5px,#31668e 109.5px,#3e4c8a 117.5px,#3f4788 220.5px,#33638d 229.5px,#249b87 233.5px,#32b47b 235.5px,#2cac7f 237.5px,#297b8d 240.5px,#38598c 244.5px,#404588 254.5px,#404588 257.5px)"></div>
<div style="background:linear-gradient(90deg,#414387 0.5px,#453882 34.5px,#3d4e8a 86.5px,#31678e 95.5px,#22a087 100.5px,#25aa82 102.5px,#248a8c 105.5px,#355f8d 109.5px,#3f4788 121.5px,#3f4989 222.5px,#33638d 230.5px,#249a88 234.5px,#33b57a 236.5px,#2faf7e 238.5px,#258d8b 240.5px,#32658d 243.5px,#3f4788 252.5px,#404688 257.5px)"></div>
<div style="background:linear-gradient(90deg,#423f85 0.5px,#443982 40.5px,#3c508b 85.5px,#32658d 93.5px,#23a385 99.5px,#25a983 101.5px,#2a798e 105.5px,#37598c 109.5px,#404788 122.5px,#3f4989 223.5px,#33628d 231.5px,#26878c 234.5px,#2baa80 236.5px,#39b877 238.5px,#28a284 240.5px,#2e6f8e 243.5px,#3c4f8a 249.5px,#404688 257.5px)"></div>
<div style="background:linear-gradient(90deg,#443b84 0.5px,#443983 44.5px,#3a548b 85.5px,#2f6c8e 92.5px,#24a784 98.5px,#24a784 100.5px,#2f6b8e 105.5px,#3c4e8a 112.5px,#3f4889 140.5px,#3f4989 224.5px,#33628d 232.5px,#26868c 235.5px,#2cab80 237.5px,#3dba75 239.5px,#28a284 241.5px,#2e6e8e 244.5px,#3c4f8a 250.5px,#3f4788 257.5px)"></div>
<div style="background:linear-gradient(90deg,#453882 0.5px,#443a83 47.5px,#38578c 84.5px,#2c748e 91.5px,#25a983 97.5px,#229a89 100.5px,#33628d 105.5px,#3f4889 116.5px,#3e4989 225.5px,#33628d 233.5px,#26878c 236.5px,#2eac7e 238.5px,#40bc73 240.5px,#28a184 242.5px,#2f6c8e 245.5px,#3c4f8a 251.5px,#3f4889 257.5px)"></div>
<div style="background:linear-gradient(90deg,#453580 0.5px,#443b84 49.5px,#365c8d 83.5px,#287f8d 90.5px,#25a983 95.5px,#229f87 98.5px,#34608d 104.5px,#3f4788 116.5px,#3e4b89 227.5px,#33628d 234.5px,#26888c 237.5px,#31af7c 239.5px,#41bc72 240.5px,#43bd71 241.5px,#279e85 243.5px,#306a8e 246.5px,#3d4d8a 253.5px,#3f4989 257.5px)"></div>
<div style="background:linear-gradient(90deg,#46337f 0.5px,#433c84 49.5px,#355f8d 81.5px,#26838d 88.5px,#25a883 93.5px,#23a286 96.5px,#32648d 102.5px,#3f4889 113.5px,#3e4a89 227.5px,#33638d 235.5px,#258a8c 238.5px,#27a085 239.5px,#47bf6f 241.5px,#45be70 242.5px,#269987 244.5px,#31688e 247.5px,#3e4b8a 255.5px,#3e4a89 257.5px)"></div>
<div style="background:linear-gradient(90deg,#46317e 0.5px,#433c84 47.5px,#34618d 78.5px,#248a8c 86.5px,#25a983 91.5px,#23a286 94.5px,#34618d 101.5px,#3f4788 113.5px,#3d4c8a 229.5px,#32648d 236.5px,#258f8b 239.5px,#2ba582 240.5px,#4cc26c 242.5px,#43bc71 243.5px,#259389 245.5px,#32668e 248.5px,#3e4c8a 256.5px,#3e4b89 257.5px)"></div>
<div style="background:linear-gradient(90deg,#472f7d 0.5px,#443c84 44.5px,#32658d 75.5px,#229989 85.5px,#25a983 90.5px,#26858d 95.5px,#375b8c 101.5px,#404688 116.5px,#3d4d8a 230.5px,#31668e 237.5px,#259688 240.5px,#48bf6e 242.5px,#50c36a 243.5px,#2aa482 245.5px,#2a798e 247.5px,#375a8c 251.5px,#3d4c8a 257.5px)"></div>
<div style="background:linear-gradient(90deg,#472f7d 0.5px,#443b84 41.5px,#32658d 70.5px,#25a883 85.5px,#229e87 90.5px,#34608d 98.5px,#404788 112.5px,#3d4d8a 231.5px,#306a8e 238.5px,#28a085 241.5px,#52c469 243.5px,#50c26a 244.5px,#279c86 246.5px,#306a8e 249.5px,#3d4d8a 257.5px)"></div>
<div style="background:linear-gradient(90deg,#472e7c 0.5px,#433d85 40.5px,#33638d 64.5px,#24a784 81.5px,#23a485 86.5px,#365c8d 97.5px,#404688 113.5px,#3d4e8a 232.5px,#32658e 238.5px,#297c8e 240.5px,#25918a 241.5px,#2faa7f 242.5px,#48be6e 243.5px,#59c765 244.5px,#4dc06c 245.5px,#32ad7c 246.5px,#269489 247.5px,#2d718e 249.5px,#3b528b 255.5px,#3c4e8a 257.5px)"></div>
<div style="background:linear-gradient(90deg,#472e7c 0.5px,#423f85 38.5px,#33638d 59.5px,#24a584 76.5px,#24a684 82.5px,#2e6e8e 91.5px,#3c4f8b 101.5px,#3f4788 125.5px,#3d4d8a 232.5px,#31688e 239.5px,#26848d 241.5px,#279b86 242.5px,#55c567 244.5px,#5cc763 245.5px,#2ca581 247.5px,#2a798e 249.5px,#365b8d 253.5px,#3c508b 257.5px)"></div>
<div style="background:linear-gradient(90deg,#472f7d 0.5px,#414286 37.5px,#32658d 55.5px,#23a485 70.5px,#24a584 78.5px,#306a8e 89.5px,#3e4a89 103.5px,#3c4e8a 233.5px,#2f6c8e 240.5px,#258d8b 242.5px,#2da681 243.5px,#60c961 245.5px,#59c565 246.5px,#279b86 248.5px,#2c748e 250.5px,#39568c 255.5px,#3b528b 257.5px)"></div>
<div style="background:linear-gradient(90deg,#46307e 0.5px,#404688 36.5px,#31688d 51.5px,#24a585 65.5px,#24a485 73.5px,#32668d 87.5px,#3f4788 105.5px,#3c4f8b 234.5px,#31688e 240.5px,#27818d 242.5px,#269887 243.5px,#38b279 244.5px,#58c565 245.5px,#65cb5d 246.5px,#50c16a 247.5px,#31aa7e 248.5px,#25918a 249.5px,#2e6f8e 251.5px,#3a538b 257.5px)"></div>
<div style="background:linear-gradient(90deg,#46327f 0.5px,#3e4a89 34.5px,#2e6f8e 48.5px,#25a883 61.5px,#229d88 70.5px,#375a8c 88.5px,#404688 110.5px,#3c4f8a 234.5px,#2f6c8e 241.5px,#258b8b 243.5px,#2ca482 244.5px,#66cb5d 246.5px,#63c95e 247.5px,#299f84 249.5px,#2b758e 251.5px,#38578c 256.5px,#39558c 257.5px)"></div>
<div style="background:linear-gradient(90deg,#463480 0.5px,#3c508a 33.5px,#297c8d 46.5px,#24a783 56.5px,#229e87 64.5px,#365c8d 83.5px,#404688 109.5px,#3b508b 235.5px,#31688e 241.5px,#27808d 243.5px,#269788 244.5px,#38b178 245.5px,#5dc662 246.5px,#6ecd58 247.5px,#57c466 248.5px,#33ac7c 249.5px,#25928a 250.5px,#2d6f8e 252.5px,#39568c 257.5px)"></div>
<div style="background:linear-gradient(90deg,#453782 0.5px,#3a548b 30.5px,#26868c 43.5px,#25a983 52.5px,#229989 60.5px,#33628d 75.5px,#404688 105.5px,#3c508b 235.5px,#2f6c8e 242.5px,#258b8b 244.5px,#2da581 245.5px,#6dcd59 247.5px,#68cb5b 248.5px,#299e85 250.5px,#2b748e 252.5px,#38588c 257.5px)"></div>
<div style="background:linear-gradient(90deg,#443b84 0.5px,#37598c 27.5px,#24a584 45.5px,#24a485 52.5px,#33628d 69.5px,#404688 104.5px,#3b518b 236.5px,#30698e 242.5px,#27828d 244.5px,#279987 245.5px,#3db476 246.5px,#64c95e 247.5px,#72cf55 248.5px,#55c267 249.5px,#30a97e 250.5px,#258e8b 251.5px,#2e6e8e 253.5px,#37598c 257.5px)"></div>
<div style="background:linear-gradient(90deg,#424086 0.5px,#355e8d 23.5px,#24a485 40.5px,#24a485 47.5px,#34618d 64.5px,#404688 100.5px,#3a538b 237.5px,#2e6e8e 243.5px,#258f8a 245.5px,#31aa7e 246.5px,#58c365 247.5px,#75cf54 248.5px,#64c95e 249.5px,#3bb277 250.5px,#269688 251.5px,#2d718e 253.5px,#375b8d 257.5px)"></div>
<div style="background:linear-gradient(90deg,#404688 0.5px,#33638d 19.5px,#24a585 35.5px,#24a585 42.5px,#355e8d 60.5px,#404588 98.5px,#3b528b 237.5px,#2f6b8e 243.5px,#26878c 245.5px,#2aa183 246.5px,#71ce56 248.5px,#6ecd58 249.5px,#289d85 251.5px,#2c748e 253.5px,#365c8d 257.5px)"></div>
<div style="background:linear-gradient(90deg,#3d4c8a 0.5px,#2f6d8e 16.5px,#24a883 31.5px,#229e87 39.5px,#355d8d 55.5px,#3f4788 86.5px,#3a548b 238.5px,#2c728e 244.5px,#279a87 246.5px,#40b773 247.5px,#6bcc5a 248.5px,#74cf54 249.5px,#4fbf6a 250.5px,#2ba382 251.5px,#2a778e 253.5px,#365d8d 257.5px)"></div>
<div style="background:linear-gradient(90deg,#39558b 0.5px,#297c8d 14.5px,#25a883 26.5px,#229d87 34.5px,#355e8d 50.5px,#3f4788 78.5px,#3a538b 238.5px,#2d708e 244.5px,#269589 246.5px,#3ab277 247.5px,#66ca5d 248.5px,#77d052 249.5px,#57c366 250.5px,#2fa87f 251.5px,#258c8b 252.5px,#2e6e8e 254.5px,#355e8d 257.5px)"></div>
<div style="background:linear-gradient(90deg,#33628d 0.5px,#24a684 19.5px,#23a385 27.5px,#365c8d 46.5px,#404588 77.5px,#3a548b 238.5px,#2d6f8e 244.5px,#259389 246.5px,#37b079 247.5px,#63c85e 248.5px,#79d151 249.5px,#5bc563 250.5px,#31aa7d 251.5px,#258e8b 252.5px,#2e6e8e 254.5px,#355f8d 257.5px)"></div>
<div style="background:linear-gradient(90deg,#2b758e 0.5px,#25a883 15.5px,#229b88 24.5px,#355e8d 40.5px,#404588 69.5px,#3a548c 238.5px,#2d708e 244.5px,#25928a 246.5px,#36af7a 247.5px,#62c85f 248.5px,#79d151 249.5px,#5cc563 250.5px,#31ab7d 251.5px,#258f8b 252.5px,#2e6f8e 254.5px,#355f8d 257.5px)"></div>
<div style="background:linear-gradient(90deg,#248d8b 0.5px,#25aa82 11.5px,#23918b 21.5px,#365c8d 36.5px,#414487 69.5px,#39568c 238.5px,#2d718e 244.5px,#259489 246.5px,#38b179 247.5px,#65c95d 248.5px,#79d151 249.5px,#5ac564 250.5px,#31aa7e 251.5px,#258e8b 252.5px,#2d6f8e 254.5px,#34608d 257.5px)"></div>
<div style="background:linear-gradient(90deg,#23a385 0.5px,#24a684 9.5px,#31678d 26.5px,#3e4a89 48.5px,#404688 108.5px,#38588c 238.5px,#2c738e 244.5px,#269888 246.5px,#3db575 247.5px,#69cb5b 248.5px,#78d052 249.5px,#56c266 250.5px,#2ea87f 251.5px,#258c8b 252.5px,#2e6f8e 254.5px,#34608d 257.5px)"></div>
<div style="background:linear-gradient(90deg,#25aa82 0.5px,#248c8c 11.5px,#375b8c 26.5px,#414287 63.5px,#38588c 236.5px,#2e6e8e 243.5px,#25878c 245.5px,#299f84 246.5px,#70cd57 248.5px,#74cf54 249.5px,#2ba382 251.5px,#2a788e 253.5px,#34608d 257.5px)"></div>
<div style="background:linear-gradient(90deg,#229e87 0.5px,#365c8d 20.5px,#414287 57.5px,#375a8c 235.5px,#2f6c8e 242.5px,#25918a 245.5px,#30aa7e 246.5px,#76d053 248.5px,#6dcc59 249.5px,#43b872 250.5px,#279d86 251.5px,#2b768e 253.5px,#345f8d 257.5px)"></div>
<div style="background:linear-gradient(90deg,#26868c 0.5px,#38588c 17.5px,#424186 58.5px,#375b8d 233.5px,#2c728e 242.5px,#258a8c 244.5px,#289f85 245.5px,#40b773 246.5px,#66ca5c 247.5px,#77d053 248.5px,#5ec661 249.5px,#36af7a 250.5px,#259589 251.5px,#2c738e 253.5px,#355f8d 257.5px)"></div>
<div style="background:linear-gradient(90deg,#2d708e 0.5px,#3d4d8a 21.5px,#424086 74.5px,#365d8d 231.5px,#2c748e 241.5px,#269a87 244.5px,#37b079 245.5px,#74cf55 247.5px,#6dcc59 248.5px,#2ba482 250.5px,#297b8e 252.5px,#355e8d 257.5px)"></div>
<div style="background:linear-gradient(90deg,#355f8d 0.5px,#424286 36.5px,#39568c 214.5px,#2f6b8e 237.5px,#277f8e 241.5px,#269a87 243.5px,#33ad7c 244.5px,#6ecd58 246.5px,#72ce56 247.5px,#35af7b 249.5px,#259788 250.5px,#2b768e 252.5px,#355e8d 257.5px)"></div>
<div style="background:linear-gradient(90deg,#39558b 0.5px,#433e85 44.5px,#355e8d 224.5px,#2c738e 237.5px,#24918a 241.5px,#36b07a 243.5px,#69cc5b 245.5px,#71ce56 246.5px,#5ec762 247.5px,#289f85 249.5px,#2c728e 252.5px,#355d8d 257.5px)"></div>
<div style="background:linear-gradient(90deg,#3d4d8a 0.5px,#433c84 47.5px,#34608d 221.5px,#2b768e 235.5px,#269c86 240.5px,#3eb675 242.5px,#69cc5b 244.5px,#6ece58 245.5px,#5ec761 246.5px,#2aa383 248.5px,#27808e 250.5px,#33628d 255.5px,#365d8d 257.5px)"></div>
<div style="background:linear-gradient(90deg,#404788 0.5px,#443a83 48.5px,#34618d 217.5px,#2a778e 232.5px,#279e85 238.5px,#4cbf6c 241.5px,#69cc5b 243.5px,#69cc5b 244.5px,#3fb774 246.5px,#2ba482 247.5px,#26828d 249.5px,#33638d 254.5px,#365c8d 257.5px)"></div>
<div style="background:linear-gradient(90deg,#424086 0.5px,#443982 51.5px,#33628d 214.5px,#287d8e 230.5px,#29a383 236.5px,#62ca5f 241.5px,#5dc762 243.5px,#29a283 246.5px,#2a798e 249.5px,#365b8d 257.5px)"></div>
<div style="background:linear-gradient(90deg,#443a83 0.5px,#453782 56.5px,#32648e 211.5px,#277f8e 226.5px,#28a483 233.5px,#5cc863 239.5px,#57c566 241.5px,#269b87 245.5px,#2c728e 249.5px,#375b8d 257.5px)"></div>
<div style="background:linear-gradient(90deg,#453681 0.5px,#453782 64.5px,#32658e 206.5px,#27818d 222.5px,#2aa881 230.5px,#54c567 237.5px,#42ba72 240.5px,#269d86 243.5px,#2c728e 248.5px,#375b8d 257.5px)"></div>
<div style="background:linear-gradient(90deg,#46327e 0.5px,#453882 74.5px,#30688e 203.5px,#25868d 218.5px,#2aa981 226.5px,#49c06e 234.5px,#2fac7e 239.5px,#25888d 243.5px,#32648e 251.5px,#375a8c 257.5px)"></div>
<div style="background:linear-gradient(90deg,#472e7c 0.5px,#443983 79.5px,#30698e 198.5px,#248c8c 214.5px,#2eaf7e 223.5px,#3ebb74 231.5px,#259b87 238.5px,#2e6e8e 246.5px,#375a8c 257.5px)"></div>
<div style="background:linear-gradient(90deg,#472d7b 0.5px,#443b84 84.5px,#2f6b8e 193.5px,#238f8b 209.5px,#37b877 223.5px,#28a583 232.5px,#2b748e 242.5px,#375a8c 257.5px)"></div>
<div style="background:linear-gradient(90deg,#472c7b 0.5px,#423f85 94.5px,#2e6e8e 189.5px,#239a88 206.5px,#35b779 218.5px,#259f86 228.5px,#2f6c8e 243.5px,#375b8d 257.5px)"></div>
<div style="background:linear-gradient(90deg,#472c7b 0.5px,#404588 105.5px,#2d708e 183.5px,#249e87 201.5px,#34b679 212.5px,#249c87 223.5px,#2e6e8e 239.5px,#375b8d 257.5px)"></div>
<div style="background:linear-gradient(90deg,#472e7c 0.5px,#3f4889 107.5px,#2d718e 176.5px,#25a385 196.5px,#33b57a 207.5px,#238e8c 221.5px,#2e6d8e 236.5px,#375b8d 257.5px)"></div>
<div style="background:linear-gradient(90deg,#46317e 0.5px,#3e4b89 107.5px,#2c728e 169.5px,#27a683 190.5px,#32b47a 202.5px,#248b8c 216.5px,#2f6c8e 232.5px,#375b8d 257.5px)"></div>
<div style="background:linear-gradient(90deg,#463480 0.5px,#3c4f8b 110.5px,#2b748e 162.5px,#27a783 183.5px,#33b57a 195.5px,#248c8c 210.5px,#2f6b8e 227.5px,#365c8d 257.5px)"></div>
<div style="background:linear-gradient(90deg,#453782 0.5px,#39558c 113.5px,#2a788e 155.5px,#28a982 176.5px,#32b47b 189.5px,#248b8c 204.5px,#2f6b8e 222.5px,#365c8d 257.5px)"></div>
<div style="background:linear-gradient(90deg,#443b84 0.5px,#365b8d 115.5px,#287f8e 149.5px,#29aa81 168.5px,#32b47b 182.5px,#248a8c 198.5px,#306a8e 217.5px,#365d8d 257.5px)"></div>
<div style="background:linear-gradient(90deg,#423f85 0.5px,#33628d 114.5px,#258a8c 144.5px,#30b27c 164.5px,#2bad7f 178.5px,#26828d 194.5px,#31678e 217.5px,#365d8d 257.5px)"></div>
<div style="background:linear-gradient(90deg,#414487 0.5px,#31668e 106.5px,#248c8c 134.5px,#33b57a 158.5px,#27a683 173.5px,#2d708e 198.5px,#355e8d 256.5px,#355e8d 257.5px)"></div>
<div style="background:linear-gradient(90deg,#3f4889 0.5px,#30698e 93.5px,#248d8b 123.5px,#33b57a 148.5px,#26a484 165.5px,#2d718e 191.5px,#355f8d 249.5px,#355f8d 257.5px)"></div>
<div style="background:linear-gradient(90deg,#3d4d8a 0.5px,#2e6e8e 80.5px,#26a384 122.5px,#33b57a 141.5px,#23948a 162.5px,#2e6d8e 188.5px,#34618d 256.5px,#34618d 257.5px)"></div>
<div style="background:linear-gradient(90deg,#3a538b 0.5px,#2c748e 67.5px,#28a782 111.5px,#31b47b 133.5px,#248a8c 157.5px,#2f6b8e 185.5px,#33628d 257.5px)"></div>
<div style="background:linear-gradient(90deg,#37598c 0.5px,#297b8e 54.5px,#2aaa81 93.5px,#30b27c 123.5px,#24898c 147.5px,#2f6c8e 177.5px,#32658e 257.5px)"></div>
<div style="background:linear-gradient(90deg,#34618d 0.5px,#258c8b 49.5px,#33b57a 90.5px,#28a782 119.5px,#2b758e 153.5px,#32668e 227.5px,#31678e 257.5px)"></div>
<div style="background:linear-gradient(90deg,#2e6d8e 0.5px,#28a683 50.5px,#32b47b 82.5px,#238f8b 121.5px,#2d708e 152.5px,#306a8e 257.5px)"></div>
<div style="background:linear-gradient(90deg,#27808d 0.5px,#2cac7f 37.5px,#30b27c 67.5px,#248a8c 110.5px,#2e6e8e 149.5px,#2e6d8e 257.5px)"></div>
<div style="background:linear-gradient(90deg,#249889 0.5px,#34b57a 36.5px,#239789 76.5px,#2d718e 130.5px,#2d718e 257.5px)"></div>
<div style="background:linear-gradient(90deg,#2cae7f 0.5px,#2fb17d 30.5px,#24898c 69.5px,#2d708e 121.5px,#2b748e 257.5px)"></div>
<div style="background:linear-gradient(90deg,#33b57a 0.5px,#239789 37.5px,#2c738e 84.5px,#2b758e 232.5px,#2a778e 257.5px)"></div>
<div style="background:linear-gradient(90deg,#2aab80 0.5px,#277f8e 41.5px,#2f6c8e 98.5px,#297a8e 257.5px)"></div>
<div style="background:linear-gradient(90deg,#239689 0.5px,#2d708e 48.5px,#2d708e 153.5px,#287c8e 257.5px)"></div>
<div style="background:linear-gradient(90deg,#27808e 0.5px,#30698e 56.5px,#287d8e 257.5px)"></div>
<div style="background:linear-gradient(90deg,#2c728e 0.5px,#31668e 92.5px,#277e8e 257.5px)"></div>
<div style="background:linear-gradient(90deg,#30698e 0.5px,#30688e 110.5px,#277f8e 257.5px)"></div>
<div style="background:linear-gradient(90deg,#32648e 0.5px,#30698e 116.5px,#277f8e 257.5px)"></div>
<div style="background:linear-gradient(90deg,#34618d 0.5px,#306a8e 122.5px,#27808e 257.5px)"></div>
<div style="background:linear-gradient(90deg,#355d8d 0.5px,#2f6b8e 126.5px,#27808e 257.5px)"></div>
<div style="background:linear-gradient(90deg,#375b8d 0.5px,#2e6d8e 132.5px,#27808e 257.5px)"></div>
<div style="background:linear-gradient(90deg,#38598c 0.5px,#2d708e 141.5px,#27808e 257.5px)"></div>
<div style="background:linear-gradient(90deg,#38578c 0.5px,#27808e 257.5px)"></div>
<div style="background:linear-gradient(90deg,#38578c 0.5px,#27808e 257.5px)"></div>
<div style="background:linear-gradient(90deg,#38588c 0.5px,#277f8e 257.5px)"></div>
<div style="background:linear-gradient(90deg,#375a8c 0.5px,#277f8e 257.5px)"></div>
<div style="background:linear-gradient(90deg,#365c8d 0.5px,#277e8e 257.5px)"></div>
<div style="background:linear-gradient(90deg,#355f8d 0.5px,#287d8e 252.5px,#287d8e 257.5px)"></div>
<div style="background:linear-gradient(90deg,#33628d 0.5px,#297a8e 221.5px,#287c8e 257.5px)"></div>
<div style="background:linear-gradient(90deg,#31678e 0.5px,#29798e 189.5px,#297a8e 257.5px)"></div>
<div style="background:linear-gradient(90deg,#2e6e8e 0.5px,#287d8e 153.5px,#2a778e 257.5px)"></div>
<div style="background:linear-gradient(90deg,#287c8e 0.5px,#238b8d 139.5px,#2b758e 226.5px,#2b748e 257.5px)"></div>
<div style="background:linear-gradient(90deg,#23918b 0.5px,#239e87 134.5px,#2a778e 203.5px,#2d718e 257.5px)"></div>
<div style="background:linear-gradient(90deg,#28a882 0.5px,#2bad7f 142.5px,#24868d 181.5px,#2d708e 239.5px,#2e6e8e 257.5px)"></div>
<div style="background:linear-gradient(90deg,#32b57a 0.5px,#2fb17d 156.5px,#238a8d 189.5px,#2c728e 227.5px,#2f6b8e 257.5px)"></div>
<div style="background:linear-gradient(90deg,#2dae7e 0.5px,#29aa81 133.5px,#31b37b 169.5px,#238b8d 198.5px,#2c728e 230.5px,#31688e 257.5px)"></div>
<div style="background:linear-gradient(90deg,#249888 0.5px,#24918b 125.5px,#2fb17d 163.5px,#2eb17d 186.5px,#24898d 208.5px,#31688e 248.5px,#32658e 257.5px)"></div>
<div style="background:linear-gradient(90deg,#287f8d 0.5px,#297c8e 127.5px,#239789 158.5px,#34b679 189.5px,#229b88 208.5px,#2b758e 232.5px,#33638d 257.5px)"></div>
<div style="background:linear-gradient(90deg,#306b8e 0.5px,#2e6d8e 131.5px,#248b8c 165.5px,#2eb07d 190.5px,#30b27c 205.5px,#238c8c 223.5px,#33628d 256.5px,#33628d 257.5px)"></div>
<div style="background:linear-gradient(90deg,#355e8d 0.5px,#32648d 132.5px,#26848d 175.5px,#2bad7f 198.5px,#31b37b 213.5px,#248a8d 231.5px,#33628d 254.5px,#34618d 257.5px)"></div>
<div style="background:linear-gradient(90deg,#39558b 0.5px,#365d8d 133.5px,#277f8e 184.5px,#2aab81 206.5px,#33b47a 221.5px,#238f8b 235.5px,#2f6b8e 248.5px,#34608d 257.5px)"></div>
<div style="background:linear-gradient(90deg,#3d4d8a 0.5px,#39568c 129.5px,#297a8e 191.5px,#28a882 213.5px,#3bb975 228.5px,#26a085 236.5px,#2b748e 245.5px,#34608d 257.5px)"></div>
<div style="background:linear-gradient(90deg,#404688 0.5px,#3d4e8a 120.5px,#2b768e 198.5px,#28a782 220.5px,#49c06e 232.5px,#36b279 237.5px,#24938a 241.5px,#2e6f8e 249.5px,#34608d 257.5px)"></div>
<div style="background:linear-gradient(90deg,#433e85 0.5px,#404788 114.5px,#2b758e 206.5px,#259f86 224.5px,#41bc72 231.5px,#58c665 236.5px,#39b378 240.5px,#249889 243.5px,#2c738e 249.5px,#34608d 257.5px)"></div>
<div style="background:linear-gradient(90deg,#453882 0.5px,#424086 110.5px,#2b758e 214.5px,#249a88 228.5px,#38b578 233.5px,#64cb5e 238.5px,#50c169 241.5px,#2aa482 244.5px,#277e8e 248.5px,#34618d 257.5px)"></div>
<div style="background:linear-gradient(90deg,#46327f 0.5px,#443b83 107.5px,#2b758e 221.5px,#249889 232.5px,#3ab577 236.5px,#6ccd5a 240.5px,#68cb5c 242.5px,#2aa482 246.5px,#297a8e 250.5px,#33618d 257.5px)"></div>
<div style="background:linear-gradient(90deg,#472f7d 0.5px,#453782 105.5px,#2c738e 226.5px,#248e8b 234.5px,#2ba681 237.5px,#72cf56 242.5px,#6ecd58 244.5px,#32ac7d 247.5px,#248e8c 249.5px,#2e6f8e 253.5px,#33628d 257.5px)"></div>
<div style="background:linear-gradient(90deg,#472f7d 0.5px,#453681 104.5px,#2d718e 229.5px,#25888d 236.5px,#29a383 239.5px,#56c366 242.5px,#77d053 244.5px,#79d052 245.5px,#6ccc59 246.5px,#38b278 248.5px,#279f85 249.5px,#2a778e 252.5px,#33638d 257.5px)"></div>
<div style="background:linear-gradient(90deg,#46327f 0.5px,#453681 101.5px,#2e6d8e 231.5px,#25858d 238.5px,#28a184 241.5px,#44ba71 243.5px,#71ce56 245.5px,#7bd150 246.5px,#73cf55 247.5px,#38b278 249.5px,#269c87 250.5px,#2c748e 253.5px,#33648d 257.5px)"></div>
<div style="background:linear-gradient(90deg,#453882 0.5px,#453882 101.5px,#306a8e 232.5px,#26848d 240.5px,#29a283 243.5px,#4ebf6b 245.5px,#7bd150 247.5px,#73ce55 248.5px,#2ea97f 250.5px,#24918b 251.5px,#2d6f8e 254.5px,#32648d 257.5px)"></div>
<div style="background:linear-gradient(90deg,#433e85 0.5px,#443a83 100.5px,#30688e 234.5px,#26848d 242.5px,#259b87 244.5px,#2fab7e 245.5px,#6ecd58 247.5px,#7cd150 248.5px,#61c860 249.5px,#37b179 250.5px,#249789 251.5px,#2a778e 253.5px,#32648d 257.5px)"></div>
<div style="background:linear-gradient(90deg,#404688 0.5px,#433d85 101.5px,#31668e 235.5px,#297b8e 242.5px,#28a383 245.5px,#41b972 246.5px,#68cb5b 247.5px,#7cd150 248.5px,#63c85e 249.5px,#38b279 250.5px,#259789 251.5px,#2a778e 253.5px,#33638d 257.5px)"></div>
<div style="background:linear-gradient(90deg,#3d4d8a 0.5px,#424086 102.5px,#33638d 234.5px,#287e8e 242.5px,#259988 244.5px,#34ae7b 245.5px,#75cf54 247.5px,#77d052 248.5px,#30ab7e 250.5px,#24928a 251.5px,#2b758e 253.5px,#33638d 257.5px)"></div>
<div style="background:linear-gradient(90deg,#3a548b 0.5px,#414287 102.5px,#34618d 232.5px,#2a798e 240.5px,#259788 243.5px,#2faa7e 244.5px,#6ecd58 246.5px,#7ad151 247.5px,#65c95d 248.5px,#40b773 249.5px,#289f85 250.5px,#287c8e 252.5px,#33628d 257.5px)"></div>
<div style="background:linear-gradient(90deg,#355e8d 0.5px,#414487 100.5px,#34608d 230.5px,#287c8e 239.5px,#269d86 242.5px,#31ac7d 243.5px,#67ca5c 245.5px,#78d052 246.5px,#6acb5a 247.5px,#2da780 249.5px,#26818e 251.5px,#33638d 256.5px,#34618d 257.5px)"></div>
<div style="background:linear-gradient(90deg,#2e6d8e 0.5px,#404587 90.5px,#355f8d 228.5px,#2a798e 237.5px,#259689 240.5px,#3bb477 242.5px,#68cb5b 244.5px,#76d053 245.5px,#6ecd58 246.5px,#30aa7e 248.5px,#259689 249.5px,#2c728e 252.5px,#345f8d 257.5px)"></div>
<div style="background:linear-gradient(90deg,#26828d 0.5px,#3c4f8a 66.5px,#3f4889 122.5px,#355e8d 226.5px,#2b758e 235.5px,#279e86 239.5px,#45bb70 241.5px,#6dcd59 243.5px,#72cf56 244.5px,#68cb5c 245.5px,#34ae7b 247.5px,#259988 248.5px,#2c738e 251.5px,#355e8d 257.5px)"></div>
<div style="background:linear-gradient(90deg,#21978a 0.5px,#3c4f8a 73.5px,#3f4989 127.5px,#355e8d 224.5px,#2a798e 234.5px,#2ba582 238.5px,#62c95f 241.5px,#6ccd59 242.5px,#59c564 244.5px,#269b87 247.5px,#2b748e 250.5px,#365c8d 257.5px)"></div>
<div style="background:linear-gradient(90deg,#21a287 0.5px,#25858d 35.5px,#3b508b 78.5px,#3f4989 127.5px,#355d8d 222.5px,#2b768e 232.5px,#269f85 236.5px,#64ca5e 240.5px,#65cb5d 241.5px,#36b07a 244.5px,#259589 246.5px,#2d6f8e 250.5px,#365b8d 257.5px)"></div>
<div style="background:linear-gradient(90deg,#209c88 0.5px,#209c88 32.5px,#3a528b 81.5px,#3f4989 127.5px,#365d8d 220.5px,#2b748e 230.5px,#259988 234.5px,#38b478 236.5px,#59c664 238.5px,#60c961 239.5px,#4bbe6d 241.5px,#2ca681 243.5px,#297a8e 247.5px,#375b8d 256.5px,#375a8c 257.5px)"></div>
<div style="background:linear-gradient(90deg,#248a8c 0.5px,#21a287 38.5px,#25868d 59.5px,#38578c 81.5px,#3f4889 122.5px,#365c8d 217.5px,#2c738e 228.5px,#27a284 233.5px,#58c665 237.5px,#4bbf6c 239.5px,#269b87 242.5px,#2b768e 246.5px,#38598c 257.5px)"></div>
<div style="background:linear-gradient(90deg,#2c748e 0.5px,#20a287 49.5px,#238e8c 64.5px,#375a8c 84.5px,#3f4889 121.5px,#365c8d 215.5px,#2c738e 226.5px,#269e86 231.5px,#50c36a 235.5px,#4abf6d 237.5px,#279e85 240.5px,#2c728e 245.5px,#38588c 257.5px)"></div>
<div style="background:linear-gradient(90deg,#33648d 0.5px,#22938b 43.5px,#21a187 62.5px,#297b8e 76.5px,#38578c 92.5px,#3f4889 127.5px,#365b8d 213.5px,#2c738e 224.5px,#259c87 229.5px,#48c06e 233.5px,#46be70 235.5px,#24938a 239.5px,#2e6e8e 244.5px,#39568c 257.5px)"></div>
<div style="background:linear-gradient(90deg,#375a8c 0.5px,#297a8e 41.5px,#20a287 67.5px,#24898c 78.5px,#365b8d 93.5px,#3f4889 124.5px,#375a8c 210.5px,#2c738e 222.5px,#249c87 227.5px,#42bd71 231.5px,#39b578 234.5px,#249589 237.5px,#2e6f8e 242.5px,#39558c 257.5px)"></div>
<div style="background:linear-gradient(90deg,#3a548b 0.5px,#2f6b8e 44.5px,#21a287 74.5px,#27828d 85.5px,#38588c 99.5px,#3f4889 128.5px,#375a8c 208.5px,#2b758e 220.5px,#249d87 225.5px,#3ebb74 229.5px,#35b479 232.5px,#249589 235.5px,#2e6e8e 240.5px,#3a548c 256.5px,#3a548c 257.5px)"></div>
<div style="background:linear-gradient(90deg,#3c4f8a 0.5px,#32658d 51.5px,#238e8c 69.5px,#21a287 79.5px,#248a8c 88.5px,#365b8d 101.5px,#3f4889 126.5px,#38598c 205.5px,#2d728e 217.5px,#249f86 223.5px,#3ab976 227.5px,#31b17c 230.5px,#25898c 234.5px,#31678e 240.5px,#3a538b 257.5px)"></div>
<div style="background:linear-gradient(90deg,#3d4c8a 0.5px,#34618d 58.5px,#248a8c 74.5px,#21a286 84.5px,#25878d 93.5px,#375a8c 105.5px,#3f4889 127.5px,#38598c 203.5px,#2c748e 215.5px,#25a285 221.5px,#35b779 225.5px,#28a583 229.5px,#2c728e 235.5px,#39558c 249.5px,#3b528b 257.5px)"></div>
<div style="background:linear-gradient(90deg,#3f4989 0.5px,#365c8d 62.5px,#27808d 77.5px,#20a287 88.5px,#22928b 95.5px,#365c8d 107.5px,#3f4889 126.5px,#38588c 201.5px,#2d718e 212.5px,#25a484 219.5px,#32b47b 223.5px,#249789 228.5px,#2f6d8e 234.5px,#3a538b 250.5px,#3b518b 257.5px)"></div>
<div style="background:linear-gradient(90deg,#3e4a89 0.5px,#39568c 63.5px,#2c748e 79.5px,#21a287 92.5px,#22918b 99.5px,#375a8c 110.5px,#3f4889 128.5px,#38588c 199.5px,#2c728e 210.5px,#26a783 217.5px,#2eb17d 221.5px,#25898c 227.5px,#32658e 234.5px,#3b518b 253.5px,#3b518b 257.5px)"></div>
<div style="background:linear-gradient(90deg,#3d4c8a 0.5px,#3d4c8a 51.5px,#33628d 78.5px,#21a287 96.5px,#22938b 102.5px,#355d8d 111.5px,#3f4889 127.5px,#39568c 196.5px,#2d6f8e 207.5px,#24a385 214.5px,#2cb07e 218.5px,#248c8c 224.5px,#32668e 231.5px,#3c508b 250.5px,#3c508b 257.5px)"></div>
<div style="background:linear-gradient(90deg,#3c4f8a 0.5px,#3f4888 46.5px,#355e8d 81.5px,#24888d 93.5px,#20a286 100.5px,#22938b 105.5px,#365d8d 113.5px,#3f4889 127.5px,#39578c 195.5px,#2d718e 205.5px,#25a684 212.5px,#2aad80 216.5px,#287f8d 223.5px,#355f8d 231.5px,#3c4e8a 252.5px,#3c4f8a 257.5px)"></div>
<div style="background:linear-gradient(90deg,#3a548b 0.5px,#404588 45.5px,#375b8c 84.5px,#287e8e 95.5px,#21a286 103.5px,#21968a 107.5px,#355f8d 114.5px,#3f4889 127.5px,#39558c 192.5px,#2f6d8e 202.5px,#23a186 209.5px,#29ad80 213.5px,#27808d 220.5px,#355f8d 228.5px,#3d4d8a 250.5px,#3d4e8a 257.5px)"></div>
<div style="background:linear-gradient(90deg,#375b8c 0.5px,#414487 44.5px,#38588c 87.5px,#297a8e 98.5px,#20a286 106.5px,#238e8c 110.5px,#365c8d 116.5px,#3f4889 128.5px,#39558c 190.5px,#2e6d8e 200.5px,#23a385 207.5px,#26aa82 211.5px,#2c748e 219.5px,#39578c 230.5px,#3d4c8a 256.5px,#3d4c8a 257.5px)"></div>
<div style="background:linear-gradient(90deg,#31678d 0.5px,#3f4989 28.5px,#3f4989 72.5px,#33628d 96.5px,#238d8c 104.5px,#20a286 108.5px,#21968a 111.5px,#365d8d 117.5px,#3f4889 128.5px,#3a548c 188.5px,#2e6e8e 198.5px,#23a485 205.5px,#25a784 209.5px,#31678e 219.5px,#3e4b89 239.5px,#3e4b89 257.5px)"></div>
<div style="background:linear-gradient(90deg,#2a798e 0.5px,#3a538b 19.5px,#414387 57.5px,#38588c 95.5px,#2c738e 103.5px,#20a286 110.5px,#22918b 113.5px,#365d8d 118.5px,#3f4889 129.5px,#3a548c 186.5px,#2e6e8e 196.5px,#23a585 203.5px,#23a385 207.5px,#31678e 216.5px,#3e4a89 235.5px,#3e4989 257.5px)"></div>
<div style="background:linear-gradient(90deg,#228e8c 0.5px,#38588c 20.5px,#414286 55.5px,#39558c 96.5px,#2e6f8e 105.5px,#20a187 111.5px,#21948b 114.5px,#33628d 118.5px,#3e4989 127.5px,#3a548b 184.5px,#30698e 193.5px,#23a585 201.5px,#229f87 205.5px,#33638d 214.5px,#3f4788 235.5px,#3f4889 257.5px)"></div>
<div style="background:linear-gradient(90deg,#209d89 0.5px,#3a548b 28.5px,#414287 62.5px,#39568c 100.5px,#2e6e8e 107.5px,#20a386 113.5px,#21948b 115.5px,#34608d 119.5px,#3f4989 128.5px,#3b528b 181.5px,#30698e 191.5px,#22a585 199.5px,#229c88 203.5px,#32648d 211.5px,#404688 230.5px,#404688 257.5px)"></div>
<div style="background:linear-gradient(90deg,#209c89 0.5px,#21968a 10.5px,#3a548b 32.5px,#414287 65.5px,#39558c 102.5px,#31688e 108.5px,#20a386 114.5px,#22928b 116.5px,#32658d 119.5px,#3e4b8a 126.5px,#3b518b 178.5px,#306a8e 189.5px,#22a485 197.5px,#229989 201.5px,#34618d 209.5px,#414387 229.5px,#404487 257.5px)"></div>
<div style="background:linear-gradient(90deg,#238c8c 0.5px,#1f9e88 11.5px,#27818d 22.5px,#3a538b 36.5px,#414287 70.5px,#3a548b 104.5px,#2f6b8e 110.5px,#209f88 114.5px,#209c89 116.5px,#33628d 120.5px,#3e4a89 128.5px,#3b518b 177.5px,#306a8e 187.5px,#21a486 195.5px,#22968a 199.5px,#33638d 206.5px,#414387 224.5px,#414287 257.5px)"></div>
<div style="background:linear-gradient(90deg,#2b768e 0.5px,#209e88 15.5px,#238d8c 24.5px,#39558c 38.5px,#414387 71.5px,#3b528b 105.5px,#306a8e 111.5px,#20a187 115.5px,#21978a 117.5px,#31678e 120.5px,#3d4d8a 126.5px,#3c508b 174.5px,#306a8e 185.5px,#21a386 193.5px,#22938b 197.5px,#34608d 204.5px,#424086 223.5px,#423f85 257.5px)"></div>
<div style="background:linear-gradient(90deg,#33638d 0.5px,#1f9e88 21.5px,#248a8c 29.5px,#38598c 40.5px,#414487 69.5px,#3c4f8a 105.5px,#34618d 111.5px,#21a286 116.5px,#22908b 118.5px,#33628d 121.5px,#3e4989 129.5px,#3b508b 173.5px,#306b8e 183.5px,#20a087 190.5px,#219889 194.5px,#355e8d 202.5px,#433e85 221.5px,#433c84 257.5px)"></div>
<div style="background:linear-gradient(90deg,#39568c 0.5px,#25858d 17.5px,#1f9e88 27.5px,#287e8e 35.5px,#38588c 44.5px,#414387 78.5px,#3c4f8b 107.5px,#33638d 112.5px,#209f87 116.5px,#21a286 117.5px,#355f8d 122.5px,#3f4889 131.5px,#3b518b 172.5px,#306a8e 181.5px,#20a087 188.5px,#21968a 192.5px,#365d8d 200.5px,#443b84 220.5px,#443983 257.5px)"></div>
<div style="background:linear-gradient(90deg,#3d4e8a 0.5px,#2e6f8e 17.5px,#1f9e88 30.5px,#238c8c 36.5px,#365c8d 46.5px,#404588 75.5px,#3d4d8a 107.5px,#355e8d 112.5px,#25878d 115.5px,#21a286 117.5px,#22908b 119.5px,#33628d 122.5px,#3e4a89 129.5px,#3c4e8a 169.5px,#306a8e 179.5px,#20a187 186.5px,#21958a 190.5px,#355f8d 197.5px,#433c84 215.5px,#46337f 250.5px,#453681 257.5px)"></div>
<div style="background:linear-gradient(90deg,#3f4788 0.5px,#33638d 19.5px,#1f9e88 33.5px,#228f8c 39.5px,#365c8d 50.5px,#404588 79.5px,#3d4d8a 108.5px,#33628d 113.5px,#209f88 117.5px,#21a287 118.5px,#355d8d 123.5px,#3f4889 132.5px,#3c508b 169.5px,#30698e 177.5px,#20a187 184.5px,#209c89 187.5px,#355e8d 195.5px,#443a83 214.5px,#472f7d 250.5px,#46337f 257.5px)"></div>
<div style="background:linear-gradient(90deg,#414286 0.5px,#365d8c 22.5px,#1f9e88 37.5px,#238d8c 43.5px,#365d8d 54.5px,#404688 82.5px,#3e4c8a 108.5px,#31678e 114.5px,#21a286 118.5px,#238e8c 120.5px,#34608d 123.5px,#3f4889 131.5px,#3c4e8a 167.5px,#31668e 175.5px,#20a187 182.5px,#209c89 185.5px,#355d8d 193.5px,#453882 213.5px,#4b2e7c 241.5px,#472f7d 257.5px)"></div>
<div style="background:linear-gradient(90deg,#433d84 0.5px,#38588c 25.5px,#1f9e88 40.5px,#238c8c 47.5px,#365c8d 59.5px,#404588 91.5px,#3d4c8a 109.5px,#34628d 114.5px,#20a087 118.5px,#20a187 119.5px,#33638d 123.5px,#3e4a89 130.5px,#3d4e8a 166.5px,#306a8e 174.5px,#20a087 180.5px,#209c89 183.5px,#365d8d 191.5px,#453781 211.5px,#4c2e7c 231.5px,#5a3d85 244.5px,#482c7b 257.5px)"></div>
<div style="background:linear-gradient(90deg,#453882 0.5px,#39558b 28.5px,#25868d 38.5px,#1f9e88 44.5px,#24888d 52.5px,#375b8c 64.5px,#404588 98.5px,#3b508b 111.5px,#31688e 115.5px,#209c89 118.5px,#21a386 119.5px,#24888d 121.5px,#355d8d 124.5px,#3f4889 132.5px,#3c4f8a 166.5px,#32658d 172.5px,#209f88 178.5px,#209c88 181.5px,#365d8d 189.5px,#453781 209.5px,#4c2d7b 226.5px,#715896 240.5px,#674c8f 250.5px,#4f327e 257.5px)"></div>
<div style="background:linear-gradient(90deg,#46337f 0.5px,#3b508b 30.5px,#287d8d 40.5px,#209d89 47.5px,#21928b 54.5px,#365c8d 68.5px,#404588 104.5px,#39568c 113.5px,#2d718e 116.5px,#21a287 119.5px,#209e88 120.5px,#355f8d 124.5px,#3f4889 132.5px,#3d4e8a 165.5px,#32668e 171.5px,#21a287 177.5px,#21968a 180.5px,#365d8d 187.5px,#453781 207.5px,#4c2e7c 223.5px,#836ea4 237.5px,#8671a6 247.5px,#62478b 257.5px)"></div>
<div style="background:linear-gradient(90deg,#472f7d 0.5px,#3e4b89 31.5px,#2c738e 42.5px,#209d89 51.5px,#21938b 58.5px,#365d8d 72.5px,#404688 106.5px,#37598c 114.5px,#287d8e 117.5px,#20a087 119.5px,#20a187 120.5px,#34618d 124.5px,#3f4889 132.5px,#3d4d8a 164.5px,#32658d 170.5px,#20a087 175.5px,#219989 178.5px,#33628d 184.5px,#424086 198.5px,#4a2b7a 220.5px,#9582b0 236.5px,#9d8cb7 246.5px,#806aa1 255.5px,#775f9a 257.5px)"></div>
<div style="background:linear-gradient(90deg,#492d7b 0.5px,#414286 29.5px,#32658d 43.5px,#209c89 55.5px,#21958b 62.5px,#355e8d 76.5px,#404688 107.5px,#355e8d 115.5px,#209d88 119.5px,#20a287 120.5px,#25858d 122.5px,#365c8d 125.5px,#3f4788 134.5px,#3d4d8a 164.5px,#34618d 169.5px,#21a187 174.5px,#22938b 177.5px,#33638d 182.5px,#424086 196.5px,#4c2d7b 219.5px,#9e8db7 234.5px,#b0a2c5 244.5px,#9b8ab5 253.5px,#8873a7 257.5px)"></div>
<div style="background:linear-gradient(90deg,#523580 0.5px,#46317e 19.5px,#375b8c 44.5px,#209e88 60.5px,#228e8c 68.5px,#365c8d 82.5px,#3f4889 109.5px,#365c8d 115.5px,#25878d 118.5px,#20a286 120.5px,#248a8c 122.5px,#355d8d 125.5px,#3f4788 134.5px,#3d4e8a 164.5px,#32658d 169.5px,#20a187 173.5px,#219a89 175.5px,#32658d 180.5px,#414487 192.5px,#4c2d7b 218.5px,#a697bd 233.5px,#bdb2ce 243.5px,#ad9fc2 252.5px,#9683b1 257.5px)"></div>
<div style="background:linear-gradient(90deg,#694f91 0.5px,#583b84 11.5px,#472c7b 19.5px,#365b8c 48.5px,#209d89 64.5px,#22908c 72.5px,#375b8c 87.5px,#3f4989 110.5px,#33628d 116.5px,#20a287 120.5px,#209e88 121.5px,#355f8d 125.5px,#3f4889 133.5px,#3d4e8a 164.5px,#31678e 169.5px,#209d88 172.5px,#21a386 173.5px,#33628d 179.5px,#424086 193.5px,#4b2b7a 217.5px,#aa9bc0 232.5px,#c5bbd4 242.5px,#baaecc 251.5px,#9f8eb8 257.5px)"></div>
<div style="background:linear-gradient(90deg,#8570a5 0.5px,#78619b 9.5px,#4b2d7b 20.5px,#39568c 50.5px,#1f9e88 69.5px,#228f8c 77.5px,#38598c 92.5px,#3e4b89 111.5px,#34608d 116.5px,#20a087 120.5px,#20a187 121.5px,#34618d 125.5px,#3e4989 132.5px,#3d4e8a 164.5px,#31688e 169.5px,#209e88 172.5px,#20a287 173.5px,#31668e 178.5px,#3f4788 187.5px,#4c2d7b 217.5px,#ad9fc3 232.5px,#c9c0d7 242.5px,#beb3cf 251.5px,#a393bb 257.5px)"></div>
<div style="background:linear-gradient(90deg,#a090b9 0.5px,#9380af 9.5px,#4a2d7b 23.5px,#355e8d 57.5px,#1f9d89 73.5px,#22918b 81.5px,#37598c 95.5px,#3e4a89 111.5px,#355e8d 116.5px,#209e88 120.5px,#21a287 121.5px,#33628d 125.5px,#3e4989 132.5px,#3d4e8a 164.5px,#31668e 169.5px,#209a89 172.5px,#20a286 173.5px,#38588c 181.5px,#424086 191.5px,#4c2c7b 217.5px,#ad9ec2 232.5px,#c9c0d7 242.5px,#beb3cf 251.5px,#a393bb 257.5px)"></div>
<div style="background:linear-gradient(90deg,#baaecc 0.5px,#b0a2c5 8.5px,#79629c 18.5px,#4b2c7b 25.5px,#355e8d 61.5px,#1f9e88 78.5px,#21938b 85.5px,#38588c 98.5px,#3d4c8a 112.5px,#32668d 117.5px,#209c89 120.5px,#21a386 121.5px,#25868d 123.5px,#365c8d 126.5px,#3f4788 135.5px,#3d4d8a 164.5px,#33638d 169.5px,#209f88 173.5px,#209f88 175.5px,#39568c 182.5px,#433e85 192.5px,#4a2a79 217.5px,#ac9ec2 233.5px,#c5bad4 243.5px,#b6a9c9 252.5px,#9e8eb8 257.5px)"></div>
<div style="background:linear-gradient(90deg,#d1c9dd 0.5px,#c7bdd6 8.5px,#9582b0 17.5px,#4a2b7a 27.5px,#34608d 66.5px,#1f9e88 83.5px,#238d8c 90.5px,#375a8c 100.5px,#3c4e8a 113.5px,#33648d 117.5px,#219989 120.5px,#21a286 121.5px,#248a8c 123.5px,#365d8d 126.5px,#3f4788 135.5px,#3d4d8a 164.5px,#345f8d 169.5px,#209e88 174.5px,#209b89 177.5px,#345f8d 181.5px,#414387 188.5px,#4a2b7a 218.5px,#a393bb 233.5px,#bbafcd 243.5px,#ac9dc2 252.5px,#9583b1 257.5px)"></div>
<div style="background:linear-gradient(90deg,#e5e0ec 0.5px,#dbd4e4 8.5px,#a797be 17.5px,#4b2c7b 28.5px,#365d8d 69.5px,#1f9e88 87.5px,#228e8c 93.5px,#365c8d 102.5px,#3c4e8a 113.5px,#33628d 117.5px,#21a287 121.5px,#209e88 122.5px,#355e8d 126.5px,#3f4889 134.5px,#3d4e8a 165.5px,#2f6b8e 171.5px,#20a087 176.5px,#21948b 178.5px,#34618d 181.5px,#414387 188.5px,#4a2b7a 219.5px,#9e8db7 235.5px,#ad9fc2 245.5px,#9684b1 254.5px,#8873a7 257.5px)"></div>
<div style="background:linear-gradient(90deg,#f3f1f6 0.5px,#eae7f0 8.5px,#bdb2ce 16.5px,#4c2d7b 29.5px,#355e8d 74.5px,#1f9f88 91.5px,#238d8c 96.5px,#365d8d 104.5px,#3d4e8a 113.5px,#34608d 117.5px,#20a187 121.5px,#20a087 122.5px,#355f8d 126.5px,#3f4889 134.5px,#3d4d8a 165.5px,#306a8e 172.5px,#21968a 177.5px,#38588c 182.5px,#423f85 191.5px,#4b2c7a 221.5px,#907dad 236.5px,#9a89b5 246.5px,#8069a1 255.5px,#775f9a 257.5px)"></div>
<div style="background:linear-gradient(90deg,#fcfcfd 0.5px,#f2f0f5 9.5px,#c1b6d1 17.5px,#4b2c7a 30.5px,#355d8d 78.5px,#22918b 90.5px,#1f9e88 95.5px,#365c8d 107.5px,#3c508b 114.5px,#306a8e 118.5px,#20a087 121.5px,#20a187 122.5px,#34618d 126.5px,#3f4989 133.5px,#3d4e8a 166.5px,#31678e 173.5px,#26848d 177.5px,#3b518b 183.5px,#433d85 195.5px,#4c2e7c 224.5px,#816ba2 238.5px,#826ca3 248.5px,#62478b 257.5px)"></div>
<div style="background:linear-gradient(90deg,#ffffff 0.5px,#f9f8fa 9.5px,#d1c9dd 16.5px,#492a79 31.5px,#355f8d 83.5px,#248a8c 92.5px,#1f9f88 97.5px,#25868d 102.5px,#3b528b 111.5px,#3a538b 115.5px,#30688e 118.5px,#209e88 121.5px,#20a287 122.5px,#33628d 126.5px,#3f4989 133.5px,#3d4d8a 166.5px,#30698e 175.5px,#2e6d8e 178.5px,#3f4788 186.5px,#4c2d7b 227.5px,#6e5594 242.5px,#5d4188 253.5px,#50327e 257.5px)"></div>
<div style="background:linear-gradient(90deg,#ffffff 0.5px,#f9f8fa 10.5px,#c4bad3 18.5px,#4a2a79 31.5px,#365d8d 86.5px,#25858d 94.5px,#1f9f88 99.5px,#24898d 104.5px,#3a548c 111.5px,#3b528b 115.5px,#31668e 118.5px,#209c88 121.5px,#20a287 122.5px,#25858d 124.5px,#365b8d 127.5px,#3f4788 136.5px,#3c4e8a 168.5px,#34618d 178.5px,#414286 190.5px,#4d2e7c 233.5px,#563983 246.5px,#492c7a 257.5px)"></div>
<div style="background:linear-gradient(90deg,#ffffff 0.5px,#f9f9fb 10.5px,#cdc5da 17.5px,#4a2a79 31.5px,#375b8c 88.5px,#287c8e 95.5px,#1fa187 101.5px,#21918c 105.5px,#375b8c 110.5px,#3b528b 115.5px,#32658d 118.5px,#209b89 121.5px,#20a386 122.5px,#25878d 124.5px,#365c8d 127.5px,#3f4788 135.5px,#3c4e8a 169.5px,#38598c 179.5px,#424086 193.5px,#4b2c7b 244.5px,#472d7c 257.5px)"></div>
</div>
<svg width="897" height="1199" viewBox="0 0 897 1199" font-family="'Liberation Serif', serif" fill="#000">
<defs><linearGradient id="cbc" x1="0" y1="0" x2="0" y2="1"><stop offset="0.000" stop-color="#fde725"/><stop offset="0.042" stop-color="#e5e419"/><stop offset="0.083" stop-color="#c8e020"/><stop offset="0.125" stop-color="#addc30"/><stop offset="0.167" stop-color="#90d743"/><stop offset="0.208" stop-color="#75d054"/><stop offset="0.250" stop-color="#5ec962"/><stop offset="0.292" stop-color="#48c16e"/><stop offset="0.333" stop-color="#35b779"/><stop offset="0.375" stop-color="#28ae80"/><stop offset="0.417" stop-color="#20a486"/><stop offset="0.458" stop-color="#1f9a8a"/><stop offset="0.500" stop-color="#21918c"/><stop offset="0.542" stop-color="#24868e"/><stop offset="0.583" stop-color="#287c8e"/><stop offset="0.625" stop-color="#2c728e"/><stop offset="0.667" stop-color="#31688e"/><stop offset="0.708" stop-color="#365d8d"/><stop offset="0.750" stop-color="#3b528b"/><stop offset="0.792" stop-color="#404688"/><stop offset="0.833" stop-color="#443983"/><stop offset="0.875" stop-color="#472d7b"/><stop offset="0.917" stop-color="#7d679f"/><stop offset="0.958" stop-color="#c9bfd7"/><stop offset="1.000" stop-color="#ffffff"/></linearGradient><linearGradient id="cbd" x1="0" y1="0" x2="0" y2="1"><stop offset="0.000" stop-color="#fde725"/><stop offset="0.042" stop-color="#e5e419"/><stop offset="0.083" stop-color="#c8e020"/><stop offset="0.125" stop-color="#addc30"/><stop offset="0.167" stop-color="#90d743"/><stop offset="0.208" stop-color="#75d054"/><stop offset="0.250" stop-color="#5ec962"/><stop offset="0.292" stop-color="#48c16e"/><stop offset="0.333" stop-color="#35b779"/><stop offset="0.375" stop-color="#28ae80"/><stop offset="0.417" stop-color="#20a486"/><stop offset="0.458" stop-color="#1f9a8a"/><stop offset="0.500" stop-color="#21918c"/><stop offset="0.542" stop-color="#24868e"/><stop offset="0.583" stop-color="#287c8e"/><stop offset="0.625" stop-color="#2c728e"/><stop offset="0.667" stop-color="#31688e"/><stop offset="0.708" stop-color="#365d8d"/><stop offset="0.750" stop-color="#3b528b"/><stop offset="0.792" stop-color="#404688"/><stop offset="0.833" stop-color="#443983"/><stop offset="0.875" stop-color="#472d7b"/><stop offset="0.917" stop-color="#7d679f"/><stop offset="0.958" stop-color="#c9bfd7"/><stop offset="1.000" stop-color="#ffffff"/></linearGradient><linearGradient id="cbg" x1="0" y1="0" x2="0" y2="1"><stop offset="0.000" stop-color="#800000"/><stop offset="0.042" stop-color="#ad0000"/><stop offset="0.083" stop-color="#df0000"/><stop offset="0.125" stop-color="#ff1e00"/><stop offset="0.167" stop-color="#ff4700"/><stop offset="0.208" stop-color="#ff6f00"/><stop offset="0.250" stop-color="#ff9400"/><stop offset="0.292" stop-color="#ffbd00"/><stop offset="0.333" stop-color="#ffe600"/><stop offset="0.375" stop-color="#e4ff13"/><stop offset="0.417" stop-color="#c1ff36"/><stop offset="0.458" stop-color="#9dff5a"/><stop offset="0.500" stop-color="#7dff7a"/><stop offset="0.542" stop-color="#5aff9d"/><stop offset="0.583" stop-color="#36ffc1"/><stop offset="0.625" stop-color="#16ffe1"/><stop offset="0.667" stop-color="#00d4ff"/><stop offset="0.708" stop-color="#00a8ff"/><stop offset="0.750" stop-color="#0080ff"/><stop offset="0.792" stop-color="#0054ff"/><stop offset="0.833" stop-color="#0028ff"/><stop offset="0.875" stop-color="#0000ff"/><stop offset="0.917" stop-color="#0000df"/><stop offset="0.958" stop-color="#0000ad"/><stop offset="1.000" stop-color="#000080"/></linearGradient></defs>
<text x="0.5" y="38" font-size="17">f</text>
<text x="307.5" y="10.5" font-size="17">a</text>
<path d="M72.3,113 L115.7,113 C124,126 133,142 142,158 C148,168 152,175 152.5,182.5 C146,181.5 140,179 132,173 C112,158 90,137 72.3,113 Z" fill="#f0a000" stroke="none" stroke-width="1"/>
<path d="M72.3,113 L115.7,113 C124,126 133,142 142,158 C148,168 152,175 152.5,182.5 C146,181.5 140,179 132,173 C112,158 90,137 72.3,113 Z" fill="#2d0a3c" stroke="none" stroke-width="1" transform="translate(128.2,-0.3)"/>
<line x1="20" y1="113" x2="20.0" y2="28.0" stroke="#111" stroke-width="1.5"/>
<path d="M20.00,21.50 L22.40,30.00 L20.00,28.00 L17.60,30.00 Z" fill="#111"/>
<line x1="20" y1="113" x2="310.5" y2="113.0" stroke="#111" stroke-width="1.5"/>
<path d="M317.00,113.00 L308.50,115.40 L310.50,113.00 L308.50,110.60 Z" fill="#111"/>
<line x1="20" y1="113" x2="69.9" y2="174.45" stroke="#111" stroke-width="1.5"/>
<path d="M74.00,179.50 L66.78,174.41 L69.90,174.45 L70.50,171.39 Z" fill="#111"/>
<line x1="159" y1="113" x2="209.07" y2="173.98" stroke="#111" stroke-width="1.5"/>
<path d="M213.20,179.00 L205.95,173.95 L209.07,173.98 L209.66,170.91 Z" fill="#111"/>
<text x="44.5" y="181" font-size="17">s</text>
<text x="133" y="196" font-size="17" font-style="italic">ω<tspan font-size="12" dy="3">i</tspan></text>
<text x="206" y="200" font-size="17">2<tspan font-style="italic">ω</tspan><tspan font-size="12" dy="3">p</tspan></text>
<text x="281.4" y="198" font-size="17" font-style="italic">ω<tspan font-size="12" dy="3">s</tspan></text>
<text x="305.5" y="140.5" font-size="17" font-style="italic">ω</text>
<text x="535.5" y="38" font-size="17">f</text>
<text x="842" y="11.5" font-size="17">b</text>
<path d="M608.3,113.0 L608.3,111.7 L608.4,110.0 L608.5,107.7 L608.6,105.1 L608.8,101.9 L609.1,98.1 L609.5,94.1 L609.8,90.2 L610.1,86.5 L610.4,82.8 L610.8,79.1 L611.1,75.4 L611.6,71.7 L612.0,68.0 L612.5,64.3 L613.1,60.5 L613.7,56.8 L614.4,53.1 L615.1,49.4 L615.9,45.7 L616.8,41.8 L617.7,37.8 L618.7,34.1 L619.7,30.9 L620.7,28.3 L621.6,26.2 L622.6,24.5 L623.5,22.9 L624.3,21.6 L625.0,20.5 L625.8,19.6 L626.5,18.8 L627.3,18.1 L628.0,17.5 L628.8,17.1 L629.5,17.0 L630.3,17.1 L631.1,17.5 L631.8,18.1 L632.6,18.8 L633.3,19.6 L634.1,20.5 L634.8,21.6 L635.6,22.9 L636.5,24.5 L637.5,26.2 L638.4,28.3 L639.4,30.9 L640.4,34.1 L641.4,37.8 L642.3,41.8 L643.2,45.7 L644.0,49.4 L644.7,53.1 L645.4,56.8 L646.0,60.5 L646.6,64.3 L647.1,68.0 L647.5,71.7 L648.0,75.4 L648.3,79.1 L648.7,82.8 L649.0,86.5 L649.3,90.2 L649.6,94.1 L650.0,98.1 L650.3,101.9 L650.5,105.1 L650.6,107.7 L650.7,110.0 L650.8,111.7 L650.8,113.0 Z" fill="#f0a000" stroke="none" stroke-width="1"/>
<path d="M734.6,113.0 L734.6,111.7 L734.7,110.0 L734.8,107.7 L734.9,105.0 L735.1,101.8 L735.5,98.0 L735.8,94.0 L736.1,90.1 L736.4,86.4 L736.7,82.7 L737.1,78.9 L737.5,75.2 L737.9,71.5 L738.4,67.7 L738.9,64.0 L739.4,60.3 L740.1,56.5 L740.7,52.8 L741.5,49.1 L742.2,45.4 L743.1,41.5 L744.1,37.5 L745.1,33.7 L746.1,30.4 L747.0,27.9 L748.0,25.8 L749.0,24.0 L749.9,22.5 L750.7,21.1 L751.5,20.0 L752.2,19.1 L752.9,18.3 L753.7,17.6 L754.5,17.0 L755.2,16.6 L756.0,16.5 L756.8,16.6 L757.5,17.0 L758.3,17.6 L759.1,18.3 L759.8,19.1 L760.5,20.0 L761.3,21.1 L762.1,22.5 L763.0,24.0 L764.0,25.8 L765.0,27.9 L765.9,30.4 L766.9,33.7 L767.9,37.5 L768.9,41.5 L769.8,45.4 L770.5,49.1 L771.3,52.8 L771.9,56.5 L772.6,60.3 L773.1,64.0 L773.6,67.7 L774.1,71.5 L774.5,75.2 L774.9,78.9 L775.3,82.7 L775.6,86.4 L775.9,90.1 L776.2,94.0 L776.5,98.0 L776.9,101.8 L777.1,105.0 L777.2,107.7 L777.3,110.0 L777.4,111.7 L777.4,113.0 Z" fill="#2d0a3c" stroke="none" stroke-width="1"/>
<line x1="555" y1="113" x2="555.0" y2="28.0" stroke="#111" stroke-width="1.5"/>
<path d="M555.00,21.50 L557.40,30.00 L555.00,28.00 L552.60,30.00 Z" fill="#111"/>
<line x1="555" y1="113" x2="845.0" y2="113.0" stroke="#111" stroke-width="1.5"/>
<path d="M851.50,113.00 L843.00,115.40 L845.00,113.00 L843.00,110.60 Z" fill="#111"/>
<line x1="555" y1="113" x2="604.41" y2="173.95" stroke="#111" stroke-width="1.5"/>
<path d="M608.50,179.00 L601.28,173.91 L604.41,173.95 L605.01,170.89 Z" fill="#111"/>
<line x1="693" y1="113" x2="743.27" y2="173.98" stroke="#111" stroke-width="1.5"/>
<path d="M747.40,179.00 L740.14,173.97 L743.27,173.98 L743.85,170.91 Z" fill="#111"/>
<text x="579" y="181" font-size="17">s</text>
<text x="621.5" y="8" font-size="17" font-style="italic">ω<tspan font-size="12" dy="3">i</tspan></text>
<text x="745" y="8" font-size="17" font-style="italic">ω<tspan font-size="12" dy="3">s</tspan></text>
<text x="707.5" y="185" font-size="17">2<tspan font-style="italic">ω</tspan><tspan font-size="12" dy="3">p</tspan></text>
<text x="839" y="141" font-size="17" font-style="italic">ω</text>
<line x1="140.3" y1="241" x2="140.3" y2="477" stroke="#e070e0" stroke-width="4.2" opacity="0.4"/>
<line x1="140.3" y1="241" x2="140.3" y2="477" stroke="#8a3a96" stroke-width="3" opacity="0.85" stroke-dasharray="6 2.6"/>
<rect x="63" y="240" width="257.5" height="237.5" fill="none" stroke="#000" stroke-width="1.5"/>
<line x1="63" y1="270" x2="71" y2="270" stroke="#111" stroke-width="1.4"/>
<line x1="63" y1="307.5" x2="71" y2="307.5" stroke="#111" stroke-width="1.4"/>
<line x1="63" y1="359" x2="71" y2="359" stroke="#111" stroke-width="1.4"/>
<line x1="63" y1="448" x2="71" y2="448" stroke="#111" stroke-width="1.4"/>
<text x="53" y="245.5" font-size="17" text-anchor="end">2.5</text>
<text x="53" y="275.5" font-size="17" text-anchor="end">2.0</text>
<text x="53" y="312.5" font-size="17" text-anchor="end">1.5</text>
<text x="53" y="364" font-size="17" text-anchor="end">1.0</text>
<text x="53" y="453" font-size="17" text-anchor="end">0.5</text>
<text x="143.5" y="502.5" font-size="17" text-anchor="middle">0.74</text>
<text x="320.3" y="502.5" font-size="17" text-anchor="middle">0.76</text>
<text x="209" y="509" font-size="17"><tspan font-style="italic">λ</tspan><tspan font-size="12" dy="3" font-style="normal">p</tspan><tspan dy="-3">, μm</tspan></text>
<text transform="translate(16,372) rotate(-90)" font-size="17" text-anchor="middle"><tspan font-style="italic">λ</tspan><tspan font-size="12" dy="3" font-style="italic">s</tspan><tspan dy="-3">, </tspan><tspan font-style="italic">λ</tspan><tspan font-size="12" dy="3" font-style="italic">i</tspan><tspan dy="-3">, μm</tspan></text>
<text x="304" y="260.5" font-size="16">c</text>
<rect x="324.5" y="252" width="18" height="115" fill="url(#cbc)" stroke="#111" stroke-width="1.3"/>
<text x="350" y="258.5" font-size="17">1</text>
<text x="348.5" y="314.5" font-size="17">0</text>
<text x="348.5" y="371.5" font-size="17">−1</text>
<line x1="692" y1="242" x2="692" y2="476" stroke="#b048c0" stroke-width="3.6" opacity="0.8"/>
<line x1="692" y1="242" x2="692" y2="476" stroke="#d070d8" stroke-width="3" opacity="0.5" stroke-dasharray="4 4"/>
<rect x="573.5" y="240.5" width="258.5" height="236.5" fill="none" stroke="#000" stroke-width="1.5"/>
<line x1="668.2" y1="476" x2="668.2" y2="466" stroke="#c0c8e0" stroke-width="1.1" opacity="0.6"/>
<line x1="765.6" y1="476" x2="765.6" y2="466" stroke="#c0c8e0" stroke-width="1.1" opacity="0.6"/>
<line x1="573.5" y1="262.7" x2="581" y2="262.7" stroke="#111" stroke-width="1.4"/>
<line x1="573.5" y1="337.7" x2="581" y2="337.7" stroke="#111" stroke-width="1.4"/>
<line x1="573.5" y1="464.7" x2="581" y2="464.7" stroke="#111" stroke-width="1.4"/>
<text x="563.5" y="268.5" font-size="17" text-anchor="end">1.5</text>
<text x="563.5" y="343" font-size="17" text-anchor="end">1.0</text>
<text x="563.5" y="470" font-size="17" text-anchor="end">0.5</text>
<text x="572.5" y="502" font-size="17" text-anchor="middle">0.72</text>
<text x="668.2" y="502" font-size="17" text-anchor="middle">0.73</text>
<text x="765.6" y="502" font-size="17" text-anchor="middle">0.74</text>
<text x="794" y="509.5" font-size="17"><tspan font-style="italic">λ</tspan><tspan font-size="12" dy="3" font-style="normal">p</tspan><tspan dy="-3">, μm</tspan></text>
<text transform="translate(529,363) rotate(-90)" font-size="17" text-anchor="middle"><tspan font-style="italic">λ</tspan><tspan font-size="12" dy="3" font-style="italic">s</tspan><tspan dy="-3">, </tspan><tspan font-style="italic">λ</tspan><tspan font-size="12" dy="3" font-style="italic">i</tspan><tspan dy="-3">, μm</tspan></text>
<rect x="617.8" y="261.5" width="8.700000000000045" height="17.100000000000023" fill="#fff" stroke="none" stroke-width="0"/>
<text x="622.15" y="274.6" font-size="15" text-anchor="middle" font-style="italic">3</text>
<rect x="677.2" y="262.6" width="8.799999999999955" height="17.399999999999977" fill="#fff" stroke="none" stroke-width="0"/>
<text x="681.6" y="276" font-size="15" text-anchor="middle" font-style="italic">2</text>
<rect x="731.5" y="262.2" width="8.600000000000023" height="17.30000000000001" fill="#fff" stroke="none" stroke-width="0"/>
<text x="735.8" y="275.5" font-size="15" text-anchor="middle" font-style="italic">1</text>
<rect x="812.2" y="250.1" width="13.799999999999955" height="18.099999999999994" fill="#fff" stroke="none" stroke-width="0"/>
<text x="819.1" y="264.2" font-size="16" text-anchor="middle">d</text>
<rect x="835" y="252.3" width="19" height="115" fill="url(#cbd)" stroke="#111" stroke-width="1.3"/>
<text x="859.5" y="257.5" font-size="17">2</text>
<text x="860" y="295.5" font-size="17">1</text>
<text x="859.5" y="333.5" font-size="17">0</text>
<text x="859.5" y="372" font-size="17">−1</text>
<line x1="57.2" y1="574" x2="57.2" y2="807.4" stroke="#111" stroke-width="1.4"/>
<line x1="56.55" y1="806.8" x2="368" y2="806.8" stroke="#111" stroke-width="1.4"/>
<line x1="57.2" y1="574.5" x2="65" y2="574.5" stroke="#111" stroke-width="1.4"/>
<line x1="57.2" y1="621" x2="65" y2="621" stroke="#111" stroke-width="1.4"/>
<line x1="57.2" y1="667.5" x2="65" y2="667.5" stroke="#111" stroke-width="1.4"/>
<line x1="57.2" y1="714" x2="65" y2="714" stroke="#111" stroke-width="1.4"/>
<line x1="57.2" y1="760.5" x2="65" y2="760.5" stroke="#111" stroke-width="1.4"/>
<line x1="69" y1="806.8" x2="69" y2="796" stroke="#111" stroke-width="1.4"/>
<line x1="165" y1="806.8" x2="165" y2="796" stroke="#111" stroke-width="1.4"/>
<line x1="261" y1="806.8" x2="261" y2="796" stroke="#111" stroke-width="1.4"/>
<line x1="357" y1="806.8" x2="357" y2="796" stroke="#111" stroke-width="1.4"/>
<text x="46.5" y="580" font-size="17" text-anchor="end">4</text>
<text x="46.5" y="626.5" font-size="17" text-anchor="end">3</text>
<text x="46.5" y="673" font-size="17" text-anchor="end">2</text>
<text x="46.5" y="719.5" font-size="17" text-anchor="end">1</text>
<text x="46.5" y="766" font-size="17" text-anchor="end">0</text>
<text x="46.5" y="812.3" font-size="17" text-anchor="end">−1</text>
<text x="69" y="832" font-size="17" text-anchor="middle">0.8</text>
<text x="165" y="832" font-size="17" text-anchor="middle">1.2</text>
<text x="261" y="832" font-size="17" text-anchor="middle">1.6</text>
<text x="357" y="832" font-size="17" text-anchor="middle">2.0</text>
<text x="284" y="846" font-size="17"><tspan font-style="italic">λ</tspan><tspan font-size="12" dy="3" font-style="italic">i</tspan><tspan dy="-3">, μm</tspan></text>
<text transform="translate(25,692.5) rotate(-90)" font-size="17" text-anchor="middle">τ<tspan font-size="12" dy="3">g</tspan><tspan dy="-3">, ps</tspan></text>
<text x="354.5" y="591.5" font-size="16">e</text>
<path d="M57.5,760.6 L58.9,760.1 L60.3,759.6 L61.7,759.1 L63.1,758.6 L64.6,758.1 L66.0,757.6 L67.4,757.1 L68.8,756.6 L70.2,756.1 L71.6,755.6 L73.0,755.0 L74.4,754.5 L75.9,753.9 L77.3,753.3 L78.7,752.8 L80.1,752.2 L81.5,751.5 L82.9,750.9 L84.3,750.3 L85.7,749.6 L87.2,748.9 L88.6,748.2 L90.0,747.5 L91.4,746.8 L92.8,746.1 L94.2,745.3 L95.6,744.5 L97.0,743.7 L98.4,742.9 L99.9,742.1 L101.3,741.2 L102.7,740.3 L104.1,739.4 L105.5,738.5 L106.9,737.6 L108.3,736.7 L109.7,735.7 L111.2,734.8 L112.6,733.8 L114.0,732.8 L115.4,731.8 L116.8,730.8 L118.2,729.8 L119.6,728.8 L121.0,727.7 L122.5,726.7 L123.9,725.6 L125.3,724.6 L126.7,723.5 L128.1,722.5 L129.5,721.4 L130.9,720.4 L132.3,719.3 L133.8,718.3 L135.2,717.2 L136.6,716.2 L138.0,715.1 L139.4,714.1 L140.8,713.0 L142.2,712.0 L143.6,710.9 L145.0,709.9 L146.5,708.9 L147.9,707.9 L149.3,706.9 L150.7,705.9 L152.1,704.9 L153.5,703.9 L154.9,702.9 L156.3,701.9 L157.8,701.0 L159.2,700.0 L160.6,699.1 L162.0,698.2 L163.4,697.2 L164.8,696.3 L166.2,695.4 L167.6,694.5 L169.1,693.6 L170.5,692.8 L171.9,691.9 L173.3,691.0 L174.7,690.2 L176.1,689.4 L177.5,688.5 L178.9,687.7 L180.3,686.9 L181.8,686.1 L183.2,685.4 L184.6,684.6 L186.0,683.8 L187.4,683.1 L188.8,682.4 L190.2,681.6 L191.6,680.9 L193.1,680.3 L194.5,679.6 L195.9,678.9 L197.3,678.3 L198.7,677.7 L200.1,677.0 L201.5,676.5 L202.9,675.9 L204.4,675.3 L205.8,674.8 L207.2,674.3 L208.6,673.8 L210.0,673.3 L211.4,672.8 L212.8,672.4 L214.2,672.0 L215.7,671.6 L217.1,671.3 L218.5,670.9 L219.9,670.6 L221.3,670.3 L222.7,670.1 L224.1,669.9 L225.5,669.7 L226.9,669.5 L228.4,669.4 L229.8,669.3 L231.2,669.2 L232.6,669.2 L234.0,669.2 L235.4,669.2 L236.8,669.3 L238.2,669.4 L239.7,669.6 L241.1,669.8 L242.5,670.0 L243.9,670.3 L245.3,670.6 L246.7,671.0 L248.1,671.4 L249.5,671.9 L251.0,672.4 L252.4,673.0 L253.8,673.6 L255.2,674.3 L256.6,675.0 L258.0,675.8 L259.4,676.6 L260.8,677.4 L262.2,678.4 L263.7,679.3 L265.1,680.3 L266.5,681.4 L267.9,682.5 L269.3,683.7 L270.7,684.9 L272.1,686.2 L273.5,687.5 L275.0,688.9 L276.4,690.3 L277.8,691.7 L279.2,693.2 L280.6,694.8 L282.0,696.4 L283.4,698.0 L284.8,699.7 L286.3,701.4 L287.7,703.2 L289.1,704.9 L290.5,706.8 L291.9,708.6 L293.3,710.6 L294.7,712.5 L296.1,714.5 L297.6,716.5 L299.0,718.5 L300.4,720.5 L301.8,722.6 L303.2,724.8 L304.6,726.9 L306.0,729.1 L307.4,731.4 L308.8,733.7 L310.3,736.0 L311.7,738.4 L313.1,740.8 L314.5,743.3 L315.9,745.8 L317.3,748.4 L318.7,751.1 L320.1,753.8 L321.6,756.6 L323.0,759.5 L324.4,762.5 L325.8,765.6 L327.2,768.9 L328.6,772.3 L330.0,776.0 L331.4,780.0 L332.9,784.3 L334.3,788.9 L335.7,794.1 L337.1,799.8 L338.5,806.1" fill="none" stroke="#1f1f9c" stroke-width="2.8" stroke-linejoin="round"/>
<path d="M57.5,760.3 L59.1,759.6 L60.6,758.8 L62.2,758.0 L63.8,757.3 L65.3,756.5 L66.9,755.7 L68.4,754.9 L70.0,754.1 L71.6,753.3 L73.1,752.5 L74.7,751.6 L76.3,750.8 L77.8,750.0 L79.4,749.1 L80.9,748.3 L82.5,747.4 L84.1,746.6 L85.6,745.7 L87.2,744.9 L88.8,744.0 L90.3,743.1 L91.9,742.3 L93.5,741.4 L95.0,740.5 L96.6,739.6 L98.1,738.7 L99.7,737.8 L101.3,737.0 L102.8,736.1 L104.4,735.2 L106.0,734.3 L107.5,733.4 L109.1,732.5 L110.7,731.6 L112.2,730.7 L113.8,729.7 L115.3,728.8 L116.9,727.9 L118.5,727.0 L120.0,726.1 L121.6,725.2 L123.2,724.3 L124.7,723.4 L126.3,722.4 L127.8,721.5 L129.4,720.6 L131.0,719.7 L132.5,718.8 L134.1,717.9 L135.7,716.9 L137.2,716.0 L138.8,715.1 L140.4,714.2 L141.9,713.3 L143.5,712.4 L145.0,711.5 L146.6,710.5 L148.2,709.6 L149.7,708.7 L151.3,707.8 L152.9,706.9 L154.4,706.0 L156.0,705.1 L157.6,704.2 L159.1,703.3 L160.7,702.4 L162.2,701.5 L163.8,700.6 L165.4,699.7 L166.9,698.8 L168.5,697.9 L170.1,697.0 L171.6,696.2 L173.2,695.3 L174.7,694.4 L176.3,693.5 L177.9,692.6 L179.4,691.8 L181.0,690.9 L182.6,690.0 L184.1,689.2 L185.7,688.3 L187.3,687.4 L188.8,686.6 L190.4,685.7 L191.9,684.9 L193.5,684.1 L195.1,683.2 L196.6,682.4 L198.2,681.5 L199.8,680.7 L201.3,679.9 L202.9,679.1 L204.5,678.2 L206.0,677.4 L207.6,676.6 L209.1,675.8 L210.7,675.0 L212.3,674.2 L213.8,673.4 L215.4,672.6 L217.0,671.8 L218.5,671.0 L220.1,670.2 L221.6,669.4 L223.2,668.7 L224.8,667.9 L226.3,667.1 L227.9,666.4 L229.5,665.6 L231.0,664.9 L232.6,664.1 L234.2,663.4 L235.7,662.6 L237.3,661.9 L238.8,661.1 L240.4,660.4 L242.0,659.7 L243.5,658.9 L245.1,658.2 L246.7,657.5 L248.2,656.8 L249.8,656.1 L251.4,655.4 L252.9,654.7 L254.5,654.0 L256.0,653.3 L257.6,652.6 L259.2,651.9 L260.7,651.3 L262.3,650.6 L263.9,649.9 L265.4,649.2 L267.0,648.6 L268.5,647.9 L270.1,647.3 L271.7,646.6 L273.2,646.0 L274.8,645.3 L276.4,644.7 L277.9,644.1 L279.5,643.4 L281.1,642.8 L282.6,642.2 L284.2,641.6 L285.7,641.0 L287.3,640.3 L288.9,639.7 L290.4,639.1 L292.0,638.5 L293.6,637.9 L295.1,637.3 L296.7,636.8 L298.3,636.2 L299.8,635.6 L301.4,635.0 L302.9,634.4 L304.5,633.9 L306.1,633.3 L307.6,632.7 L309.2,632.2 L310.8,631.6 L312.3,631.1 L313.9,630.5 L315.4,630.0 L317.0,629.4 L318.6,628.9 L320.1,628.3 L321.7,627.8 L323.3,627.3 L324.8,626.7 L326.4,626.2 L328.0,625.7 L329.5,625.1 L331.1,624.6 L332.6,624.1 L334.2,623.6 L335.8,623.1 L337.3,622.6 L338.9,622.1 L340.5,621.5 L342.0,621.0 L343.6,620.5 L345.2,620.0 L346.7,619.5 L348.3,619.0 L349.8,618.5 L351.4,618.0 L353.0,617.6 L354.5,617.1 L356.1,616.6 L357.7,616.1 L359.2,615.6 L360.8,615.1 L362.3,614.6 L363.9,614.1 L365.5,613.7 L367.0,613.2 L368.6,612.7" fill="none" stroke="#2a762a" stroke-width="2.8" stroke-linejoin="round"/>
<line x1="69.4" y1="589.8" x2="121.5" y2="589.8" stroke="#1f1f9c" stroke-width="2.8"/>
<line x1="69.4" y1="618.1" x2="121.5" y2="618.1" stroke="#2a762a" stroke-width="2.8"/>
<text x="124.5" y="594.8" font-size="17">Idler</text>
<text x="124.5" y="622.6" font-size="17">Signal</text>
<line x1="559.6" y1="574" x2="559.6" y2="807.9" stroke="#111" stroke-width="1.4"/>
<line x1="558.95" y1="807.3" x2="870.5" y2="807.3" stroke="#111" stroke-width="1.4"/>
<line x1="559.6" y1="574.5" x2="567.5" y2="574.5" stroke="#111" stroke-width="1.4"/>
<line x1="559.6" y1="641" x2="567.5" y2="641" stroke="#111" stroke-width="1.4"/>
<line x1="559.6" y1="707.5" x2="567.5" y2="707.5" stroke="#111" stroke-width="1.4"/>
<line x1="559.6" y1="774" x2="567.5" y2="774" stroke="#111" stroke-width="1.4"/>
<line x1="576.8" y1="807.3" x2="576.8" y2="797" stroke="#111" stroke-width="1.4"/>
<line x1="645.8" y1="807.3" x2="645.8" y2="797" stroke="#111" stroke-width="1.4"/>
<line x1="714.8" y1="807.3" x2="714.8" y2="797" stroke="#111" stroke-width="1.4"/>
<line x1="783.9" y1="807.3" x2="783.9" y2="797" stroke="#111" stroke-width="1.4"/>
<line x1="853" y1="807.3" x2="853" y2="797" stroke="#111" stroke-width="1.4"/>
<text x="549" y="580" font-size="17" text-anchor="end">3</text>
<text x="549" y="646.5" font-size="17" text-anchor="end">2</text>
<text x="549" y="713" font-size="17" text-anchor="end">1</text>
<text x="549" y="779.5" font-size="17" text-anchor="end">0</text>
<text x="576.8" y="832.5" font-size="17" text-anchor="middle">0.8</text>
<text x="645.8" y="832.5" font-size="17" text-anchor="middle">1.0</text>
<text x="714.8" y="832.5" font-size="17" text-anchor="middle">1.2</text>
<text x="783.9" y="832.5" font-size="17" text-anchor="middle">1.4</text>
<text x="853" y="832.5" font-size="17" text-anchor="middle">1.6</text>
<text x="795" y="850" font-size="17"><tspan font-style="italic">λ</tspan><tspan font-size="12" dy="3" font-style="italic">i</tspan><tspan dy="-3">, μm</tspan></text>
<text transform="translate(527,696) rotate(-90)" font-size="17" text-anchor="middle">τ<tspan font-size="12" dy="3">g</tspan><tspan dy="-3">, ps</tspan></text>
<text x="856" y="589.5" font-size="16">f</text>
<path d="M560.0,774.4 L561.6,774.6 L563.1,774.6 L564.7,774.6 L566.3,774.6 L567.8,774.5 L569.4,774.3 L571.0,774.1 L572.5,773.9 L574.1,773.6 L575.7,773.2 L577.2,772.9 L578.8,772.4 L580.4,772.0 L581.9,771.5 L583.5,771.0 L585.1,770.5 L586.6,769.9 L588.2,769.3 L589.8,768.7 L591.3,768.0 L592.9,767.4 L594.4,766.7 L596.0,766.0 L597.6,765.3 L599.1,764.6 L600.7,763.8 L602.3,763.1 L603.8,762.3 L605.4,761.5 L607.0,760.7 L608.5,759.9 L610.1,759.1 L611.7,758.3 L613.2,757.4 L614.8,756.6 L616.4,755.7 L617.9,754.8 L619.5,753.9 L621.1,753.0 L622.6,752.1 L624.2,751.2 L625.8,750.2 L627.3,749.3 L628.9,748.3 L630.5,747.3 L632.0,746.4 L633.6,745.4 L635.2,744.3 L636.7,743.3 L638.3,742.3 L639.9,741.2 L641.4,740.2 L643.0,739.1 L644.6,738.0 L646.1,736.9 L647.7,735.8 L649.3,734.7 L650.8,733.5 L652.4,732.4 L653.9,731.2 L655.5,730.0 L657.1,728.9 L658.6,727.7 L660.2,726.5 L661.8,725.2 L663.3,724.0 L664.9,722.8 L666.5,721.5 L668.0,720.3 L669.6,719.0 L671.2,717.8 L672.7,716.5 L674.3,715.2 L675.9,713.9 L677.4,712.6 L679.0,711.3 L680.6,710.0 L682.1,708.7 L683.7,707.4 L685.3,706.1 L686.8,704.8 L688.4,703.5 L690.0,702.2 L691.5,700.9 L693.1,699.6 L694.7,698.3 L696.2,697.1 L697.8,695.8 L699.4,694.5 L700.9,693.3 L702.5,692.0 L704.1,690.8 L705.6,689.6 L707.2,688.4 L708.8,687.2 L710.3,686.0 L711.9,684.9 L713.5,683.7 L715.0,682.6 L716.6,681.5 L718.1,680.4 L719.7,679.3 L721.3,678.3 L722.8,677.2 L724.4,676.2 L726.0,675.2 L727.5,674.1 L729.1,673.1 L730.7,672.2 L732.2,671.2 L733.8,670.2 L735.4,669.3 L736.9,668.4 L738.5,667.5 L740.1,666.6 L741.6,665.7 L743.2,664.8 L744.8,663.9 L746.3,663.0 L747.9,662.2 L749.5,661.4 L751.0,660.5 L752.6,659.7 L754.2,658.9 L755.7,658.1 L757.3,657.3 L758.9,656.6 L760.4,655.8 L762.0,655.1 L763.6,654.3 L765.1,653.6 L766.7,652.9 L768.3,652.2 L769.8,651.5 L771.4,650.9 L773.0,650.3 L774.5,649.7 L776.1,649.1 L777.7,648.5 L779.2,647.9 L780.8,647.4 L782.3,646.9 L783.9,646.5 L785.5,646.0 L787.0,645.6 L788.6,645.3 L790.2,644.9 L791.7,644.6 L793.3,644.4 L794.9,644.1 L796.4,643.9 L798.0,643.8 L799.6,643.6 L801.1,643.5 L802.7,643.5 L804.3,643.5 L805.8,643.5 L807.4,643.5 L809.0,643.6 L810.5,643.7 L812.1,643.9 L813.7,644.0 L815.2,644.2 L816.8,644.5 L818.4,644.7 L819.9,645.0 L821.5,645.4 L823.1,645.7 L824.6,646.1 L826.2,646.5 L827.8,646.9 L829.3,647.3 L830.9,647.8 L832.5,648.3 L834.0,648.8 L835.6,649.3 L837.2,649.9 L838.7,650.4 L840.3,651.0 L841.8,651.6 L843.4,652.3 L845.0,652.9 L846.5,653.6 L848.1,654.3 L849.7,655.0 L851.2,655.7 L852.8,656.5 L854.4,657.2 L855.9,658.0 L857.5,658.8 L859.1,659.7 L860.6,660.5 L862.2,661.4 L863.8,662.3 L865.3,663.3 L866.9,664.2 L868.5,665.2 L870.0,666.2 L871.6,667.3" fill="none" stroke="#1f1f9c" stroke-width="2.8" stroke-linejoin="round"/>
<path d="M560.0,771.5 L561.6,771.0 L563.1,770.5 L564.7,770.0 L566.3,769.4 L567.8,768.9 L569.4,768.3 L571.0,767.8 L572.5,767.2 L574.1,766.6 L575.7,766.0 L577.2,765.4 L578.8,764.7 L580.4,764.1 L581.9,763.4 L583.5,762.8 L585.1,762.1 L586.6,761.4 L588.2,760.7 L589.8,760.0 L591.3,759.2 L592.9,758.5 L594.4,757.7 L596.0,757.0 L597.6,756.2 L599.1,755.4 L600.7,754.6 L602.3,753.8 L603.8,752.9 L605.4,752.1 L607.0,751.3 L608.5,750.4 L610.1,749.5 L611.7,748.6 L613.2,747.7 L614.8,746.8 L616.4,745.9 L617.9,745.0 L619.5,744.1 L621.1,743.1 L622.6,742.2 L624.2,741.2 L625.8,740.3 L627.3,739.3 L628.9,738.3 L630.5,737.3 L632.0,736.3 L633.6,735.3 L635.2,734.3 L636.7,733.3 L638.3,732.3 L639.9,731.2 L641.4,730.2 L643.0,729.1 L644.6,728.1 L646.1,727.0 L647.7,726.0 L649.3,724.9 L650.8,723.9 L652.4,722.8 L653.9,721.7 L655.5,720.7 L657.1,719.6 L658.6,718.5 L660.2,717.4 L661.8,716.3 L663.3,715.3 L664.9,714.2 L666.5,713.1 L668.0,712.0 L669.6,710.9 L671.2,709.9 L672.7,708.8 L674.3,707.7 L675.9,706.6 L677.4,705.5 L679.0,704.5 L680.6,703.4 L682.1,702.3 L683.7,701.3 L685.3,700.2 L686.8,699.2 L688.4,698.1 L690.0,697.1 L691.5,696.0 L693.1,695.0 L694.7,693.9 L696.2,692.9 L697.8,691.9 L699.4,690.9 L700.9,689.9 L702.5,688.9 L704.1,687.8 L705.6,686.9 L707.2,685.9 L708.8,684.9 L710.3,683.9 L711.9,682.9 L713.5,681.9 L715.0,681.0 L716.6,680.0 L718.1,679.1 L719.7,678.1 L721.3,677.2 L722.8,676.2 L724.4,675.3 L726.0,674.4 L727.5,673.4 L729.1,672.5 L730.7,671.6 L732.2,670.7 L733.8,669.8 L735.4,668.8 L736.9,667.9 L738.5,667.0 L740.1,666.1 L741.6,665.3 L743.2,664.4 L744.8,663.5 L746.3,662.6 L747.9,661.7 L749.5,660.8 L751.0,660.0 L752.6,659.1 L754.2,658.2 L755.7,657.4 L757.3,656.5 L758.9,655.7 L760.4,654.8 L762.0,653.9 L763.6,653.1 L765.1,652.3 L766.7,651.4 L768.3,650.6 L769.8,649.7 L771.4,648.9 L773.0,648.1 L774.5,647.2 L776.1,646.4 L777.7,645.6 L779.2,644.8 L780.8,644.0 L782.3,643.1 L783.9,642.3 L785.5,641.5 L787.0,640.7 L788.6,639.9 L790.2,639.1 L791.7,638.3 L793.3,637.5 L794.9,636.7 L796.4,635.9 L798.0,635.2 L799.6,634.4 L801.1,633.6 L802.7,632.8 L804.3,632.0 L805.8,631.3 L807.4,630.5 L809.0,629.7 L810.5,629.0 L812.1,628.2 L813.7,627.5 L815.2,626.7 L816.8,626.0 L818.4,625.2 L819.9,624.5 L821.5,623.8 L823.1,623.0 L824.6,622.3 L826.2,621.6 L827.8,620.9 L829.3,620.2 L830.9,619.5 L832.5,618.7 L834.0,618.0 L835.6,617.4 L837.2,616.7 L838.7,616.0 L840.3,615.3 L841.8,614.6 L843.4,614.0 L845.0,613.3 L846.5,612.6 L848.1,612.0 L849.7,611.3 L851.2,610.7 L852.8,610.0 L854.4,609.4 L855.9,608.8 L857.5,608.2 L859.1,607.6 L860.6,607.0 L862.2,606.4 L863.8,605.8 L865.3,605.2 L866.9,604.6 L868.5,604.0 L870.0,603.5 L871.6,602.9" fill="none" stroke="#2a762a" stroke-width="2.8" stroke-linejoin="round"/>
<line x1="573" y1="590.4" x2="624" y2="590.4" stroke="#1f1f9c" stroke-width="2.8"/>
<line x1="573" y1="618.3" x2="624" y2="618.3" stroke="#2a762a" stroke-width="2.8"/>
<text x="627" y="595.4" font-size="17">Idler</text>
<text x="627" y="622.8" font-size="17">Signal</text>
<rect x="77.2" y="912.2" width="242.3" height="243" fill="none" stroke="#000030" stroke-width="1.5"/>
<line x1="78" y1="993.1" x2="89" y2="993.1" stroke="#c8d0ff" stroke-width="1.1" opacity="0.55"/>
<line x1="78" y1="1073.8" x2="89" y2="1073.8" stroke="#c8d0ff" stroke-width="1.1" opacity="0.55"/>
<line x1="113.4" y1="1154" x2="113.4" y2="1144" stroke="#c8d0ff" stroke-width="1.1" opacity="0.55"/>
<line x1="188" y1="1154" x2="188" y2="1144" stroke="#c8d0ff" stroke-width="1.1" opacity="0.55"/>
<line x1="261.3" y1="1154" x2="261.3" y2="1144" stroke="#c8d0ff" stroke-width="1.1" opacity="0.55"/>
<text x="64.5" y="918.5" font-size="17" text-anchor="end">912</text>
<text x="64.5" y="998.5" font-size="17" text-anchor="end">908</text>
<text x="64.5" y="1079.3" font-size="17" text-anchor="end">904</text>
<text x="64.5" y="1159.5" font-size="17" text-anchor="end">900</text>
<text x="113.4" y="1180.3" font-size="17" text-anchor="middle">735</text>
<text x="188" y="1180.3" font-size="17" text-anchor="middle">740</text>
<text x="261.3" y="1180.3" font-size="17" text-anchor="middle">745</text>
<text x="10.5" y="958" font-size="17"><tspan font-style="italic">λ</tspan><tspan font-size="12" dy="3" font-style="italic">i</tspan><tspan dy="-3">, nm</tspan></text>
<text x="202.5" y="1194" font-size="17"><tspan font-style="italic">λ</tspan><tspan font-size="12" dy="3" font-style="italic">s</tspan><tspan dy="-3">, nm</tspan></text>
<rect x="294" y="920" width="14" height="18" fill="#fff" stroke="none" stroke-width="0"/>
<text x="301.0" y="934" font-size="16" text-anchor="middle">g</text>
<rect x="334.3" y="922.7" width="19.5" height="119.5" fill="url(#cbg)" stroke="#111" stroke-width="1.3"/>
<text x="360" y="928.5" font-size="17">0</text>
<text x="360.5" y="988.3" font-size="17">−15</text>
<text x="360.5" y="1046.8" font-size="17">−30</text>
<rect x="612" y="911.3" width="42.799999999999955" height="242.5" fill="#0b5626" stroke="none" stroke-width="0"/>
<line x1="633.4" y1="1153" x2="633.4" y2="1143" stroke="#9fc8a8" stroke-width="1" opacity="0.6"/>
<rect x="664.2" y="1005.8" width="43.0" height="148.0" fill="#0b5626" stroke="none" stroke-width="0"/>
<line x1="685.7" y1="1153" x2="685.7" y2="1143" stroke="#9fc8a8" stroke-width="1" opacity="0.6"/>
<rect x="717.5" y="1016.8" width="43.0" height="137.0" fill="#0b5626" stroke="none" stroke-width="0"/>
<line x1="739.0" y1="1153" x2="739.0" y2="1143" stroke="#9fc8a8" stroke-width="1" opacity="0.6"/>
<rect x="770.6" y="1081.5" width="43.0" height="72.29999999999995" fill="#0b5626" stroke="none" stroke-width="0"/>
<line x1="792.1" y1="1153" x2="792.1" y2="1143" stroke="#9fc8a8" stroke-width="1" opacity="0.6"/>
<rect x="823.7" y="1104" width="42.799999999999955" height="49.799999999999955" fill="#0b5626" stroke="none" stroke-width="0"/>
<line x1="845.1" y1="1153" x2="845.1" y2="1143" stroke="#9fc8a8" stroke-width="1" opacity="0.6"/>
<line x1="606.5" y1="908.4" x2="606.5" y2="1154.45" stroke="#111" stroke-width="1.4"/>
<line x1="605.85" y1="1153.8" x2="873" y2="1153.8" stroke="#111" stroke-width="1.4"/>
<line x1="606.5" y1="908.4" x2="615" y2="908.4" stroke="#111" stroke-width="1.4"/>
<line x1="606.5" y1="1006.6" x2="615" y2="1006.6" stroke="#111" stroke-width="1.4"/>
<line x1="606.5" y1="1104.9" x2="615" y2="1104.9" stroke="#111" stroke-width="1.4"/>
<text x="573" y="916.5" font-size="17">10<tspan font-size="11" dy="-6.5">0</tspan></text>
<text x="564" y="1012" font-size="17">10<tspan font-size="11" dy="-6.5">−2</tspan></text>
<text x="564" y="1110.3" font-size="17">10<tspan font-size="11" dy="-6.5">−4</tspan></text>
<text x="630.9" y="1178" font-size="17" text-anchor="middle">1</text>
<text x="685.7" y="1178" font-size="17" text-anchor="middle">2</text>
<text x="739.0" y="1178" font-size="17" text-anchor="middle">3</text>
<text x="792.1" y="1178" font-size="17" text-anchor="middle">4</text>
<text x="845.1" y="1178" font-size="17" text-anchor="middle">5</text>
<text x="814" y="1186.5" font-size="17" font-style="italic">n</text>
<text x="560" y="972.5" font-size="15" font-style="italic">λ<tspan font-size="11" dy="2.5">n</tspan></text>
<text x="888" y="926.5" font-size="16">h</text>
</svg>
</body></html>
